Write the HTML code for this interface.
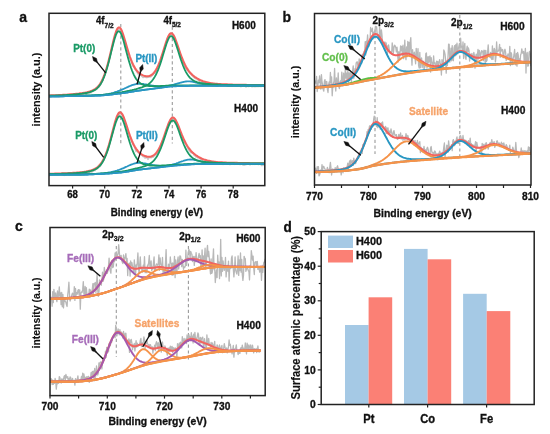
<!DOCTYPE html><html><head><meta charset="utf-8"><style>html,body{margin:0;padding:0;background:#fff;width:550px;height:434px;overflow:hidden}svg{display:block}text{white-space:pre}</style></head><body>
<svg width="550" height="434" viewBox="0 0 550 434" font-family='"Liberation Sans", sans-serif' font-weight="bold" style="will-change:transform">
<defs><clipPath id="ca"><rect x="49" y="13.3" width="215.8" height="172.29999999999998"/></clipPath><clipPath id="cb"><rect x="314.5" y="13.5" width="216.5" height="171.5"/></clipPath><clipPath id="cc"><rect x="50" y="227.5" width="215.2" height="168.10000000000002"/></clipPath></defs>
<line x1="120.8" y1="24" x2="120.8" y2="143.5" stroke="#9a9a9a" stroke-width="1.1" stroke-dasharray="3.2,2.6"/>
<line x1="172.3" y1="26.5" x2="172.3" y2="143.5" stroke="#9a9a9a" stroke-width="1.1" stroke-dasharray="3.2,2.6"/>
<g clip-path="url(#ca)"><polyline points="49.0,96.7 50.0,97.3 51.0,97.2 52.0,96.3 53.0,96.4 54.0,96.3 55.0,96.8 56.0,96.4 57.0,96.8 58.0,95.4 59.0,97.1 60.0,96.2 61.0,96.6 62.0,96.1 63.0,95.9 64.0,96.3 65.0,96.4 66.0,95.8 67.0,95.8 68.0,96.1 69.0,95.3 70.0,94.9 71.0,95.8 72.0,95.2 73.0,94.4 74.0,94.9 75.0,95.0 76.0,94.5 77.0,94.3 78.0,94.9 79.0,95.2 80.0,94.5 81.0,94.1 82.0,94.6 83.0,94.6 84.0,93.9 85.0,94.1 86.0,94.2 87.0,93.3 88.0,92.8 89.0,93.1 90.0,92.8 91.0,92.8 92.0,91.3 93.0,91.1 94.0,90.5 95.0,89.4 96.0,89.6 97.0,89.0 98.0,87.4 99.0,87.2 100.0,85.6 101.0,83.9 102.0,81.9 103.0,80.1 104.0,76.5 105.0,74.7 106.0,71.7 107.0,67.1 108.0,64.6 109.0,60.4 110.0,56.8 111.0,52.0 112.0,47.9 113.0,43.8 114.0,39.2 115.0,36.3 116.0,32.9 117.0,30.8 118.0,28.9 119.0,29.2 120.0,29.4 121.0,30.3 122.0,32.8 123.0,35.9 124.0,39.3 125.0,40.9 126.0,45.6 127.0,48.9 128.0,52.0 129.0,54.7 130.0,58.8 131.0,60.3 132.0,63.7 133.0,66.3 134.0,66.8 135.0,69.1 136.0,70.1 137.0,72.2 138.0,73.9 139.0,75.1 140.0,74.0 141.0,75.3 142.0,76.5 143.0,77.4 144.0,77.2 145.0,76.8 146.0,77.5 147.0,77.4 148.0,77.3 149.0,76.8 150.0,77.1 151.0,76.6 152.0,75.7 153.0,74.8 154.0,73.2 155.0,72.3 156.0,71.6 157.0,69.1 158.0,66.4 159.0,65.5 160.0,62.5 161.0,60.5 162.0,56.5 163.0,53.0 164.0,49.3 165.0,47.4 166.0,44.9 167.0,40.3 168.0,37.9 169.0,36.5 170.0,34.5 171.0,34.2 172.0,34.4 173.0,35.7 174.0,37.8 175.0,39.4 176.0,42.5 177.0,44.6 178.0,48.0 179.0,49.7 180.0,53.0 181.0,56.9 182.0,58.9 183.0,62.0 184.0,64.2 185.0,66.7 186.0,68.3 187.0,70.1 188.0,71.0 189.0,72.1 190.0,73.3 191.0,74.5 192.0,75.2 193.0,76.4 194.0,77.5 195.0,78.4 196.0,78.8 197.0,78.6 198.0,80.1 199.0,80.8 200.0,81.7 201.0,81.9 202.0,81.7 203.0,82.0 204.0,83.7 205.0,83.4 206.0,84.3 207.0,84.7 208.0,83.4 209.0,84.2 210.0,84.4 211.0,84.7 212.0,84.8 213.0,84.8 214.0,84.9 215.0,84.1 216.0,84.9 217.0,84.7 218.0,85.2 219.0,85.0 220.0,85.6 221.0,85.8 222.0,85.6 223.0,85.6 224.0,85.6 225.0,85.3 226.0,85.5 227.0,85.4 228.0,85.9 229.0,85.7 230.0,86.0 231.0,85.1 232.0,86.3 233.0,85.5 234.0,85.5 235.0,85.8 236.0,85.7 237.0,86.1 238.0,85.7 239.0,85.5 240.0,85.6 241.0,86.7 242.0,86.1 243.0,85.5 244.0,86.1 245.0,85.3 246.0,87.0 247.0,85.4 248.0,86.4 249.0,86.5 250.0,85.5 251.0,86.4 252.0,86.7 253.0,86.5 254.0,86.4 255.0,86.7 256.0,86.4 257.0,86.5 258.0,86.2 259.0,86.6 260.0,85.9 261.0,86.7 262.0,86.1 263.0,85.8 264.0,86.6" fill="none" stroke="#c8c8c8" stroke-width="1.5" stroke-linejoin="round" stroke-linecap="round" /><polyline points="49.0,95.5 50.0,95.5 51.0,95.4 52.0,95.4 53.0,95.4 54.0,95.3 55.0,95.3 56.0,95.2 57.0,95.2 58.0,95.2 59.0,95.1 60.0,95.1 61.0,95.0 62.0,95.0 63.0,94.9 64.0,94.8 65.0,94.8 66.0,94.7 67.0,94.7 68.0,94.6 69.0,94.5 70.0,94.4 71.0,94.4 72.0,94.3 73.0,94.2 74.0,94.1 75.0,94.0 76.0,93.9 77.0,93.8 78.0,93.7 79.0,93.6 80.0,93.4 81.0,93.3 82.0,93.2 83.0,93.0 84.0,92.8 85.0,92.7 86.0,92.5 87.0,92.3 88.0,92.0 89.0,91.7 90.0,91.4 91.0,91.1 92.0,90.7 93.0,90.3 94.0,89.7 95.0,89.1 96.0,88.4 97.0,87.5 98.0,86.5 99.0,85.4 100.0,84.0 101.0,82.4 102.0,80.5 103.0,78.4 104.0,76.0 105.0,73.2 106.0,70.2 107.0,66.8 108.0,63.2 109.0,59.3 110.0,55.2 111.0,51.0 112.0,46.7 113.0,42.5 114.0,38.5 115.0,34.8 116.0,31.7 117.0,29.4 118.0,27.9 119.0,27.4 120.0,27.9 121.0,29.2 122.0,31.3 123.0,34.0 124.0,37.2 125.0,40.5 126.0,44.0 127.0,47.5 128.0,50.8 129.0,54.0 130.0,57.0 131.0,59.7 132.0,62.2 133.0,64.4 134.0,66.4 135.0,68.1 136.0,69.6 137.0,70.9 138.0,72.0 139.0,72.9 140.0,73.7 141.0,74.4 142.0,74.9 143.0,75.4 144.0,75.8 145.0,76.0 146.0,76.2 147.0,76.2 148.0,76.2 149.0,76.0 150.0,75.7 151.0,75.2 152.0,74.6 153.0,73.7 154.0,72.7 155.0,71.4 156.0,69.8 157.0,68.0 158.0,66.0 159.0,63.6 160.0,61.1 161.0,58.2 162.0,55.2 163.0,52.1 164.0,48.8 165.0,45.6 166.0,42.4 167.0,39.5 168.0,37.0 169.0,35.1 170.0,33.7 171.0,33.2 172.0,33.4 173.0,34.4 174.0,36.0 175.0,38.2 176.0,40.8 177.0,43.6 178.0,46.6 179.0,49.6 180.0,52.5 181.0,55.3 182.0,58.0 183.0,60.5 184.0,62.7 185.0,64.8 186.0,66.7 187.0,68.4 188.0,69.9 189.0,71.3 190.0,72.5 191.0,73.6 192.0,74.6 193.0,75.5 194.0,76.3 195.0,77.1 196.0,77.7 197.0,78.4 198.0,78.9 199.0,79.5 200.0,80.0 201.0,80.4 202.0,80.8 203.0,81.2 204.0,81.5 205.0,81.9 206.0,82.1 207.0,82.4 208.0,82.6 209.0,82.8 210.0,83.0 211.0,83.2 212.0,83.3 213.0,83.5 214.0,83.6 215.0,83.7 216.0,83.8 217.0,83.9 218.0,84.0 219.0,84.0 220.0,84.1 221.0,84.2 222.0,84.2 223.0,84.3 224.0,84.3 225.0,84.4 226.0,84.4 227.0,84.4 228.0,84.5 229.0,84.5 230.0,84.6 231.0,84.6 232.0,84.6 233.0,84.7 234.0,84.7 235.0,84.7 236.0,84.7 237.0,84.8 238.0,84.8 239.0,84.8 240.0,84.8 241.0,84.8 242.0,84.9 243.0,84.9 244.0,84.9 245.0,84.9 246.0,84.9 247.0,85.0 248.0,85.0 249.0,85.0 250.0,85.0 251.0,85.0 252.0,85.0 253.0,85.0 254.0,85.1 255.0,85.1 256.0,85.1 257.0,85.1 258.0,85.1 259.0,85.1 260.0,85.1 261.0,85.1 262.0,85.2 263.0,85.2 264.0,85.2" fill="none" stroke="#f2635f" stroke-width="2.1" stroke-linejoin="round" stroke-linecap="round" /><polyline points="49.0,96.3 50.0,96.3 51.0,96.3 52.0,96.3 53.0,96.3 54.0,96.3 55.0,96.3 56.0,96.3 57.0,96.3 58.0,96.3 59.0,96.2 60.0,96.2 61.0,96.2 62.0,96.2 63.0,96.2 64.0,96.2 65.0,96.2 66.0,96.1 67.0,96.1 68.0,96.1 69.0,96.1 70.0,96.1 71.0,96.0 72.0,96.0 73.0,96.0 74.0,96.0 75.0,96.0 76.0,95.9 77.0,95.9 78.0,95.9 79.0,95.9 80.0,95.9 81.0,95.8 82.0,95.8 83.0,95.8 84.0,95.8 85.0,95.7 86.0,95.7 87.0,95.7 88.0,95.7 89.0,95.6 90.0,95.6 91.0,95.6 92.0,95.5 93.0,95.5 94.0,95.5 95.0,95.4 96.0,95.4 97.0,95.3 98.0,95.2 99.0,95.2 100.0,95.1 101.0,95.0 102.0,94.9 103.0,94.8 104.0,94.7 105.0,94.6 106.0,94.4 107.0,94.2 108.0,94.1 109.0,93.8 110.0,93.6 111.0,93.4 112.0,93.1 113.0,92.9 114.0,92.6 115.0,92.2 116.0,91.9 117.0,91.6 118.0,91.2 119.0,90.8 120.0,90.4 121.0,90.0 122.0,89.6 123.0,89.2 124.0,88.7 125.0,88.2 126.0,87.8 127.0,87.3 128.0,86.9 129.0,86.4 130.0,86.0 131.0,85.6 132.0,85.2 133.0,84.9 134.0,84.6 135.0,84.3 136.0,84.1 137.0,83.9 138.0,83.8 139.0,83.8 140.0,83.8 141.0,83.8 142.0,83.9 143.0,84.0 144.0,84.2 145.0,84.3 146.0,84.5 147.0,84.7 148.0,84.8 149.0,85.0 150.0,85.2 151.0,85.4 152.0,85.6 153.0,85.7 154.0,85.9 155.0,86.0 156.0,86.1 157.0,86.2 158.0,86.3 159.0,86.4 160.0,86.4 161.0,86.4 162.0,86.4 163.0,86.4 164.0,86.4 165.0,86.4 166.0,86.3 167.0,86.3 168.0,86.2 169.0,86.2 170.0,86.1 171.0,86.1 172.0,86.1 173.0,86.0 174.0,86.0 175.0,86.0 176.0,86.0 177.0,85.9 178.0,85.9 179.0,85.9 180.0,85.9 181.0,85.9 182.0,85.9 183.0,85.9 184.0,85.8 185.0,85.8 186.0,85.8 187.0,85.8 188.0,85.8 189.0,85.8 190.0,85.7 191.0,85.7 192.0,85.7 193.0,85.7 194.0,85.7 195.0,85.7 196.0,85.7 197.0,85.7 198.0,85.7 199.0,85.7 200.0,85.7 201.0,85.7 202.0,85.7 203.0,85.7 204.0,85.7 205.0,85.7 206.0,85.7 207.0,85.7 208.0,85.7 209.0,85.7 210.0,85.7 211.0,85.7 212.0,85.7 213.0,85.7 214.0,85.7 215.0,85.7 216.0,85.7 217.0,85.7 218.0,85.7 219.0,85.7 220.0,85.7 221.0,85.7 222.0,85.7 223.0,85.7 224.0,85.7 225.0,85.7 226.0,85.7 227.0,85.7 228.0,85.7 229.0,85.7 230.0,85.7 231.0,85.7 232.0,85.7 233.0,85.7 234.0,85.7 235.0,85.7 236.0,85.7 237.0,85.7 238.0,85.7 239.0,85.7 240.0,85.7 241.0,85.7 242.0,85.7 243.0,85.7 244.0,85.7 245.0,85.7 246.0,85.7 247.0,85.7 248.0,85.7 249.0,85.7 250.0,85.7 251.0,85.7 252.0,85.7 253.0,85.7 254.0,85.7 255.0,85.7 256.0,85.7 257.0,85.7 258.0,85.7 259.0,85.7 260.0,85.7 261.0,85.7 262.0,85.7 263.0,85.7 264.0,85.7" fill="none" stroke="#2896c2" stroke-width="1.8" stroke-linejoin="round" stroke-linecap="round" /><polyline points="49.0,96.4 50.0,96.4 51.0,96.4 52.0,96.4 53.0,96.4 54.0,96.4 55.0,96.3 56.0,96.3 57.0,96.3 58.0,96.3 59.0,96.3 60.0,96.3 61.0,96.3 62.0,96.3 63.0,96.3 64.0,96.2 65.0,96.2 66.0,96.2 67.0,96.2 68.0,96.2 69.0,96.2 70.0,96.2 71.0,96.1 72.0,96.1 73.0,96.1 74.0,96.1 75.0,96.1 76.0,96.1 77.0,96.0 78.0,96.0 79.0,96.0 80.0,96.0 81.0,96.0 82.0,95.9 83.0,95.9 84.0,95.9 85.0,95.9 86.0,95.9 87.0,95.9 88.0,95.8 89.0,95.8 90.0,95.8 91.0,95.8 92.0,95.7 93.0,95.7 94.0,95.7 95.0,95.7 96.0,95.6 97.0,95.6 98.0,95.6 99.0,95.5 100.0,95.5 101.0,95.4 102.0,95.4 103.0,95.3 104.0,95.2 105.0,95.2 106.0,95.1 107.0,95.0 108.0,94.9 109.0,94.8 110.0,94.7 111.0,94.6 112.0,94.4 113.0,94.3 114.0,94.2 115.0,94.1 116.0,94.0 117.0,93.8 118.0,93.7 119.0,93.6 120.0,93.5 121.0,93.3 122.0,93.2 123.0,93.1 124.0,92.9 125.0,92.8 126.0,92.6 127.0,92.5 128.0,92.3 129.0,92.2 130.0,92.0 131.0,91.8 132.0,91.7 133.0,91.5 134.0,91.3 135.0,91.2 136.0,91.0 137.0,90.9 138.0,90.7 139.0,90.6 140.0,90.4 141.0,90.3 142.0,90.1 143.0,90.0 144.0,89.9 145.0,89.7 146.0,89.6 147.0,89.4 148.0,89.3 149.0,89.2 150.0,89.0 151.0,88.9 152.0,88.8 153.0,88.6 154.0,88.5 155.0,88.4 156.0,88.2 157.0,88.1 158.0,87.9 159.0,87.8 160.0,87.6 161.0,87.5 162.0,87.3 163.0,87.1 164.0,86.9 165.0,86.7 166.0,86.5 167.0,86.3 168.0,86.0 169.0,85.8 170.0,85.5 171.0,85.3 172.0,85.0 173.0,84.8 174.0,84.5 175.0,84.2 176.0,84.0 177.0,83.7 178.0,83.4 179.0,83.1 180.0,82.8 181.0,82.5 182.0,82.3 183.0,82.0 184.0,81.8 185.0,81.6 186.0,81.5 187.0,81.4 188.0,81.3 189.0,81.3 190.0,81.4 191.0,81.5 192.0,81.6 193.0,81.8 194.0,82.0 195.0,82.3 196.0,82.5 197.0,82.8 198.0,83.0 199.0,83.3 200.0,83.5 201.0,83.7 202.0,84.0 203.0,84.2 204.0,84.4 205.0,84.5 206.0,84.7 207.0,84.8 208.0,84.9 209.0,85.0 210.0,85.1 211.0,85.2 212.0,85.3 213.0,85.3 214.0,85.4 215.0,85.4 216.0,85.5 217.0,85.5 218.0,85.5 219.0,85.5 220.0,85.6 221.0,85.6 222.0,85.6 223.0,85.6 224.0,85.6 225.0,85.6 226.0,85.6 227.0,85.6 228.0,85.6 229.0,85.6 230.0,85.6 231.0,85.6 232.0,85.6 233.0,85.6 234.0,85.6 235.0,85.6 236.0,85.6 237.0,85.6 238.0,85.6 239.0,85.6 240.0,85.6 241.0,85.6 242.0,85.6 243.0,85.6 244.0,85.6 245.0,85.7 246.0,85.7 247.0,85.7 248.0,85.7 249.0,85.7 250.0,85.7 251.0,85.7 252.0,85.7 253.0,85.7 254.0,85.7 255.0,85.7 256.0,85.7 257.0,85.7 258.0,85.7 259.0,85.7 260.0,85.7 261.0,85.7 262.0,85.7 263.0,85.7 264.0,85.7" fill="none" stroke="#2896c2" stroke-width="1.8" stroke-linejoin="round" stroke-linecap="round" /><polyline points="49.0,95.7 50.0,95.7 51.0,95.7 52.0,95.7 53.0,95.6 54.0,95.6 55.0,95.6 56.0,95.5 57.0,95.5 58.0,95.4 59.0,95.4 60.0,95.4 61.0,95.3 62.0,95.3 63.0,95.2 64.0,95.2 65.0,95.1 66.0,95.1 67.0,95.0 68.0,95.0 69.0,94.9 70.0,94.8 71.0,94.8 72.0,94.7 73.0,94.6 74.0,94.5 75.0,94.4 76.0,94.3 77.0,94.2 78.0,94.1 79.0,94.0 80.0,93.9 81.0,93.8 82.0,93.7 83.0,93.5 84.0,93.4 85.0,93.2 86.0,93.0 87.0,92.8 88.0,92.6 89.0,92.4 90.0,92.1 91.0,91.7 92.0,91.4 93.0,90.9 94.0,90.4 95.0,89.9 96.0,89.2 97.0,88.3 98.0,87.4 99.0,86.2 100.0,84.9 101.0,83.4 102.0,81.6 103.0,79.5 104.0,77.1 105.0,74.5 106.0,71.5 107.0,68.3 108.0,64.7 109.0,61.0 110.0,57.0 111.0,52.9 112.0,48.8 113.0,44.8 114.0,41.0 115.0,37.6 116.0,34.7 117.0,32.6 118.0,31.4 119.0,31.2 120.0,32.0 121.0,33.6 122.0,36.1 123.0,39.1 124.0,42.6 125.0,46.4 126.0,50.2 127.0,54.0 128.0,57.8 129.0,61.3 130.0,64.6 131.0,67.7 132.0,70.5 133.0,72.9 134.0,75.1 135.0,77.0 136.0,78.7 137.0,80.1 138.0,81.2 139.0,82.2 140.0,83.1 141.0,83.7 142.0,84.3 143.0,84.7 144.0,85.1 145.0,85.4 146.0,85.6 147.0,85.8 148.0,85.9 149.0,86.0 150.0,86.1 151.0,86.1 152.0,86.2 153.0,86.2 154.0,86.2 155.0,86.2 156.0,86.2 157.0,86.2 158.0,86.2 159.0,86.1 160.0,86.1 161.0,86.0 162.0,86.0 163.0,85.9 164.0,85.8 165.0,85.8 166.0,85.7 167.0,85.6 168.0,85.6 169.0,85.5 170.0,85.4 171.0,85.4 172.0,85.4 173.0,85.3 174.0,85.3 175.0,85.3 176.0,85.3 177.0,85.3 178.0,85.3 179.0,85.3 180.0,85.3 181.0,85.3 182.0,85.3 183.0,85.3 184.0,85.3 185.0,85.3 186.0,85.3 187.0,85.3 188.0,85.3 189.0,85.3 190.0,85.3 191.0,85.3 192.0,85.3 193.0,85.3 194.0,85.3 195.0,85.3 196.0,85.3 197.0,85.3 198.0,85.3 199.0,85.3 200.0,85.3 201.0,85.3 202.0,85.3 203.0,85.3 204.0,85.3 205.0,85.3 206.0,85.4 207.0,85.4 208.0,85.4 209.0,85.4 210.0,85.4 211.0,85.4 212.0,85.4 213.0,85.4 214.0,85.4 215.0,85.4 216.0,85.4 217.0,85.4 218.0,85.4 219.0,85.4 220.0,85.4 221.0,85.4 222.0,85.4 223.0,85.4 224.0,85.4 225.0,85.4 226.0,85.4 227.0,85.5 228.0,85.5 229.0,85.5 230.0,85.5 231.0,85.5 232.0,85.5 233.0,85.5 234.0,85.5 235.0,85.5 236.0,85.5 237.0,85.5 238.0,85.5 239.0,85.5 240.0,85.5 241.0,85.5 242.0,85.5 243.0,85.5 244.0,85.5 245.0,85.5 246.0,85.5 247.0,85.5 248.0,85.5 249.0,85.5 250.0,85.5 251.0,85.5 252.0,85.5 253.0,85.5 254.0,85.5 255.0,85.5 256.0,85.5 257.0,85.5 258.0,85.5 259.0,85.5 260.0,85.5 261.0,85.5 262.0,85.5 263.0,85.5 264.0,85.5" fill="none" stroke="#1a9a66" stroke-width="1.8" stroke-linejoin="round" stroke-linecap="round" /><polyline points="49.0,96.2 50.0,96.2 51.0,96.2 52.0,96.2 53.0,96.2 54.0,96.2 55.0,96.2 56.0,96.1 57.0,96.1 58.0,96.1 59.0,96.1 60.0,96.1 61.0,96.1 62.0,96.1 63.0,96.0 64.0,96.0 65.0,96.0 66.0,96.0 67.0,96.0 68.0,95.9 69.0,95.9 70.0,95.9 71.0,95.9 72.0,95.9 73.0,95.8 74.0,95.8 75.0,95.8 76.0,95.8 77.0,95.8 78.0,95.7 79.0,95.7 80.0,95.7 81.0,95.7 82.0,95.6 83.0,95.6 84.0,95.6 85.0,95.6 86.0,95.5 87.0,95.5 88.0,95.5 89.0,95.4 90.0,95.4 91.0,95.4 92.0,95.3 93.0,95.3 94.0,95.3 95.0,95.2 96.0,95.2 97.0,95.1 98.0,95.1 99.0,95.0 100.0,95.0 101.0,94.9 102.0,94.9 103.0,94.8 104.0,94.7 105.0,94.6 106.0,94.5 107.0,94.4 108.0,94.3 109.0,94.1 110.0,94.0 111.0,93.9 112.0,93.7 113.0,93.6 114.0,93.4 115.0,93.3 116.0,93.1 117.0,93.0 118.0,92.8 119.0,92.7 120.0,92.5 121.0,92.3 122.0,92.2 123.0,92.0 124.0,91.8 125.0,91.6 126.0,91.4 127.0,91.2 128.0,91.0 129.0,90.8 130.0,90.5 131.0,90.3 132.0,90.1 133.0,89.8 134.0,89.6 135.0,89.3 136.0,89.1 137.0,88.8 138.0,88.5 139.0,88.2 140.0,87.9 141.0,87.6 142.0,87.3 143.0,86.9 144.0,86.5 145.0,86.1 146.0,85.6 147.0,85.0 148.0,84.4 149.0,83.7 150.0,82.9 151.0,81.9 152.0,80.8 153.0,79.5 154.0,78.1 155.0,76.4 156.0,74.5 157.0,72.4 158.0,70.1 159.0,67.5 160.0,64.7 161.0,61.6 162.0,58.5 163.0,55.1 164.0,51.8 165.0,48.4 166.0,45.2 167.0,42.3 168.0,39.8 169.0,37.8 170.0,36.5 171.0,36.1 172.0,36.4 173.0,37.5 174.0,39.3 175.0,41.6 176.0,44.4 177.0,47.4 178.0,50.6 179.0,53.8 180.0,56.9 181.0,60.0 182.0,62.8 183.0,65.5 184.0,67.9 185.0,70.1 186.0,72.1 187.0,73.8 188.0,75.3 189.0,76.7 190.0,77.8 191.0,78.7 192.0,79.6 193.0,80.2 194.0,80.8 195.0,81.3 196.0,81.7 197.0,82.1 198.0,82.4 199.0,82.6 200.0,82.9 201.0,83.1 202.0,83.2 203.0,83.4 204.0,83.5 205.0,83.6 206.0,83.8 207.0,83.9 208.0,84.0 209.0,84.0 210.0,84.1 211.0,84.2 212.0,84.3 213.0,84.3 214.0,84.4 215.0,84.4 216.0,84.5 217.0,84.5 218.0,84.6 219.0,84.6 220.0,84.7 221.0,84.7 222.0,84.8 223.0,84.8 224.0,84.8 225.0,84.8 226.0,84.9 227.0,84.9 228.0,84.9 229.0,85.0 230.0,85.0 231.0,85.0 232.0,85.0 233.0,85.0 234.0,85.1 235.0,85.1 236.0,85.1 237.0,85.1 238.0,85.1 239.0,85.1 240.0,85.2 241.0,85.2 242.0,85.2 243.0,85.2 244.0,85.2 245.0,85.2 246.0,85.2 247.0,85.3 248.0,85.3 249.0,85.3 250.0,85.3 251.0,85.3 252.0,85.3 253.0,85.3 254.0,85.3 255.0,85.3 256.0,85.3 257.0,85.3 258.0,85.4 259.0,85.4 260.0,85.4 261.0,85.4 262.0,85.4 263.0,85.4 264.0,85.4" fill="none" stroke="#1a9a66" stroke-width="1.8" stroke-linejoin="round" stroke-linecap="round" /><polyline points="49.0,96.4 50.0,96.4 51.0,96.4 52.0,96.4 53.0,96.4 54.0,96.4 55.0,96.4 56.0,96.3 57.0,96.3 58.0,96.3 59.0,96.3 60.0,96.3 61.0,96.3 62.0,96.3 63.0,96.3 64.0,96.3 65.0,96.2 66.0,96.2 67.0,96.2 68.0,96.2 69.0,96.2 70.0,96.2 71.0,96.2 72.0,96.1 73.0,96.1 74.0,96.1 75.0,96.1 76.0,96.1 77.0,96.1 78.0,96.0 79.0,96.0 80.0,96.0 81.0,96.0 82.0,96.0 83.0,95.9 84.0,95.9 85.0,95.9 86.0,95.9 87.0,95.9 88.0,95.9 89.0,95.8 90.0,95.8 91.0,95.8 92.0,95.8 93.0,95.7 94.0,95.7 95.0,95.7 96.0,95.6 97.0,95.6 98.0,95.6 99.0,95.5 100.0,95.5 101.0,95.5 102.0,95.4 103.0,95.3 104.0,95.3 105.0,95.2 106.0,95.1 107.0,95.0 108.0,94.9 109.0,94.8 110.0,94.7 111.0,94.6 112.0,94.5 113.0,94.4 114.0,94.2 115.0,94.1 116.0,94.0 117.0,93.9 118.0,93.7 119.0,93.6 120.0,93.5 121.0,93.4 122.0,93.2 123.0,93.1 124.0,93.0 125.0,92.8 126.0,92.7 127.0,92.5 128.0,92.4 129.0,92.2 130.0,92.0 131.0,91.9 132.0,91.7 133.0,91.6 134.0,91.4 135.0,91.2 136.0,91.1 137.0,90.9 138.0,90.8 139.0,90.6 140.0,90.5 141.0,90.4 142.0,90.2 143.0,90.1 144.0,90.0 145.0,89.8 146.0,89.7 147.0,89.6 148.0,89.4 149.0,89.3 150.0,89.2 151.0,89.0 152.0,88.9 153.0,88.8 154.0,88.7 155.0,88.5 156.0,88.4 157.0,88.3 158.0,88.2 159.0,88.0 160.0,87.9 161.0,87.8 162.0,87.6 163.0,87.5 164.0,87.4 165.0,87.2 166.0,87.1 167.0,87.0 168.0,86.9 169.0,86.8 170.0,86.6 171.0,86.6 172.0,86.5 173.0,86.4 174.0,86.3 175.0,86.3 176.0,86.3 177.0,86.2 178.0,86.2 179.0,86.2 180.0,86.1 181.0,86.1 182.0,86.1 183.0,86.1 184.0,86.0 185.0,86.0 186.0,86.0 187.0,86.0 188.0,85.9 189.0,85.9 190.0,85.9 191.0,85.9 192.0,85.9 193.0,85.9 194.0,85.8 195.0,85.8 196.0,85.8 197.0,85.8 198.0,85.8 199.0,85.8 200.0,85.8 201.0,85.8 202.0,85.8 203.0,85.8 204.0,85.8 205.0,85.8 206.0,85.8 207.0,85.8 208.0,85.8 209.0,85.8 210.0,85.8 211.0,85.8 212.0,85.8 213.0,85.8 214.0,85.8 215.0,85.8 216.0,85.8 217.0,85.8 218.0,85.8 219.0,85.7 220.0,85.7 221.0,85.7 222.0,85.7 223.0,85.7 224.0,85.7 225.0,85.7 226.0,85.7 227.0,85.7 228.0,85.7 229.0,85.7 230.0,85.7 231.0,85.7 232.0,85.7 233.0,85.7 234.0,85.7 235.0,85.7 236.0,85.7 237.0,85.7 238.0,85.7 239.0,85.7 240.0,85.7 241.0,85.7 242.0,85.7 243.0,85.7 244.0,85.7 245.0,85.7 246.0,85.7 247.0,85.7 248.0,85.7 249.0,85.7 250.0,85.7 251.0,85.7 252.0,85.7 253.0,85.7 254.0,85.7 255.0,85.7 256.0,85.7 257.0,85.7 258.0,85.7 259.0,85.7 260.0,85.7 261.0,85.7 262.0,85.7 263.0,85.7 264.0,85.7" fill="none" stroke="#2896c2" stroke-width="1.8" stroke-linejoin="round" stroke-linecap="round" /><polyline points="49.0,175.8 50.0,175.4 51.0,174.7 52.0,175.3 53.0,174.7 54.0,174.8 55.0,174.9 56.0,173.7 57.0,174.9 58.0,174.2 59.0,174.4 60.0,174.0 61.0,173.9 62.0,174.2 63.0,175.0 64.0,175.4 65.0,174.5 66.0,175.0 67.0,174.3 68.0,173.4 69.0,174.4 70.0,174.5 71.0,174.0 72.0,174.3 73.0,174.4 74.0,173.6 75.0,173.2 76.0,173.8 77.0,173.7 78.0,173.6 79.0,174.2 80.0,174.4 81.0,173.3 82.0,173.7 83.0,173.7 84.0,173.4 85.0,173.5 86.0,172.6 87.0,173.0 88.0,173.4 89.0,172.5 90.0,171.6 91.0,171.9 92.0,171.9 93.0,171.1 94.0,170.2 95.0,170.7 96.0,168.8 97.0,169.0 98.0,167.9 99.0,166.4 100.0,166.5 101.0,164.8 102.0,162.6 103.0,161.8 104.0,159.4 105.0,156.4 106.0,154.6 107.0,152.3 108.0,149.5 109.0,145.9 110.0,142.4 111.0,138.9 112.0,134.7 113.0,131.5 114.0,127.2 115.0,123.6 116.0,120.5 117.0,116.9 118.0,114.9 119.0,114.7 120.0,113.6 121.0,113.7 122.0,115.2 123.0,116.6 124.0,119.4 125.0,121.7 126.0,125.2 127.0,127.3 128.0,131.9 129.0,134.0 130.0,136.3 131.0,139.6 132.0,142.0 133.0,144.5 134.0,145.8 135.0,148.4 136.0,151.6 137.0,150.5 138.0,152.5 139.0,153.2 140.0,154.4 141.0,154.2 142.0,155.2 143.0,156.6 144.0,156.8 145.0,158.1 146.0,157.2 147.0,157.9 148.0,159.4 149.0,157.6 150.0,157.4 151.0,157.7 152.0,157.3 153.0,157.3 154.0,156.3 155.0,155.0 156.0,154.4 157.0,154.4 158.0,152.2 159.0,148.5 160.0,147.8 161.0,145.2 162.0,143.5 163.0,140.5 164.0,138.8 165.0,135.4 166.0,132.4 167.0,129.1 168.0,126.2 169.0,123.9 170.0,122.2 171.0,120.3 172.0,118.8 173.0,119.4 174.0,119.2 175.0,120.2 176.0,121.4 177.0,123.6 178.0,125.9 179.0,127.3 180.0,131.8 181.0,134.1 182.0,136.3 183.0,139.3 184.0,141.2 185.0,143.2 186.0,143.7 187.0,146.5 188.0,148.5 189.0,150.4 190.0,151.8 191.0,152.8 192.0,152.5 193.0,153.0 194.0,155.2 195.0,155.8 196.0,157.0 197.0,157.1 198.0,157.9 199.0,157.6 200.0,159.1 201.0,159.2 202.0,160.0 203.0,160.5 204.0,160.6 205.0,161.2 206.0,161.3 207.0,162.0 208.0,162.1 209.0,161.9 210.0,162.0 211.0,163.4 212.0,162.6 213.0,163.3 214.0,163.2 215.0,162.8 216.0,162.8 217.0,163.3 218.0,163.5 219.0,163.8 220.0,162.9 221.0,163.3 222.0,163.6 223.0,164.5 224.0,162.6 225.0,164.0 226.0,163.5 227.0,164.1 228.0,163.6 229.0,164.1 230.0,164.7 231.0,164.2 232.0,164.2 233.0,164.2 234.0,163.7 235.0,164.4 236.0,164.0 237.0,163.7 238.0,164.1 239.0,164.1 240.0,164.6 241.0,164.2 242.0,164.0 243.0,165.0 244.0,164.8 245.0,164.9 246.0,164.6 247.0,164.3 248.0,164.1 249.0,164.2 250.0,164.8 251.0,164.4 252.0,163.6 253.0,164.4 254.0,163.7 255.0,164.5 256.0,163.8 257.0,163.8 258.0,164.5 259.0,164.4 260.0,163.6 261.0,164.9 262.0,165.6 263.0,163.8 264.0,165.4" fill="none" stroke="#c8c8c8" stroke-width="1.5" stroke-linejoin="round" stroke-linecap="round" /><polyline points="49.0,173.8 50.0,173.8 51.0,173.7 52.0,173.7 53.0,173.7 54.0,173.7 55.0,173.6 56.0,173.6 57.0,173.6 58.0,173.6 59.0,173.5 60.0,173.5 61.0,173.5 62.0,173.4 63.0,173.4 64.0,173.4 65.0,173.3 66.0,173.3 67.0,173.2 68.0,173.2 69.0,173.1 70.0,173.1 71.0,173.0 72.0,173.0 73.0,172.9 74.0,172.9 75.0,172.8 76.0,172.7 77.0,172.6 78.0,172.6 79.0,172.5 80.0,172.4 81.0,172.3 82.0,172.2 83.0,172.0 84.0,171.9 85.0,171.7 86.0,171.6 87.0,171.4 88.0,171.2 89.0,170.9 90.0,170.7 91.0,170.4 92.0,170.1 93.0,169.7 94.0,169.3 95.0,168.8 96.0,168.2 97.0,167.5 98.0,166.7 99.0,165.8 100.0,164.7 101.0,163.5 102.0,162.0 103.0,160.3 104.0,158.4 105.0,156.2 106.0,153.7 107.0,151.0 108.0,147.9 109.0,144.7 110.0,141.1 111.0,137.4 112.0,133.6 113.0,129.7 114.0,125.9 115.0,122.3 116.0,119.0 117.0,116.2 118.0,114.1 119.0,112.7 120.0,112.2 121.0,112.6 122.0,113.8 123.0,115.6 124.0,118.0 125.0,120.8 126.0,123.8 127.0,126.9 128.0,130.0 129.0,133.0 130.0,135.9 131.0,138.5 132.0,141.0 133.0,143.2 134.0,145.2 135.0,147.0 136.0,148.6 137.0,150.0 138.0,151.2 139.0,152.2 140.0,153.1 141.0,153.9 142.0,154.6 143.0,155.2 144.0,155.6 145.0,156.0 146.0,156.4 147.0,156.6 148.0,156.7 149.0,156.7 150.0,156.7 151.0,156.5 152.0,156.1 153.0,155.7 154.0,155.0 155.0,154.2 156.0,153.1 157.0,151.9 158.0,150.4 159.0,148.7 160.0,146.7 161.0,144.5 162.0,142.0 163.0,139.4 164.0,136.6 165.0,133.7 166.0,130.7 167.0,127.8 168.0,125.0 169.0,122.5 170.0,120.4 171.0,118.8 172.0,117.8 173.0,117.5 174.0,118.0 175.0,119.0 176.0,120.6 177.0,122.7 178.0,125.0 179.0,127.5 180.0,130.1 181.0,132.7 182.0,135.2 183.0,137.5 184.0,139.8 185.0,141.8 186.0,143.7 187.0,145.5 188.0,147.0 189.0,148.4 190.0,149.7 191.0,150.9 192.0,151.9 193.0,152.9 194.0,153.7 195.0,154.5 196.0,155.3 197.0,155.9 198.0,156.6 199.0,157.2 200.0,157.7 201.0,158.2 202.0,158.7 203.0,159.1 204.0,159.5 205.0,159.8 206.0,160.1 207.0,160.4 208.0,160.7 209.0,160.9 210.0,161.1 211.0,161.3 212.0,161.5 213.0,161.6 214.0,161.8 215.0,161.9 216.0,162.0 217.0,162.1 218.0,162.2 219.0,162.2 220.0,162.3 221.0,162.4 222.0,162.4 223.0,162.5 224.0,162.5 225.0,162.6 226.0,162.6 227.0,162.7 228.0,162.7 229.0,162.7 230.0,162.8 231.0,162.8 232.0,162.8 233.0,162.8 234.0,162.9 235.0,162.9 236.0,162.9 237.0,162.9 238.0,163.0 239.0,163.0 240.0,163.0 241.0,163.0 242.0,163.0 243.0,163.0 244.0,163.1 245.0,163.1 246.0,163.1 247.0,163.1 248.0,163.1 249.0,163.1 250.0,163.2 251.0,163.2 252.0,163.2 253.0,163.2 254.0,163.2 255.0,163.2 256.0,163.2 257.0,163.2 258.0,163.2 259.0,163.3 260.0,163.3 261.0,163.3 262.0,163.3 263.0,163.3 264.0,163.3" fill="none" stroke="#f2635f" stroke-width="2.1" stroke-linejoin="round" stroke-linecap="round" /><polyline points="49.0,174.5 50.0,174.5 51.0,174.5 52.0,174.5 53.0,174.5 54.0,174.5 55.0,174.5 56.0,174.5 57.0,174.5 58.0,174.5 59.0,174.5 60.0,174.5 61.0,174.5 62.0,174.5 63.0,174.5 64.0,174.5 65.0,174.5 66.0,174.5 67.0,174.5 68.0,174.5 69.0,174.5 70.0,174.5 71.0,174.5 72.0,174.5 73.0,174.5 74.0,174.5 75.0,174.5 76.0,174.5 77.0,174.5 78.0,174.5 79.0,174.5 80.0,174.5 81.0,174.5 82.0,174.4 83.0,174.4 84.0,174.4 85.0,174.4 86.0,174.4 87.0,174.3 88.0,174.3 89.0,174.2 90.0,174.2 91.0,174.2 92.0,174.1 93.0,174.1 94.0,174.0 95.0,173.9 96.0,173.9 97.0,173.8 98.0,173.8 99.0,173.7 100.0,173.6 101.0,173.5 102.0,173.5 103.0,173.4 104.0,173.2 105.0,173.1 106.0,173.0 107.0,172.9 108.0,172.7 109.0,172.5 110.0,172.4 111.0,172.2 112.0,171.9 113.0,171.7 114.0,171.5 115.0,171.2 116.0,170.9 117.0,170.6 118.0,170.2 119.0,169.9 120.0,169.5 121.0,169.1 122.0,168.7 123.0,168.3 124.0,167.9 125.0,167.4 126.0,166.9 127.0,166.5 128.0,166.0 129.0,165.5 130.0,165.1 131.0,164.7 132.0,164.3 133.0,164.0 134.0,163.7 135.0,163.4 136.0,163.2 137.0,163.0 138.0,162.9 139.0,162.9 140.0,162.9 141.0,162.9 142.0,163.0 143.0,163.2 144.0,163.3 145.0,163.5 146.0,163.7 147.0,163.9 148.0,164.1 149.0,164.3 150.0,164.5 151.0,164.7 152.0,164.9 153.0,165.1 154.0,165.2 155.0,165.4 156.0,165.5 157.0,165.6 158.0,165.7 159.0,165.8 160.0,165.9 161.0,165.9 162.0,165.9 163.0,165.9 164.0,165.9 165.0,165.9 166.0,165.9 167.0,165.8 168.0,165.8 169.0,165.7 170.0,165.7 171.0,165.6 172.0,165.6 173.0,165.5 174.0,165.4 175.0,165.4 176.0,165.3 177.0,165.2 178.0,165.2 179.0,165.1 180.0,165.0 181.0,165.0 182.0,164.9 183.0,164.8 184.0,164.7 185.0,164.7 186.0,164.6 187.0,164.5 188.0,164.5 189.0,164.4 190.0,164.3 191.0,164.3 192.0,164.2 193.0,164.2 194.0,164.1 195.0,164.1 196.0,164.1 197.0,164.0 198.0,164.0 199.0,164.0 200.0,164.0 201.0,164.0 202.0,164.0 203.0,164.0 204.0,164.0 205.0,164.0 206.0,164.0 207.0,163.9 208.0,163.9 209.0,163.9 210.0,163.9 211.0,163.9 212.0,163.9 213.0,163.9 214.0,163.9 215.0,163.9 216.0,163.9 217.0,163.9 218.0,163.9 219.0,163.9 220.0,163.9 221.0,163.9 222.0,163.9 223.0,163.9 224.0,163.9 225.0,163.8 226.0,163.8 227.0,163.8 228.0,163.8 229.0,163.8 230.0,163.8 231.0,163.8 232.0,163.8 233.0,163.8 234.0,163.8 235.0,163.8 236.0,163.8 237.0,163.8 238.0,163.8 239.0,163.8 240.0,163.8 241.0,163.8 242.0,163.8 243.0,163.8 244.0,163.8 245.0,163.8 246.0,163.8 247.0,163.8 248.0,163.8 249.0,163.8 250.0,163.8 251.0,163.8 252.0,163.8 253.0,163.8 254.0,163.8 255.0,163.8 256.0,163.8 257.0,163.8 258.0,163.8 259.0,163.8 260.0,163.8 261.0,163.8 262.0,163.8 263.0,163.8 264.0,163.8" fill="none" stroke="#2896c2" stroke-width="1.8" stroke-linejoin="round" stroke-linecap="round" /><polyline points="49.0,174.6 50.0,174.6 51.0,174.6 52.0,174.6 53.0,174.6 54.0,174.6 55.0,174.6 56.0,174.6 57.0,174.6 58.0,174.6 59.0,174.6 60.0,174.6 61.0,174.6 62.0,174.6 63.0,174.6 64.0,174.6 65.0,174.6 66.0,174.6 67.0,174.6 68.0,174.6 69.0,174.6 70.0,174.6 71.0,174.6 72.0,174.6 73.0,174.6 74.0,174.6 75.0,174.6 76.0,174.6 77.0,174.6 78.0,174.6 79.0,174.6 80.0,174.6 81.0,174.6 82.0,174.6 83.0,174.6 84.0,174.5 85.0,174.5 86.0,174.5 87.0,174.5 88.0,174.4 89.0,174.4 90.0,174.4 91.0,174.3 92.0,174.3 93.0,174.3 94.0,174.2 95.0,174.2 96.0,174.1 97.0,174.1 98.0,174.1 99.0,174.0 100.0,174.0 101.0,173.9 102.0,173.9 103.0,173.8 104.0,173.8 105.0,173.7 106.0,173.7 107.0,173.6 108.0,173.5 109.0,173.5 110.0,173.4 111.0,173.3 112.0,173.3 113.0,173.2 114.0,173.1 115.0,173.0 116.0,172.9 117.0,172.8 118.0,172.7 119.0,172.7 120.0,172.6 121.0,172.5 122.0,172.3 123.0,172.2 124.0,172.1 125.0,171.9 126.0,171.8 127.0,171.6 128.0,171.5 129.0,171.3 130.0,171.1 131.0,170.9 132.0,170.8 133.0,170.6 134.0,170.4 135.0,170.3 136.0,170.1 137.0,169.9 138.0,169.8 139.0,169.7 140.0,169.5 141.0,169.4 142.0,169.3 143.0,169.1 144.0,169.0 145.0,168.9 146.0,168.8 147.0,168.7 148.0,168.6 149.0,168.4 150.0,168.3 151.0,168.2 152.0,168.1 153.0,168.0 154.0,167.9 155.0,167.7 156.0,167.6 157.0,167.5 158.0,167.4 159.0,167.2 160.0,167.1 161.0,166.9 162.0,166.8 163.0,166.6 164.0,166.4 165.0,166.3 166.0,166.1 167.0,165.9 168.0,165.6 169.0,165.4 170.0,165.2 171.0,164.9 172.0,164.7 173.0,164.4 174.0,164.1 175.0,163.8 176.0,163.5 177.0,163.1 178.0,162.8 179.0,162.4 180.0,162.0 181.0,161.7 182.0,161.3 183.0,161.0 184.0,160.6 185.0,160.3 186.0,160.1 187.0,159.9 188.0,159.7 189.0,159.6 190.0,159.5 191.0,159.5 192.0,159.6 193.0,159.7 194.0,159.8 195.0,160.0 196.0,160.2 197.0,160.5 198.0,160.7 199.0,161.0 200.0,161.2 201.0,161.5 202.0,161.8 203.0,162.0 204.0,162.2 205.0,162.4 206.0,162.6 207.0,162.8 208.0,162.9 209.0,163.1 210.0,163.2 211.0,163.3 212.0,163.4 213.0,163.4 214.0,163.5 215.0,163.6 216.0,163.6 217.0,163.6 218.0,163.7 219.0,163.7 220.0,163.7 221.0,163.7 222.0,163.7 223.0,163.7 224.0,163.7 225.0,163.7 226.0,163.8 227.0,163.8 228.0,163.8 229.0,163.8 230.0,163.8 231.0,163.8 232.0,163.8 233.0,163.8 234.0,163.8 235.0,163.8 236.0,163.8 237.0,163.8 238.0,163.8 239.0,163.8 240.0,163.8 241.0,163.8 242.0,163.8 243.0,163.8 244.0,163.8 245.0,163.8 246.0,163.8 247.0,163.8 248.0,163.8 249.0,163.8 250.0,163.8 251.0,163.8 252.0,163.8 253.0,163.8 254.0,163.8 255.0,163.8 256.0,163.8 257.0,163.8 258.0,163.8 259.0,163.8 260.0,163.8 261.0,163.8 262.0,163.8 263.0,163.8 264.0,163.8" fill="none" stroke="#2896c2" stroke-width="1.8" stroke-linejoin="round" stroke-linecap="round" /><polyline points="49.0,174.0 50.0,174.0 51.0,174.0 52.0,174.0 53.0,173.9 54.0,173.9 55.0,173.9 56.0,173.9 57.0,173.9 58.0,173.8 59.0,173.8 60.0,173.8 61.0,173.8 62.0,173.7 63.0,173.7 64.0,173.7 65.0,173.6 66.0,173.6 67.0,173.6 68.0,173.5 69.0,173.5 70.0,173.4 71.0,173.4 72.0,173.3 73.0,173.3 74.0,173.2 75.0,173.2 76.0,173.1 77.0,173.0 78.0,173.0 79.0,172.9 80.0,172.8 81.0,172.7 82.0,172.6 83.0,172.5 84.0,172.4 85.0,172.2 86.0,172.1 87.0,171.9 88.0,171.7 89.0,171.5 90.0,171.3 91.0,171.0 92.0,170.7 93.0,170.3 94.0,169.9 95.0,169.5 96.0,168.9 97.0,168.3 98.0,167.5 99.0,166.6 100.0,165.6 101.0,164.4 102.0,163.0 103.0,161.3 104.0,159.5 105.0,157.3 106.0,155.0 107.0,152.3 108.0,149.4 109.0,146.2 110.0,142.8 111.0,139.3 112.0,135.6 113.0,131.9 114.0,128.3 115.0,124.9 116.0,121.8 117.0,119.3 118.0,117.4 119.0,116.4 120.0,116.2 121.0,116.9 122.0,118.4 123.0,120.6 124.0,123.3 125.0,126.5 126.0,129.8 127.0,133.3 128.0,136.7 129.0,140.1 130.0,143.3 131.0,146.2 132.0,149.0 133.0,151.4 134.0,153.7 135.0,155.6 136.0,157.3 137.0,158.8 138.0,160.0 139.0,161.1 140.0,162.0 141.0,162.7 142.0,163.4 143.0,163.9 144.0,164.3 145.0,164.6 146.0,164.9 147.0,165.1 148.0,165.2 149.0,165.4 150.0,165.5 151.0,165.6 152.0,165.6 153.0,165.7 154.0,165.7 155.0,165.7 156.0,165.7 157.0,165.7 158.0,165.7 159.0,165.7 160.0,165.6 161.0,165.6 162.0,165.5 163.0,165.5 164.0,165.4 165.0,165.4 166.0,165.3 167.0,165.2 168.0,165.2 169.0,165.1 170.0,165.0 171.0,165.0 172.0,164.9 173.0,164.9 174.0,164.8 175.0,164.8 176.0,164.7 177.0,164.7 178.0,164.6 179.0,164.5 180.0,164.5 181.0,164.4 182.0,164.4 183.0,164.3 184.0,164.2 185.0,164.2 186.0,164.1 187.0,164.1 188.0,164.0 189.0,164.0 190.0,163.9 191.0,163.9 192.0,163.8 193.0,163.8 194.0,163.7 195.0,163.7 196.0,163.7 197.0,163.7 198.0,163.7 199.0,163.6 200.0,163.6 201.0,163.6 202.0,163.6 203.0,163.6 204.0,163.6 205.0,163.6 206.0,163.6 207.0,163.6 208.0,163.6 209.0,163.6 210.0,163.6 211.0,163.6 212.0,163.6 213.0,163.6 214.0,163.6 215.0,163.6 216.0,163.6 217.0,163.6 218.0,163.6 219.0,163.6 220.0,163.6 221.0,163.6 222.0,163.6 223.0,163.6 224.0,163.6 225.0,163.6 226.0,163.6 227.0,163.6 228.0,163.6 229.0,163.6 230.0,163.6 231.0,163.6 232.0,163.6 233.0,163.6 234.0,163.6 235.0,163.6 236.0,163.6 237.0,163.6 238.0,163.6 239.0,163.6 240.0,163.6 241.0,163.6 242.0,163.6 243.0,163.6 244.0,163.6 245.0,163.6 246.0,163.6 247.0,163.6 248.0,163.6 249.0,163.6 250.0,163.6 251.0,163.6 252.0,163.6 253.0,163.6 254.0,163.6 255.0,163.6 256.0,163.6 257.0,163.6 258.0,163.6 259.0,163.6 260.0,163.7 261.0,163.7 262.0,163.7 263.0,163.7 264.0,163.7" fill="none" stroke="#1a9a66" stroke-width="1.8" stroke-linejoin="round" stroke-linecap="round" /><polyline points="49.0,174.4 50.0,174.4 51.0,174.4 52.0,174.4 53.0,174.4 54.0,174.4 55.0,174.4 56.0,174.4 57.0,174.4 58.0,174.4 59.0,174.4 60.0,174.4 61.0,174.4 62.0,174.4 63.0,174.4 64.0,174.4 65.0,174.4 66.0,174.4 67.0,174.4 68.0,174.4 69.0,174.4 70.0,174.4 71.0,174.4 72.0,174.4 73.0,174.4 74.0,174.4 75.0,174.3 76.0,174.3 77.0,174.3 78.0,174.3 79.0,174.3 80.0,174.3 81.0,174.3 82.0,174.3 83.0,174.3 84.0,174.3 85.0,174.2 86.0,174.2 87.0,174.2 88.0,174.1 89.0,174.1 90.0,174.1 91.0,174.0 92.0,174.0 93.0,173.9 94.0,173.9 95.0,173.8 96.0,173.8 97.0,173.7 98.0,173.7 99.0,173.6 100.0,173.6 101.0,173.5 102.0,173.4 103.0,173.4 104.0,173.3 105.0,173.2 106.0,173.2 107.0,173.1 108.0,173.0 109.0,172.9 110.0,172.8 111.0,172.7 112.0,172.6 113.0,172.6 114.0,172.4 115.0,172.3 116.0,172.2 117.0,172.1 118.0,172.0 119.0,171.9 120.0,171.8 121.0,171.6 122.0,171.5 123.0,171.3 124.0,171.1 125.0,171.0 126.0,170.8 127.0,170.6 128.0,170.4 129.0,170.1 130.0,169.9 131.0,169.7 132.0,169.5 133.0,169.2 134.0,169.0 135.0,168.7 136.0,168.5 137.0,168.3 138.0,168.0 139.0,167.8 140.0,167.5 141.0,167.3 142.0,167.0 143.0,166.7 144.0,166.4 145.0,166.1 146.0,165.7 147.0,165.3 148.0,164.8 149.0,164.3 150.0,163.7 151.0,163.1 152.0,162.3 153.0,161.4 154.0,160.3 155.0,159.1 156.0,157.7 157.0,156.2 158.0,154.4 159.0,152.4 160.0,150.2 161.0,147.8 162.0,145.1 163.0,142.4 164.0,139.4 165.0,136.4 166.0,133.4 167.0,130.4 168.0,127.6 169.0,125.1 170.0,123.0 171.0,121.5 172.0,120.6 173.0,120.4 174.0,121.0 175.0,122.2 176.0,124.0 177.0,126.2 178.0,128.8 179.0,131.5 180.0,134.4 181.0,137.2 182.0,139.9 183.0,142.5 184.0,145.0 185.0,147.2 186.0,149.3 187.0,151.1 188.0,152.8 189.0,154.2 190.0,155.5 191.0,156.5 192.0,157.4 193.0,158.2 194.0,158.9 195.0,159.4 196.0,159.9 197.0,160.3 198.0,160.6 199.0,160.9 200.0,161.1 201.0,161.3 202.0,161.5 203.0,161.7 204.0,161.8 205.0,161.9 206.0,162.1 207.0,162.2 208.0,162.2 209.0,162.3 210.0,162.4 211.0,162.5 212.0,162.5 213.0,162.6 214.0,162.7 215.0,162.7 216.0,162.8 217.0,162.8 218.0,162.8 219.0,162.9 220.0,162.9 221.0,162.9 222.0,163.0 223.0,163.0 224.0,163.0 225.0,163.1 226.0,163.1 227.0,163.1 228.0,163.1 229.0,163.2 230.0,163.2 231.0,163.2 232.0,163.2 233.0,163.2 234.0,163.2 235.0,163.3 236.0,163.3 237.0,163.3 238.0,163.3 239.0,163.3 240.0,163.3 241.0,163.3 242.0,163.3 243.0,163.4 244.0,163.4 245.0,163.4 246.0,163.4 247.0,163.4 248.0,163.4 249.0,163.4 250.0,163.4 251.0,163.4 252.0,163.4 253.0,163.4 254.0,163.4 255.0,163.5 256.0,163.5 257.0,163.5 258.0,163.5 259.0,163.5 260.0,163.5 261.0,163.5 262.0,163.5 263.0,163.5 264.0,163.5" fill="none" stroke="#1a9a66" stroke-width="1.8" stroke-linejoin="round" stroke-linecap="round" /><polyline points="49.0,174.6 50.0,174.6 51.0,174.6 52.0,174.6 53.0,174.6 54.0,174.6 55.0,174.6 56.0,174.6 57.0,174.6 58.0,174.6 59.0,174.6 60.0,174.6 61.0,174.6 62.0,174.6 63.0,174.6 64.0,174.6 65.0,174.6 66.0,174.6 67.0,174.6 68.0,174.6 69.0,174.6 70.0,174.6 71.0,174.6 72.0,174.6 73.0,174.6 74.0,174.6 75.0,174.6 76.0,174.6 77.0,174.6 78.0,174.6 79.0,174.6 80.0,174.6 81.0,174.6 82.0,174.6 83.0,174.6 84.0,174.6 85.0,174.5 86.0,174.5 87.0,174.5 88.0,174.5 89.0,174.4 90.0,174.4 91.0,174.4 92.0,174.3 93.0,174.3 94.0,174.3 95.0,174.2 96.0,174.2 97.0,174.1 98.0,174.1 99.0,174.0 100.0,174.0 101.0,174.0 102.0,173.9 103.0,173.9 104.0,173.8 105.0,173.8 106.0,173.7 107.0,173.6 108.0,173.6 109.0,173.5 110.0,173.4 111.0,173.4 112.0,173.3 113.0,173.2 114.0,173.1 115.0,173.0 116.0,173.0 117.0,172.9 118.0,172.8 119.0,172.7 120.0,172.6 121.0,172.5 122.0,172.4 123.0,172.3 124.0,172.1 125.0,172.0 126.0,171.8 127.0,171.7 128.0,171.5 129.0,171.3 130.0,171.2 131.0,171.0 132.0,170.8 133.0,170.7 134.0,170.5 135.0,170.3 136.0,170.2 137.0,170.0 138.0,169.9 139.0,169.7 140.0,169.6 141.0,169.5 142.0,169.4 143.0,169.2 144.0,169.1 145.0,169.0 146.0,168.9 147.0,168.8 148.0,168.7 149.0,168.6 150.0,168.5 151.0,168.3 152.0,168.2 153.0,168.1 154.0,168.0 155.0,167.9 156.0,167.8 157.0,167.7 158.0,167.6 159.0,167.5 160.0,167.4 161.0,167.2 162.0,167.1 163.0,167.0 164.0,166.9 165.0,166.8 166.0,166.6 167.0,166.5 168.0,166.4 169.0,166.3 170.0,166.2 171.0,166.1 172.0,166.0 173.0,165.9 174.0,165.8 175.0,165.7 176.0,165.6 177.0,165.5 178.0,165.4 179.0,165.4 180.0,165.3 181.0,165.2 182.0,165.1 183.0,165.0 184.0,164.9 185.0,164.9 186.0,164.8 187.0,164.7 188.0,164.6 189.0,164.6 190.0,164.5 191.0,164.4 192.0,164.4 193.0,164.3 194.0,164.3 195.0,164.2 196.0,164.2 197.0,164.2 198.0,164.1 199.0,164.1 200.0,164.1 201.0,164.1 202.0,164.1 203.0,164.1 204.0,164.1 205.0,164.1 206.0,164.0 207.0,164.0 208.0,164.0 209.0,164.0 210.0,164.0 211.0,164.0 212.0,164.0 213.0,164.0 214.0,164.0 215.0,164.0 216.0,164.0 217.0,164.0 218.0,164.0 219.0,163.9 220.0,163.9 221.0,163.9 222.0,163.9 223.0,163.9 224.0,163.9 225.0,163.9 226.0,163.9 227.0,163.9 228.0,163.9 229.0,163.9 230.0,163.9 231.0,163.9 232.0,163.9 233.0,163.9 234.0,163.9 235.0,163.9 236.0,163.9 237.0,163.9 238.0,163.8 239.0,163.8 240.0,163.8 241.0,163.8 242.0,163.8 243.0,163.8 244.0,163.8 245.0,163.8 246.0,163.8 247.0,163.8 248.0,163.8 249.0,163.8 250.0,163.8 251.0,163.8 252.0,163.8 253.0,163.8 254.0,163.8 255.0,163.8 256.0,163.8 257.0,163.8 258.0,163.8 259.0,163.8 260.0,163.8 261.0,163.8 262.0,163.8 263.0,163.8 264.0,163.8" fill="none" stroke="#2896c2" stroke-width="1.8" stroke-linejoin="round" stroke-linecap="round" /></g>
<rect x="49" y="13.3" width="215.8" height="172.29999999999998" fill="none" stroke="#222" stroke-width="1.5"/>
<line x1="72.6" y1="185.6" x2="72.6" y2="188.6" stroke="#222" stroke-width="1.2"/>
<text x="0" y="0" font-size="9.6" fill="#111" stroke="#111" stroke-width="0.3" text-anchor="middle" transform="translate(72.6,198.0) scale(1,1.15)" >68</text>
<line x1="104.7" y1="185.6" x2="104.7" y2="188.6" stroke="#222" stroke-width="1.2"/>
<text x="0" y="0" font-size="9.6" fill="#111" stroke="#111" stroke-width="0.3" text-anchor="middle" transform="translate(104.7,198.0) scale(1,1.15)" >70</text>
<line x1="136.8" y1="185.6" x2="136.8" y2="188.6" stroke="#222" stroke-width="1.2"/>
<text x="0" y="0" font-size="9.6" fill="#111" stroke="#111" stroke-width="0.3" text-anchor="middle" transform="translate(136.8,198.0) scale(1,1.15)" >72</text>
<line x1="169.0" y1="185.6" x2="169.0" y2="188.6" stroke="#222" stroke-width="1.2"/>
<text x="0" y="0" font-size="9.6" fill="#111" stroke="#111" stroke-width="0.3" text-anchor="middle" transform="translate(169.0,198.0) scale(1,1.15)" >74</text>
<line x1="201.1" y1="185.6" x2="201.1" y2="188.6" stroke="#222" stroke-width="1.2"/>
<text x="0" y="0" font-size="9.6" fill="#111" stroke="#111" stroke-width="0.3" text-anchor="middle" transform="translate(201.1,198.0) scale(1,1.15)" >76</text>
<line x1="233.2" y1="185.6" x2="233.2" y2="188.6" stroke="#222" stroke-width="1.2"/>
<text x="0" y="0" font-size="9.6" fill="#111" stroke="#111" stroke-width="0.3" text-anchor="middle" transform="translate(233.2,198.0) scale(1,1.15)" >78</text>
<text x="0" y="0" font-size="9.8" fill="#111" stroke="#111" stroke-width="0.3" text-anchor="middle" transform="translate(156.9,215.5) scale(1,1.15)" >Binding energy (eV)</text>
<text x="0" y="0" font-size="10.9" fill="#111" stroke="#111" stroke-width="0.12" text-anchor="middle" transform="translate(39.6,89.5) rotate(-90) scale(1,1.08)">intensity (a.u.)</text>
<text x="0" y="0" font-size="14" fill="#111" stroke="#111" stroke-width="0.3" text-anchor="start" transform="translate(19.3,21.7) scale(1,1.08)" >a</text>
<text x="0" y="0" font-size="9.6" fill="#111" stroke="#111" stroke-width="0.3" text-anchor="start" transform="translate(96.0,24.4) scale(1,1.05)" >4f<tspan font-size="6.5" dy="3.0">7/2</tspan></text>
<text x="0" y="0" font-size="9.6" fill="#111" stroke="#111" stroke-width="0.3" text-anchor="start" transform="translate(163.4,23.6) scale(1,1.05)" >4f<tspan font-size="6.5" dy="3.0">5/2</tspan></text>
<text x="0" y="0" font-size="10.0" fill="#111" stroke="#111" stroke-width="0.3" text-anchor="start" transform="translate(231.9,29.0) scale(1,1.08)" >H600</text>
<text x="0" y="0" font-size="10.0" fill="#111" stroke="#111" stroke-width="0.3" text-anchor="start" transform="translate(234.1,111.6) scale(1,1.05)" >H400</text>
<text x="0" y="0" font-size="9.9" fill="#1a9a66" stroke="#1a9a66" stroke-width="0.3" text-anchor="start" transform="translate(73.2,52.3) scale(1,1.15)" >Pt(0)</text>
<text x="0" y="0" font-size="9.9" fill="#2896c2" stroke="#2896c2" stroke-width="0.3" text-anchor="start" transform="translate(135.4,62.1) scale(1,1.15)" >Pt(II)</text>
<text x="0" y="0" font-size="9.9" fill="#1a9a66" stroke="#1a9a66" stroke-width="0.3" text-anchor="start" transform="translate(75.2,138.6) scale(1,1.15)" >Pt(0)</text>
<text x="0" y="0" font-size="9.9" fill="#2896c2" stroke="#2896c2" stroke-width="0.3" text-anchor="start" transform="translate(135.9,139.1) scale(1,1.15)" >Pt(II)</text>
<line x1="105.7" y1="72.8" x2="96.9" y2="61.9" stroke="#111" stroke-width="1.35"/><polygon points="92.5,56.5 96.5,58.4 97.5,62.7 93.5,60.8" fill="#111" stroke="#111" stroke-width="0.5" stroke-linejoin="round"/>
<line x1="137.0" y1="84.3" x2="140.7" y2="71.2" stroke="#111" stroke-width="1.35"/><polygon points="142.6,64.5 143.3,68.9 140.4,72.2 139.7,67.8" fill="#111" stroke="#111" stroke-width="0.5" stroke-linejoin="round"/>
<line x1="103.7" y1="157.4" x2="96.0" y2="147.1" stroke="#111" stroke-width="1.35"/><polygon points="91.8,141.5 95.7,143.6 96.6,147.9 92.7,145.8" fill="#111" stroke="#111" stroke-width="0.5" stroke-linejoin="round"/>
<line x1="137.0" y1="162.9" x2="141.6" y2="149.1" stroke="#111" stroke-width="1.35"/><polygon points="143.8,142.5 144.3,146.9 141.3,150.1 140.7,145.7" fill="#111" stroke="#111" stroke-width="0.5" stroke-linejoin="round"/>
<line x1="375" y1="29.5" x2="375" y2="154" stroke="#9a9a9a" stroke-width="1.1" stroke-dasharray="3.2,2.6"/>
<line x1="459.8" y1="15" x2="459.8" y2="158.5" stroke="#9a9a9a" stroke-width="1.1" stroke-dasharray="3.2,2.6"/>
<g clip-path="url(#cb)"><polyline points="314.8,80.8 315.4,81.8 316.0,83.5 316.6,76.5 317.2,91.5 317.8,87.0 318.4,80.1 319.0,82.7 319.6,75.8 320.2,82.2 320.8,89.2 321.4,74.6 322.0,81.6 322.6,84.7 323.2,89.6 323.8,91.2 324.4,81.2 325.0,79.6 325.6,86.0 326.2,81.5 326.8,81.7 327.4,89.3 328.0,92.5 328.6,84.6 329.2,82.0 329.8,86.1 330.4,72.5 331.0,82.7 331.6,76.9 332.2,95.8 332.8,86.5 333.4,83.2 334.0,81.3 334.6,68.4 335.2,86.0 335.8,91.0 336.4,77.9 337.0,85.5 337.6,85.6 338.2,73.0 338.8,86.5 339.4,88.7 340.0,82.3 340.6,80.6 341.2,85.1 341.8,72.1 342.4,80.9 343.0,85.9 343.6,73.1 344.2,85.1 344.8,77.1 345.4,67.7 346.0,78.2 346.6,73.1 347.2,79.9 347.8,71.3 348.4,83.1 349.0,72.8 349.6,78.4 350.2,72.7 350.8,73.6 351.4,81.4 352.0,75.4 352.6,71.4 353.2,65.9 353.8,78.5 354.4,75.3 355.0,68.6 355.6,70.9 356.2,62.9 356.8,62.0 357.4,61.9 358.0,67.3 358.6,65.8 359.2,58.9 359.8,65.8 360.4,64.7 361.0,60.0 361.6,63.3 362.2,54.6 362.8,54.1 363.4,55.8 364.0,51.5 364.6,54.5 365.2,41.7 365.8,54.9 366.4,41.2 367.0,43.1 367.6,34.9 368.2,44.4 368.8,46.7 369.4,44.3 370.0,41.8 370.6,27.5 371.2,30.8 371.8,31.6 372.4,28.2 373.0,38.9 373.6,33.2 374.2,31.7 374.8,34.3 375.4,26.3 376.0,26.6 376.6,26.9 377.2,34.9 377.8,34.5 378.4,36.3 379.0,39.7 379.6,27.1 380.2,32.3 380.8,37.1 381.4,29.8 382.0,35.2 382.6,44.7 383.2,46.2 383.8,47.1 384.4,42.4 385.0,42.0 385.6,50.1 386.2,43.0 386.8,47.8 387.4,54.1 388.0,45.6 388.6,45.0 389.2,49.0 389.8,52.9 390.4,52.9 391.0,51.6 391.6,54.2 392.2,42.8 392.8,47.2 393.4,53.1 394.0,47.3 394.6,45.2 395.2,46.0 395.8,47.7 396.4,51.8 397.0,47.1 397.6,54.0 398.2,61.9 398.8,51.7 399.4,59.4 400.0,53.8 400.6,45.9 401.2,50.5 401.8,46.4 402.4,55.9 403.0,45.2 403.6,58.7 404.2,54.5 404.8,40.1 405.4,55.5 406.0,59.7 406.6,46.8 407.2,56.6 407.8,41.4 408.4,52.7 409.0,42.4 409.6,54.3 410.2,42.0 410.8,37.6 411.4,54.5 412.0,65.2 412.6,49.7 413.2,57.8 413.8,54.2 414.4,52.2 415.0,57.7 415.6,63.8 416.2,48.4 416.8,58.7 417.4,57.9 418.0,48.6 418.6,65.7 419.2,68.0 419.8,52.4 420.4,67.6 421.0,58.8 421.6,58.0 422.2,67.5 422.8,60.9 423.4,61.8 424.0,68.7 424.6,67.8 425.2,65.9 425.8,53.6 426.4,52.9 427.0,68.1 427.6,57.0 428.2,63.2 428.8,56.7 429.4,61.8 430.0,55.9 430.6,72.1 431.2,57.7 431.8,62.7 432.4,62.5 433.0,70.2 433.6,55.9 434.2,63.5 434.8,62.6 435.4,66.7 436.0,66.3 436.6,61.2 437.2,65.0 437.8,61.5 438.4,66.0 439.0,62.8 439.6,59.6 440.2,62.9 440.8,64.8 441.4,75.0 442.0,59.6 442.6,63.7 443.2,69.8 443.8,50.0 444.4,51.4 445.0,54.1 445.6,59.6 446.2,73.2 446.8,61.4 447.4,65.4 448.0,57.0 448.6,44.1 449.2,44.4 449.8,62.1 450.4,56.9 451.0,48.2 451.6,60.8 452.2,45.6 452.8,59.7 453.4,60.8 454.0,48.1 454.6,45.6 455.2,55.8 455.8,44.6 456.4,54.9 457.0,43.2 457.6,53.8 458.2,49.6 458.8,46.5 459.4,43.7 460.0,49.9 460.6,38.1 461.2,47.0 461.8,46.4 462.4,52.4 463.0,42.0 463.6,58.5 464.2,47.6 464.8,43.4 465.4,57.6 466.0,59.4 466.6,49.6 467.2,46.1 467.8,51.5 468.4,47.9 469.0,50.4 469.6,61.0 470.2,55.0 470.8,54.0 471.4,55.4 472.0,53.5 472.6,58.7 473.2,59.2 473.8,52.5 474.4,55.3 475.0,68.2 475.6,57.4 476.2,54.1 476.8,66.5 477.4,55.3 478.0,49.3 478.6,59.0 479.2,50.3 479.8,52.4 480.4,56.9 481.0,54.3 481.6,50.6 482.2,51.7 482.8,51.2 483.4,60.7 484.0,50.2 484.6,50.8 485.2,64.9 485.8,50.4 486.4,61.5 487.0,60.3 487.6,52.0 488.2,44.8 488.8,54.9 489.4,55.9 490.0,57.4 490.6,52.3 491.2,58.4 491.8,59.3 492.4,45.8 493.0,59.4 493.6,52.4 494.2,48.3 494.8,49.7 495.4,61.8 496.0,57.0 496.6,41.8 497.2,52.2 497.8,51.1 498.4,51.0 499.0,49.3 499.6,44.3 500.2,57.3 500.8,47.6 501.4,51.0 502.0,49.9 502.6,49.5 503.2,57.8 503.8,56.1 504.4,50.6 505.0,49.3 505.6,52.2 506.2,60.4 506.8,56.0 507.4,56.9 508.0,54.0 508.6,54.6 509.2,57.5 509.8,46.4 510.4,65.6 511.0,52.6 511.6,54.1 512.2,64.7 512.8,58.8 513.4,58.0 514.0,54.7 514.6,49.5 515.2,59.2 515.8,64.9 516.4,53.5 517.0,66.1 517.6,52.5 518.2,54.7 518.8,61.7 519.4,59.0 520.0,62.8 520.6,55.0 521.2,53.5 521.8,48.9 522.4,52.6 523.0,53.3 523.6,51.4 524.2,61.0 524.8,55.7 525.4,48.4 526.0,73.0 526.6,54.8 527.2,52.5 527.8,66.2 528.4,65.8 529.0,53.0 529.6,51.3 530.2,53.9 530.8,65.6" fill="none" stroke="#b8b8b8" stroke-width="1.3" stroke-linejoin="round" stroke-linecap="round" /><polyline points="314.5,87.0 315.5,87.0 316.5,86.9 317.5,86.8 318.5,86.7 319.5,86.7 320.5,86.6 321.5,86.5 322.5,86.4 323.5,86.3 324.5,86.2 325.5,86.0 326.5,85.9 327.5,85.8 328.5,85.7 329.5,85.5 330.5,85.4 331.5,85.2 332.5,85.1 333.5,84.9 334.5,84.7 335.5,84.5 336.5,84.3 337.5,84.1 338.5,83.9 339.5,83.7 340.5,83.4 341.5,83.1 342.5,82.8 343.5,82.4 344.5,82.0 345.5,81.5 346.5,81.0 347.5,80.4 348.5,79.8 349.5,79.0 350.5,78.2 351.5,77.2 352.5,76.1 353.5,74.9 354.5,73.6 355.5,72.2 356.5,70.5 357.5,68.8 358.5,66.9 359.5,64.8 360.5,62.6 361.5,60.3 362.5,57.9 363.5,55.4 364.5,52.9 365.5,50.3 366.5,47.7 367.5,45.2 368.5,42.8 369.5,40.7 370.5,38.7 371.5,37.0 372.5,35.7 373.5,34.7 374.5,34.2 375.5,34.0 376.5,34.2 377.5,34.8 378.5,35.7 379.5,36.9 380.5,38.3 381.5,39.8 382.5,41.5 383.5,43.1 384.5,44.8 385.5,46.4 386.5,48.0 387.5,49.4 388.5,50.7 389.5,51.8 390.5,52.8 391.5,53.6 392.5,54.2 393.5,54.7 394.5,55.0 395.5,55.2 396.5,55.2 397.5,55.2 398.5,55.0 399.5,54.8 400.5,54.6 401.5,54.3 402.5,54.1 403.5,53.9 404.5,53.7 405.5,53.6 406.5,53.6 407.5,53.7 408.5,53.8 409.5,54.1 410.5,54.4 411.5,54.9 412.5,55.3 413.5,55.9 414.5,56.5 415.5,57.2 416.5,57.8 417.5,58.5 418.5,59.2 419.5,59.9 420.5,60.6 421.5,61.3 422.5,61.9 423.5,62.5 424.5,63.1 425.5,63.6 426.5,64.1 427.5,64.6 428.5,65.0 429.5,65.3 430.5,65.6 431.5,65.8 432.5,66.0 433.5,66.1 434.5,66.2 435.5,66.2 436.5,66.2 437.5,66.1 438.5,65.9 439.5,65.7 440.5,65.4 441.5,65.0 442.5,64.6 443.5,64.0 444.5,63.4 445.5,62.7 446.5,62.0 447.5,61.1 448.5,60.2 449.5,59.3 450.5,58.3 451.5,57.3 452.5,56.2 453.5,55.2 454.5,54.2 455.5,53.4 456.5,52.6 457.5,51.9 458.5,51.4 459.5,51.1 460.5,51.0 461.5,51.0 462.5,51.2 463.5,51.5 464.5,52.0 465.5,52.5 466.5,53.0 467.5,53.7 468.5,54.3 469.5,54.9 470.5,55.5 471.5,56.0 472.5,56.5 473.5,56.9 474.5,57.3 475.5,57.5 476.5,57.7 477.5,57.8 478.5,57.8 479.5,57.7 480.5,57.6 481.5,57.3 482.5,57.1 483.5,56.8 484.5,56.4 485.5,56.1 486.5,55.7 487.5,55.3 488.5,55.0 489.5,54.7 490.5,54.4 491.5,54.2 492.5,54.0 493.5,53.9 494.5,53.9 495.5,54.0 496.5,54.1 497.5,54.3 498.5,54.5 499.5,54.8 500.5,55.1 501.5,55.5 502.5,55.9 503.5,56.3 504.5,56.8 505.5,57.2 506.5,57.7 507.5,58.1 508.5,58.5 509.5,58.9 510.5,59.3 511.5,59.6 512.5,60.0 513.5,60.2 514.5,60.5 515.5,60.8 516.5,61.0 517.5,61.1 518.5,61.3 519.5,61.4 520.5,61.6 521.5,61.6 522.5,61.7 523.5,61.8 524.5,61.8 525.5,61.8 526.5,61.9 527.5,61.9 528.5,61.9 529.5,61.8 530.5,61.8" fill="none" stroke="#f2635f" stroke-width="2.1" stroke-linejoin="round" stroke-linecap="round" /><polyline points="314.5,87.2 315.5,87.1 316.5,87.1 317.5,87.0 318.5,86.9 319.5,86.8 320.5,86.7 321.5,86.6 322.5,86.5 323.5,86.4 324.5,86.3 325.5,86.2 326.5,86.1 327.5,86.0 328.5,85.9 329.5,85.7 330.5,85.6 331.5,85.5 332.5,85.3 333.5,85.1 334.5,85.0 335.5,84.8 336.5,84.6 337.5,84.5 338.5,84.3 339.5,84.0 340.5,83.8 341.5,83.6 342.5,83.3 343.5,82.9 344.5,82.6 345.5,82.2 346.5,81.7 347.5,81.2 348.5,80.6 349.5,79.9 350.5,79.1 351.5,78.3 352.5,77.3 353.5,76.2 354.5,75.0 355.5,73.7 356.5,72.2 357.5,70.5 358.5,68.7 359.5,66.8 360.5,64.7 361.5,62.5 362.5,60.2 363.5,57.8 364.5,55.3 365.5,52.8 366.5,50.3 367.5,47.9 368.5,45.6 369.5,43.4 370.5,41.4 371.5,39.7 372.5,38.4 373.5,37.4 374.5,36.7 375.5,36.6 376.5,36.8 377.5,37.4 378.5,38.5 379.5,39.8 380.5,41.4 381.5,43.2 382.5,45.2 383.5,47.2 384.5,49.3 385.5,51.4 386.5,53.5 387.5,55.5 388.5,57.5 389.5,59.3 390.5,61.0 391.5,62.5 392.5,63.9 393.5,65.2 394.5,66.3 395.5,67.3 396.5,68.1 397.5,68.8 398.5,69.4 399.5,69.9 400.5,70.3 401.5,70.7 402.5,70.9 403.5,71.1 404.5,71.2 405.5,71.3 406.5,71.4 407.5,71.4 408.5,71.4 409.5,71.4 410.5,71.3 411.5,71.3 412.5,71.2 413.5,71.1 414.5,71.0 415.5,71.0 416.5,70.9 417.5,70.8 418.5,70.7 419.5,70.6 420.5,70.5 421.5,70.5 422.5,70.4 423.5,70.3 424.5,70.2 425.5,70.1 426.5,70.0 427.5,69.9 428.5,69.8 429.5,69.8 430.5,69.7 431.5,69.6 432.5,69.5 433.5,69.4 434.5,69.3 435.5,69.3 436.5,69.2 437.5,69.1 438.5,69.0 439.5,68.9 440.5,68.8 441.5,68.8 442.5,68.7 443.5,68.6 444.5,68.5 445.5,68.4 446.5,68.3 447.5,68.3 448.5,68.2 449.5,68.1 450.5,68.0 451.5,67.9 452.5,67.8 453.5,67.8 454.5,67.7 455.5,67.6 456.5,67.5 457.5,67.4 458.5,67.3 459.5,67.3 460.5,67.2 461.5,67.1 462.5,67.0 463.5,66.9 464.5,66.8 465.5,66.7 466.5,66.7 467.5,66.6 468.5,66.5 469.5,66.4 470.5,66.3 471.5,66.3 472.5,66.2 473.5,66.1 474.5,66.0 475.5,65.9 476.5,65.9 477.5,65.8 478.5,65.7 479.5,65.6 480.5,65.5 481.5,65.5 482.5,65.4 483.5,65.3 484.5,65.2 485.5,65.2 486.5,65.1 487.5,65.0 488.5,65.0 489.5,64.9 490.5,64.8 491.5,64.7 492.5,64.7 493.5,64.6 494.5,64.5 495.5,64.5 496.5,64.4 497.5,64.3 498.5,64.3 499.5,64.2 500.5,64.1 501.5,64.1 502.5,64.0 503.5,63.9 504.5,63.9 505.5,63.8 506.5,63.7 507.5,63.7 508.5,63.6 509.5,63.6 510.5,63.5 511.5,63.4 512.5,63.4 513.5,63.3 514.5,63.2 515.5,63.2 516.5,63.1 517.5,63.1 518.5,63.0 519.5,62.9 520.5,62.9 521.5,62.8 522.5,62.8 523.5,62.7 524.5,62.7 525.5,62.6 526.5,62.6 527.5,62.5 528.5,62.4 529.5,62.4 530.5,62.3" fill="none" stroke="#2896c2" stroke-width="1.9" stroke-linejoin="round" stroke-linecap="round" /><polyline points="314.5,87.6 315.5,87.6 316.5,87.5 317.5,87.5 318.5,87.4 319.5,87.3 320.5,87.3 321.5,87.2 322.5,87.1 323.5,87.0 324.5,87.0 325.5,86.9 326.5,86.8 327.5,86.7 328.5,86.6 329.5,86.5 330.5,86.4 331.5,86.3 332.5,86.2 333.5,86.1 334.5,86.0 335.5,85.9 336.5,85.7 337.5,85.6 338.5,85.5 339.5,85.4 340.5,85.3 341.5,85.1 342.5,85.0 343.5,84.9 344.5,84.7 345.5,84.5 346.5,84.4 347.5,84.2 348.5,84.0 349.5,83.8 350.5,83.6 351.5,83.4 352.5,83.2 353.5,83.0 354.5,82.8 355.5,82.6 356.5,82.4 357.5,82.2 358.5,81.9 359.5,81.7 360.5,81.5 361.5,81.3 362.5,81.0 363.5,80.8 364.5,80.6 365.5,80.4 366.5,80.1 367.5,79.9 368.5,79.6 369.5,79.4 370.5,79.1 371.5,78.9 372.5,78.6 373.5,78.3 374.5,78.0 375.5,77.6 376.5,77.3 377.5,76.9 378.5,76.4 379.5,76.0 380.5,75.5 381.5,74.9 382.5,74.4 383.5,73.7 384.5,73.1 385.5,72.4 386.5,71.6 387.5,70.9 388.5,70.0 389.5,69.2 390.5,68.2 391.5,67.3 392.5,66.4 393.5,65.4 394.5,64.4 395.5,63.4 396.5,62.5 397.5,61.5 398.5,60.6 399.5,59.7 400.5,58.9 401.5,58.2 402.5,57.5 403.5,57.0 404.5,56.5 405.5,56.2 406.5,56.0 407.5,55.9 408.5,55.9 409.5,56.0 410.5,56.2 411.5,56.6 412.5,57.0 413.5,57.5 414.5,58.0 415.5,58.6 416.5,59.2 417.5,59.9 418.5,60.6 419.5,61.2 420.5,61.9 421.5,62.6 422.5,63.2 423.5,63.8 424.5,64.4 425.5,64.9 426.5,65.4 427.5,65.8 428.5,66.2 429.5,66.6 430.5,66.9 431.5,67.2 432.5,67.5 433.5,67.7 434.5,67.8 435.5,68.0 436.5,68.1 437.5,68.2 438.5,68.3 439.5,68.3 440.5,68.3 441.5,68.3 442.5,68.3 443.5,68.3 444.5,68.3 445.5,68.2 446.5,68.2 447.5,68.1 448.5,68.1 449.5,68.0 450.5,68.0 451.5,67.9 452.5,67.8 453.5,67.7 454.5,67.7 455.5,67.6 456.5,67.5 457.5,67.4 458.5,67.3 459.5,67.3 460.5,67.2 461.5,67.1 462.5,67.0 463.5,66.9 464.5,66.9 465.5,66.8 466.5,66.7 467.5,66.6 468.5,66.5 469.5,66.5 470.5,66.4 471.5,66.3 472.5,66.2 473.5,66.1 474.5,66.1 475.5,66.0 476.5,65.9 477.5,65.8 478.5,65.7 479.5,65.7 480.5,65.6 481.5,65.5 482.5,65.4 483.5,65.4 484.5,65.3 485.5,65.2 486.5,65.1 487.5,65.1 488.5,65.0 489.5,64.9 490.5,64.9 491.5,64.8 492.5,64.7 493.5,64.6 494.5,64.6 495.5,64.5 496.5,64.4 497.5,64.4 498.5,64.3 499.5,64.2 500.5,64.2 501.5,64.1 502.5,64.0 503.5,64.0 504.5,63.9 505.5,63.8 506.5,63.8 507.5,63.7 508.5,63.7 509.5,63.6 510.5,63.5 511.5,63.5 512.5,63.4 513.5,63.3 514.5,63.3 515.5,63.2 516.5,63.2 517.5,63.1 518.5,63.0 519.5,63.0 520.5,62.9 521.5,62.9 522.5,62.8 523.5,62.8 524.5,62.7 525.5,62.6 526.5,62.6 527.5,62.5 528.5,62.5 529.5,62.4 530.5,62.4" fill="none" stroke="#f5934a" stroke-width="1.9" stroke-linejoin="round" stroke-linecap="round" /><polyline points="314.5,87.7 315.5,87.6 316.5,87.6 317.5,87.5 318.5,87.5 319.5,87.4 320.5,87.3 321.5,87.3 322.5,87.2 323.5,87.1 324.5,87.0 325.5,87.0 326.5,86.9 327.5,86.8 328.5,86.7 329.5,86.6 330.5,86.5 331.5,86.4 332.5,86.3 333.5,86.2 334.5,86.1 335.5,86.0 336.5,85.9 337.5,85.7 338.5,85.6 339.5,85.5 340.5,85.4 341.5,85.3 342.5,85.1 343.5,85.0 344.5,84.8 345.5,84.7 346.5,84.5 347.5,84.4 348.5,84.2 349.5,84.0 350.5,83.8 351.5,83.6 352.5,83.4 353.5,83.2 354.5,83.0 355.5,82.8 356.5,82.6 357.5,82.4 358.5,82.2 359.5,82.0 360.5,81.8 361.5,81.6 362.5,81.4 363.5,81.2 364.5,81.0 365.5,80.8 366.5,80.6 367.5,80.4 368.5,80.2 369.5,80.0 370.5,79.8 371.5,79.7 372.5,79.5 373.5,79.3 374.5,79.1 375.5,78.9 376.5,78.7 377.5,78.6 378.5,78.4 379.5,78.2 380.5,78.0 381.5,77.8 382.5,77.6 383.5,77.4 384.5,77.3 385.5,77.1 386.5,76.9 387.5,76.7 388.5,76.5 389.5,76.3 390.5,76.1 391.5,75.9 392.5,75.8 393.5,75.6 394.5,75.4 395.5,75.2 396.5,75.0 397.5,74.8 398.5,74.7 399.5,74.5 400.5,74.3 401.5,74.1 402.5,74.0 403.5,73.8 404.5,73.6 405.5,73.4 406.5,73.3 407.5,73.1 408.5,72.9 409.5,72.8 410.5,72.6 411.5,72.5 412.5,72.3 413.5,72.1 414.5,72.0 415.5,71.8 416.5,71.7 417.5,71.5 418.5,71.4 419.5,71.2 420.5,71.1 421.5,71.0 422.5,70.8 423.5,70.7 424.5,70.5 425.5,70.4 426.5,70.3 427.5,70.1 428.5,70.0 429.5,69.8 430.5,69.6 431.5,69.5 432.5,69.3 433.5,69.1 434.5,68.9 435.5,68.7 436.5,68.4 437.5,68.1 438.5,67.8 439.5,67.4 440.5,66.9 441.5,66.5 442.5,65.9 443.5,65.3 444.5,64.6 445.5,63.9 446.5,63.1 447.5,62.2 448.5,61.2 449.5,60.2 450.5,59.2 451.5,58.2 452.5,57.1 453.5,56.1 454.5,55.1 455.5,54.2 456.5,53.5 457.5,52.8 458.5,52.3 459.5,52.0 460.5,52.0 461.5,52.0 462.5,52.3 463.5,52.6 464.5,53.2 465.5,53.8 466.5,54.5 467.5,55.2 468.5,56.0 469.5,56.8 470.5,57.5 471.5,58.3 472.5,59.0 473.5,59.7 474.5,60.4 475.5,61.0 476.5,61.5 477.5,62.0 478.5,62.4 479.5,62.8 480.5,63.1 481.5,63.4 482.5,63.6 483.5,63.8 484.5,63.9 485.5,64.0 486.5,64.1 487.5,64.2 488.5,64.2 489.5,64.2 490.5,64.2 491.5,64.2 492.5,64.2 493.5,64.2 494.5,64.1 495.5,64.1 496.5,64.1 497.5,64.0 498.5,64.0 499.5,63.9 500.5,63.9 501.5,63.8 502.5,63.8 503.5,63.7 504.5,63.7 505.5,63.6 506.5,63.6 507.5,63.5 508.5,63.5 509.5,63.4 510.5,63.3 511.5,63.3 512.5,63.2 513.5,63.2 514.5,63.1 515.5,63.1 516.5,63.0 517.5,63.0 518.5,62.9 519.5,62.9 520.5,62.8 521.5,62.8 522.5,62.7 523.5,62.7 524.5,62.6 525.5,62.5 526.5,62.5 527.5,62.4 528.5,62.4 529.5,62.3 530.5,62.3" fill="none" stroke="#2896c2" stroke-width="1.9" stroke-linejoin="round" stroke-linecap="round" /><polyline points="314.5,87.7 315.5,87.6 316.5,87.6 317.5,87.5 318.5,87.5 319.5,87.4 320.5,87.4 321.5,87.3 322.5,87.2 323.5,87.1 324.5,87.1 325.5,87.0 326.5,86.9 327.5,86.8 328.5,86.7 329.5,86.6 330.5,86.5 331.5,86.4 332.5,86.3 333.5,86.2 334.5,86.1 335.5,86.0 336.5,85.9 337.5,85.8 338.5,85.7 339.5,85.5 340.5,85.4 341.5,85.3 342.5,85.2 343.5,85.0 344.5,84.9 345.5,84.7 346.5,84.6 347.5,84.4 348.5,84.2 349.5,84.0 350.5,83.8 351.5,83.6 352.5,83.5 353.5,83.3 354.5,83.1 355.5,82.9 356.5,82.7 357.5,82.4 358.5,82.2 359.5,82.0 360.5,81.8 361.5,81.6 362.5,81.4 363.5,81.2 364.5,81.0 365.5,80.8 366.5,80.6 367.5,80.4 368.5,80.2 369.5,80.1 370.5,79.9 371.5,79.7 372.5,79.5 373.5,79.3 374.5,79.2 375.5,79.0 376.5,78.8 377.5,78.6 378.5,78.4 379.5,78.2 380.5,78.1 381.5,77.9 382.5,77.7 383.5,77.5 384.5,77.3 385.5,77.1 386.5,76.9 387.5,76.8 388.5,76.6 389.5,76.4 390.5,76.2 391.5,76.0 392.5,75.8 393.5,75.7 394.5,75.5 395.5,75.3 396.5,75.1 397.5,74.9 398.5,74.8 399.5,74.6 400.5,74.4 401.5,74.2 402.5,74.1 403.5,73.9 404.5,73.7 405.5,73.6 406.5,73.4 407.5,73.2 408.5,73.1 409.5,72.9 410.5,72.8 411.5,72.6 412.5,72.5 413.5,72.3 414.5,72.2 415.5,72.0 416.5,71.9 417.5,71.8 418.5,71.6 419.5,71.5 420.5,71.4 421.5,71.2 422.5,71.1 423.5,71.0 424.5,70.9 425.5,70.8 426.5,70.6 427.5,70.5 428.5,70.4 429.5,70.3 430.5,70.2 431.5,70.1 432.5,70.0 433.5,69.9 434.5,69.8 435.5,69.7 436.5,69.6 437.5,69.5 438.5,69.4 439.5,69.3 440.5,69.2 441.5,69.1 442.5,69.0 443.5,68.9 444.5,68.8 445.5,68.7 446.5,68.6 447.5,68.5 448.5,68.4 449.5,68.3 450.5,68.2 451.5,68.1 452.5,67.9 453.5,67.8 454.5,67.7 455.5,67.6 456.5,67.5 457.5,67.4 458.5,67.3 459.5,67.1 460.5,67.0 461.5,66.8 462.5,66.7 463.5,66.5 464.5,66.3 465.5,66.1 466.5,65.9 467.5,65.7 468.5,65.5 469.5,65.2 470.5,64.9 471.5,64.6 472.5,64.2 473.5,63.9 474.5,63.4 475.5,63.0 476.5,62.6 477.5,62.1 478.5,61.6 479.5,61.0 480.5,60.5 481.5,59.9 482.5,59.4 483.5,58.8 484.5,58.2 485.5,57.7 486.5,57.1 487.5,56.6 488.5,56.2 489.5,55.8 490.5,55.4 491.5,55.1 492.5,54.9 493.5,54.8 494.5,54.7 495.5,54.7 496.5,54.8 497.5,54.9 498.5,55.1 499.5,55.4 500.5,55.7 501.5,56.1 502.5,56.5 503.5,56.9 504.5,57.3 505.5,57.7 506.5,58.1 507.5,58.6 508.5,59.0 509.5,59.3 510.5,59.7 511.5,60.0 512.5,60.4 513.5,60.6 514.5,60.9 515.5,61.1 516.5,61.3 517.5,61.5 518.5,61.7 519.5,61.8 520.5,61.9 521.5,62.0 522.5,62.0 523.5,62.1 524.5,62.1 525.5,62.1 526.5,62.1 527.5,62.1 528.5,62.1 529.5,62.1 530.5,62.1" fill="none" stroke="#f5934a" stroke-width="1.9" stroke-linejoin="round" stroke-linecap="round" /><polyline points="345.5,84.4 346.5,84.2 347.5,83.9 348.5,83.7 349.5,83.4 350.5,83.2 351.5,82.9 352.5,82.6 353.5,82.3 354.5,82.0 355.5,81.7 356.5,81.4 357.5,81.1 358.5,80.8 359.5,80.5 360.5,80.2 361.5,79.9 362.5,79.7 363.5,79.4 364.5,79.1 365.5,78.9 366.5,78.7 367.5,78.5 368.5,78.3 369.5,78.1 370.5,78.0 371.5,78.0 372.5,78.0 373.5,77.9 374.5,77.9 375.5,77.9 376.5,77.9" fill="none" stroke="#5cbf45" stroke-width="1.9" stroke-linejoin="round" stroke-linecap="round" /><polyline points="314.5,87.7 315.5,87.7 316.5,87.6 317.5,87.6 318.5,87.5 319.5,87.4 320.5,87.4 321.5,87.3 322.5,87.2 323.5,87.2 324.5,87.1 325.5,87.0 326.5,86.9 327.5,86.8 328.5,86.7 329.5,86.6 330.5,86.5 331.5,86.4 332.5,86.3 333.5,86.2 334.5,86.1 335.5,86.0 336.5,85.9 337.5,85.8 338.5,85.7 339.5,85.6 340.5,85.4 341.5,85.3 342.5,85.2 343.5,85.0 344.5,84.9 345.5,84.7 346.5,84.6 347.5,84.4 348.5,84.2 349.5,84.0 350.5,83.9 351.5,83.7 352.5,83.5 353.5,83.3 354.5,83.1 355.5,82.9 356.5,82.7 357.5,82.5 358.5,82.3 359.5,82.1 360.5,81.9 361.5,81.6 362.5,81.4 363.5,81.2 364.5,81.0 365.5,80.8 366.5,80.6 367.5,80.5 368.5,80.3 369.5,80.1 370.5,79.9 371.5,79.7 372.5,79.6 373.5,79.4 374.5,79.2 375.5,79.0 376.5,78.8 377.5,78.6 378.5,78.5 379.5,78.3 380.5,78.1 381.5,77.9 382.5,77.7 383.5,77.5 384.5,77.4 385.5,77.2 386.5,77.0 387.5,76.8 388.5,76.6 389.5,76.4 390.5,76.2 391.5,76.1 392.5,75.9 393.5,75.7 394.5,75.5 395.5,75.3 396.5,75.2 397.5,75.0 398.5,74.8 399.5,74.6 400.5,74.5 401.5,74.3 402.5,74.1 403.5,74.0 404.5,73.8 405.5,73.6 406.5,73.5 407.5,73.3 408.5,73.1 409.5,73.0 410.5,72.8 411.5,72.7 412.5,72.5 413.5,72.4 414.5,72.2 415.5,72.1 416.5,72.0 417.5,71.8 418.5,71.7 419.5,71.6 420.5,71.4 421.5,71.3 422.5,71.2 423.5,71.1 424.5,71.0 425.5,70.8 426.5,70.7 427.5,70.6 428.5,70.5 429.5,70.4 430.5,70.3 431.5,70.2 432.5,70.1 433.5,70.0 434.5,69.9 435.5,69.8 436.5,69.7 437.5,69.6 438.5,69.5 439.5,69.4 440.5,69.3 441.5,69.2 442.5,69.1 443.5,69.0 444.5,68.9 445.5,68.8 446.5,68.7 447.5,68.6 448.5,68.5 449.5,68.4 450.5,68.4 451.5,68.3 452.5,68.2 453.5,68.1 454.5,68.0 455.5,67.9 456.5,67.8 457.5,67.7 458.5,67.6 459.5,67.5 460.5,67.4 461.5,67.3 462.5,67.3 463.5,67.2 464.5,67.1 465.5,67.0 466.5,66.9 467.5,66.8 468.5,66.7 469.5,66.6 470.5,66.6 471.5,66.5 472.5,66.4 473.5,66.3 474.5,66.2 475.5,66.1 476.5,66.0 477.5,66.0 478.5,65.9 479.5,65.8 480.5,65.7 481.5,65.6 482.5,65.6 483.5,65.5 484.5,65.4 485.5,65.3 486.5,65.3 487.5,65.2 488.5,65.1 489.5,65.0 490.5,65.0 491.5,64.9 492.5,64.8 493.5,64.7 494.5,64.7 495.5,64.6 496.5,64.5 497.5,64.5 498.5,64.4 499.5,64.3 500.5,64.3 501.5,64.2 502.5,64.1 503.5,64.1 504.5,64.0 505.5,63.9 506.5,63.9 507.5,63.8 508.5,63.7 509.5,63.7 510.5,63.6 511.5,63.5 512.5,63.5 513.5,63.4 514.5,63.3 515.5,63.3 516.5,63.2 517.5,63.2 518.5,63.1 519.5,63.0 520.5,63.0 521.5,62.9 522.5,62.9 523.5,62.8 524.5,62.8 525.5,62.7 526.5,62.6 527.5,62.6 528.5,62.5 529.5,62.5 530.5,62.4" fill="none" stroke="#f5934a" stroke-width="2.1" stroke-linejoin="round" stroke-linecap="round" /><polyline points="314.8,169.5 315.4,168.2 316.0,170.2 316.6,173.4 317.2,166.6 317.8,169.2 318.4,166.6 319.0,175.8 319.6,174.9 320.2,172.6 320.8,169.8 321.4,171.8 322.0,164.6 322.6,170.7 323.2,166.5 323.8,166.5 324.4,168.1 325.0,169.0 325.6,171.3 326.2,171.6 326.8,170.4 327.4,167.3 328.0,171.4 328.6,169.3 329.2,172.6 329.8,167.1 330.4,162.3 331.0,168.2 331.6,175.0 332.2,170.5 332.8,168.8 333.4,171.5 334.0,170.4 334.6,170.3 335.2,167.7 335.8,169.1 336.4,169.4 337.0,167.1 337.6,165.8 338.2,169.0 338.8,171.1 339.4,170.2 340.0,169.7 340.6,169.6 341.2,174.9 341.8,168.7 342.4,170.7 343.0,172.9 343.6,167.8 344.2,168.2 344.8,170.1 345.4,171.5 346.0,167.8 346.6,167.7 347.2,166.7 347.8,163.1 348.4,168.9 349.0,165.0 349.6,160.8 350.2,164.6 350.8,160.0 351.4,161.5 352.0,163.7 352.6,160.7 353.2,165.4 353.8,158.1 354.4,162.0 355.0,162.1 355.6,163.7 356.2,161.5 356.8,158.8 357.4,157.5 358.0,156.2 358.6,158.3 359.2,152.5 359.8,154.4 360.4,151.6 361.0,151.2 361.6,148.6 362.2,153.4 362.8,144.7 363.4,145.6 364.0,144.2 364.6,143.5 365.2,141.5 365.8,139.9 366.4,139.7 367.0,131.7 367.6,134.0 368.2,129.3 368.8,131.6 369.4,126.5 370.0,125.7 370.6,126.7 371.2,129.3 371.8,126.1 372.4,124.4 373.0,126.5 373.6,119.7 374.2,116.2 374.8,120.2 375.4,120.3 376.0,124.2 376.6,126.5 377.2,117.6 377.8,127.7 378.4,125.7 379.0,124.2 379.6,123.4 380.2,129.3 380.8,123.8 381.4,122.9 382.0,125.2 382.6,122.0 383.2,127.5 383.8,126.7 384.4,128.6 385.0,129.4 385.6,126.5 386.2,133.4 386.8,128.0 387.4,133.6 388.0,127.8 388.6,133.5 389.2,131.0 389.8,133.8 390.4,132.5 391.0,128.9 391.6,132.1 392.2,135.5 392.8,137.3 393.4,132.1 394.0,130.6 394.6,134.1 395.2,135.9 395.8,135.0 396.4,134.6 397.0,139.0 397.6,139.3 398.2,138.7 398.8,134.3 399.4,137.0 400.0,136.2 400.6,133.0 401.2,139.0 401.8,136.9 402.4,135.4 403.0,140.3 403.6,138.6 404.2,138.9 404.8,139.9 405.4,138.7 406.0,133.7 406.6,136.1 407.2,139.9 407.8,135.5 408.4,137.9 409.0,139.1 409.6,142.1 410.2,142.1 410.8,141.4 411.4,139.0 412.0,142.3 412.6,141.8 413.2,140.4 413.8,144.9 414.4,143.1 415.0,140.4 415.6,146.2 416.2,142.7 416.8,145.5 417.4,140.5 418.0,145.0 418.6,143.1 419.2,143.5 419.8,141.6 420.4,152.7 421.0,147.2 421.6,148.7 422.2,151.4 422.8,148.7 423.4,150.8 424.0,146.4 424.6,150.8 425.2,149.6 425.8,152.4 426.4,151.9 427.0,148.2 427.6,147.3 428.2,149.7 428.8,154.5 429.4,154.0 430.0,154.1 430.6,148.1 431.2,146.5 431.8,152.0 432.4,152.9 433.0,152.3 433.6,154.9 434.2,153.6 434.8,151.0 435.4,151.9 436.0,154.5 436.6,154.3 437.2,153.9 437.8,159.9 438.4,153.3 439.0,154.2 439.6,151.1 440.2,152.6 440.8,154.7 441.4,154.6 442.0,152.4 442.6,153.6 443.2,152.4 443.8,147.0 444.4,143.0 445.0,157.1 445.6,152.8 446.2,150.1 446.8,145.2 447.4,145.9 448.0,152.2 448.6,140.8 449.2,146.7 449.8,149.2 450.4,146.6 451.0,147.6 451.6,144.7 452.2,150.6 452.8,141.1 453.4,139.6 454.0,143.2 454.6,145.6 455.2,141.2 455.8,143.6 456.4,139.0 457.0,136.9 457.6,143.2 458.2,143.4 458.8,143.0 459.4,137.7 460.0,135.8 460.6,135.7 461.2,138.2 461.8,140.4 462.4,140.3 463.0,135.5 463.6,140.0 464.2,139.8 464.8,140.3 465.4,140.4 466.0,140.3 466.6,142.8 467.2,141.9 467.8,142.6 468.4,140.7 469.0,143.9 469.6,143.0 470.2,138.2 470.8,145.3 471.4,143.7 472.0,147.2 472.6,144.7 473.2,145.1 473.8,146.2 474.4,145.8 475.0,144.9 475.6,141.6 476.2,151.1 476.8,142.4 477.4,145.6 478.0,148.3 478.6,147.6 479.2,148.0 479.8,148.5 480.4,149.7 481.0,147.1 481.6,153.8 482.2,143.4 482.8,146.5 483.4,144.8 484.0,144.1 484.6,146.1 485.2,148.9 485.8,143.1 486.4,142.8 487.0,146.4 487.6,145.7 488.2,149.2 488.8,146.6 489.4,144.3 490.0,142.7 490.6,143.9 491.2,142.8 491.8,139.6 492.4,143.1 493.0,142.5 493.6,142.4 494.2,141.8 494.8,147.4 495.4,144.8 496.0,145.5 496.6,141.6 497.2,140.7 497.8,142.7 498.4,144.3 499.0,142.9 499.6,143.5 500.2,146.8 500.8,145.3 501.4,142.2 502.0,143.9 502.6,143.6 503.2,146.0 503.8,142.8 504.4,145.7 505.0,148.2 505.6,146.8 506.2,144.6 506.8,145.7 507.4,147.9 508.0,149.1 508.6,150.3 509.2,148.0 509.8,145.2 510.4,152.6 511.0,149.9 511.6,150.4 512.2,150.4 512.8,147.1 513.4,149.1 514.0,150.8 514.6,153.0 515.2,150.6 515.8,142.5 516.4,150.1 517.0,151.8 517.6,154.4 518.2,153.0 518.8,157.7 519.4,155.0 520.0,154.9 520.6,153.9 521.2,148.0 521.8,153.8 522.4,153.2 523.0,150.3 523.6,153.3 524.2,152.9 524.8,150.6 525.4,151.5 526.0,151.2 526.6,152.5 527.2,150.8 527.8,153.3 528.4,146.9 529.0,151.2 529.6,147.5 530.2,150.7 530.8,153.3" fill="none" stroke="#b8b8b8" stroke-width="1.3" stroke-linejoin="round" stroke-linecap="round" /><polyline points="314.5,171.5 315.5,171.5 316.5,171.4 317.5,171.4 318.5,171.4 319.5,171.3 320.5,171.3 321.5,171.2 322.5,171.2 323.5,171.1 324.5,171.1 325.5,171.0 326.5,170.9 327.5,170.9 328.5,170.8 329.5,170.7 330.5,170.6 331.5,170.5 332.5,170.5 333.5,170.4 334.5,170.3 335.5,170.1 336.5,170.0 337.5,169.9 338.5,169.8 339.5,169.6 340.5,169.5 341.5,169.3 342.5,169.1 343.5,168.9 344.5,168.6 345.5,168.3 346.5,167.9 347.5,167.5 348.5,167.1 349.5,166.5 350.5,165.9 351.5,165.2 352.5,164.4 353.5,163.4 354.5,162.4 355.5,161.2 356.5,159.8 357.5,158.3 358.5,156.6 359.5,154.8 360.5,152.8 361.5,150.6 362.5,148.3 363.5,145.9 364.5,143.3 365.5,140.7 366.5,138.0 367.5,135.4 368.5,132.8 369.5,130.4 370.5,128.2 371.5,126.2 372.5,124.6 373.5,123.4 374.5,122.5 375.5,122.2 376.5,122.1 377.5,122.3 378.5,122.8 379.5,123.5 380.5,124.4 381.5,125.4 382.5,126.6 383.5,127.8 384.5,129.0 385.5,130.2 386.5,131.4 387.5,132.6 388.5,133.6 389.5,134.5 390.5,135.4 391.5,136.1 392.5,136.7 393.5,137.1 394.5,137.5 395.5,137.7 396.5,137.8 397.5,137.9 398.5,137.9 399.5,137.9 400.5,137.8 401.5,137.8 402.5,137.8 403.5,137.8 404.5,137.8 405.5,138.0 406.5,138.2 407.5,138.5 408.5,139.0 409.5,139.5 410.5,140.0 411.5,140.7 412.5,141.4 413.5,142.2 414.5,143.1 415.5,143.9 416.5,144.8 417.5,145.7 418.5,146.6 419.5,147.5 420.5,148.3 421.5,149.2 422.5,149.9 423.5,150.7 424.5,151.4 425.5,152.0 426.5,152.6 427.5,153.2 428.5,153.6 429.5,154.1 430.5,154.4 431.5,154.7 432.5,155.0 433.5,155.2 434.5,155.3 435.5,155.3 436.5,155.3 437.5,155.2 438.5,155.1 439.5,154.9 440.5,154.6 441.5,154.2 442.5,153.8 443.5,153.3 444.5,152.6 445.5,151.9 446.5,151.1 447.5,150.3 448.5,149.4 449.5,148.4 450.5,147.3 451.5,146.3 452.5,145.2 453.5,144.2 454.5,143.2 455.5,142.3 456.5,141.5 457.5,140.8 458.5,140.3 459.5,140.0 460.5,139.9 461.5,140.0 462.5,140.2 463.5,140.6 464.5,141.1 465.5,141.7 466.5,142.3 467.5,143.0 468.5,143.7 469.5,144.4 470.5,145.0 471.5,145.6 472.5,146.2 473.5,146.7 474.5,147.1 475.5,147.4 476.5,147.6 477.5,147.7 478.5,147.8 479.5,147.7 480.5,147.6 481.5,147.4 482.5,147.2 483.5,146.9 484.5,146.5 485.5,146.2 486.5,145.8 487.5,145.5 488.5,145.1 489.5,144.8 490.5,144.6 491.5,144.4 492.5,144.2 493.5,144.1 494.5,144.1 495.5,144.2 496.5,144.3 497.5,144.6 498.5,144.8 499.5,145.2 500.5,145.5 501.5,146.0 502.5,146.4 503.5,146.9 504.5,147.3 505.5,147.8 506.5,148.3 507.5,148.8 508.5,149.2 509.5,149.7 510.5,150.1 511.5,150.5 512.5,150.8 513.5,151.2 514.5,151.5 515.5,151.7 516.5,152.0 517.5,152.2 518.5,152.4 519.5,152.5 520.5,152.6 521.5,152.8 522.5,152.8 523.5,152.9 524.5,153.0 525.5,153.0 526.5,153.0 527.5,153.1 528.5,153.1 529.5,153.1 530.5,153.1" fill="none" stroke="#f2635f" stroke-width="2.1" stroke-linejoin="round" stroke-linecap="round" /><polyline points="314.5,171.6 315.5,171.6 316.5,171.6 317.5,171.6 318.5,171.5 319.5,171.5 320.5,171.5 321.5,171.4 322.5,171.4 323.5,171.3 324.5,171.3 325.5,171.2 326.5,171.1 327.5,171.1 328.5,171.0 329.5,170.9 330.5,170.8 331.5,170.8 332.5,170.7 333.5,170.6 334.5,170.5 335.5,170.4 336.5,170.3 337.5,170.1 338.5,170.0 339.5,169.9 340.5,169.7 341.5,169.6 342.5,169.4 343.5,169.1 344.5,168.9 345.5,168.6 346.5,168.3 347.5,167.9 348.5,167.4 349.5,166.9 350.5,166.3 351.5,165.6 352.5,164.7 353.5,163.8 354.5,162.8 355.5,161.6 356.5,160.2 357.5,158.7 358.5,157.1 359.5,155.3 360.5,153.3 361.5,151.2 362.5,148.9 363.5,146.5 364.5,143.9 365.5,141.4 366.5,138.8 367.5,136.2 368.5,133.7 369.5,131.4 370.5,129.2 371.5,127.4 372.5,125.9 373.5,124.8 374.5,124.1 375.5,124.0 376.5,124.1 377.5,124.6 378.5,125.4 379.5,126.4 380.5,127.7 381.5,129.1 382.5,130.8 383.5,132.5 384.5,134.3 385.5,136.2 386.5,138.0 387.5,139.9 388.5,141.7 389.5,143.4 390.5,145.1 391.5,146.7 392.5,148.2 393.5,149.5 394.5,150.8 395.5,152.0 396.5,153.0 397.5,153.9 398.5,154.8 399.5,155.5 400.5,156.2 401.5,156.7 402.5,157.2 403.5,157.6 404.5,157.9 405.5,158.2 406.5,158.5 407.5,158.7 408.5,158.8 409.5,158.9 410.5,159.0 411.5,159.1 412.5,159.2 413.5,159.2 414.5,159.2 415.5,159.2 416.5,159.2 417.5,159.2 418.5,159.2 419.5,159.2 420.5,159.2 421.5,159.2 422.5,159.1 423.5,159.1 424.5,159.1 425.5,159.0 426.5,159.0 427.5,159.0 428.5,158.9 429.5,158.9 430.5,158.8 431.5,158.8 432.5,158.7 433.5,158.7 434.5,158.6 435.5,158.6 436.5,158.5 437.5,158.5 438.5,158.4 439.5,158.3 440.5,158.3 441.5,158.2 442.5,158.2 443.5,158.1 444.5,158.1 445.5,158.0 446.5,157.9 447.5,157.9 448.5,157.8 449.5,157.8 450.5,157.7 451.5,157.7 452.5,157.6 453.5,157.5 454.5,157.5 455.5,157.4 456.5,157.4 457.5,157.3 458.5,157.3 459.5,157.2 460.5,157.1 461.5,157.1 462.5,157.0 463.5,157.0 464.5,156.9 465.5,156.9 466.5,156.8 467.5,156.7 468.5,156.7 469.5,156.6 470.5,156.6 471.5,156.5 472.5,156.5 473.5,156.4 474.5,156.4 475.5,156.3 476.5,156.3 477.5,156.2 478.5,156.1 479.5,156.1 480.5,156.0 481.5,156.0 482.5,155.9 483.5,155.9 484.5,155.8 485.5,155.8 486.5,155.7 487.5,155.7 488.5,155.6 489.5,155.6 490.5,155.5 491.5,155.5 492.5,155.4 493.5,155.4 494.5,155.3 495.5,155.3 496.5,155.2 497.5,155.2 498.5,155.1 499.5,155.1 500.5,155.0 501.5,155.0 502.5,154.9 503.5,154.9 504.5,154.8 505.5,154.8 506.5,154.7 507.5,154.7 508.5,154.6 509.5,154.6 510.5,154.5 511.5,154.5 512.5,154.4 513.5,154.4 514.5,154.3 515.5,154.3 516.5,154.2 517.5,154.2 518.5,154.1 519.5,154.1 520.5,154.1 521.5,154.0 522.5,154.0 523.5,153.9 524.5,153.9 525.5,153.8 526.5,153.8 527.5,153.7 528.5,153.7 529.5,153.7 530.5,153.6" fill="none" stroke="#2896c2" stroke-width="1.9" stroke-linejoin="round" stroke-linecap="round" /><polyline points="314.5,172.0 315.5,172.0 316.5,172.0 317.5,172.0 318.5,172.0 319.5,171.9 320.5,171.9 321.5,171.9 322.5,171.9 323.5,171.8 324.5,171.8 325.5,171.8 326.5,171.7 327.5,171.7 328.5,171.6 329.5,171.6 330.5,171.5 331.5,171.5 332.5,171.4 333.5,171.4 334.5,171.3 335.5,171.3 336.5,171.2 337.5,171.2 338.5,171.1 339.5,171.0 340.5,171.0 341.5,170.9 342.5,170.8 343.5,170.8 344.5,170.7 345.5,170.6 346.5,170.5 347.5,170.4 348.5,170.3 349.5,170.1 350.5,170.0 351.5,169.9 352.5,169.8 353.5,169.6 354.5,169.5 355.5,169.3 356.5,169.2 357.5,169.0 358.5,168.8 359.5,168.7 360.5,168.5 361.5,168.3 362.5,168.1 363.5,167.8 364.5,167.5 365.5,167.2 366.5,166.9 367.5,166.6 368.5,166.3 369.5,165.9 370.5,165.6 371.5,165.2 372.5,164.8 373.5,164.5 374.5,164.1 375.5,163.7 376.5,163.3 377.5,162.9 378.5,162.4 379.5,161.9 380.5,161.4 381.5,160.8 382.5,160.2 383.5,159.5 384.5,158.8 385.5,158.0 386.5,157.2 387.5,156.4 388.5,155.5 389.5,154.5 390.5,153.5 391.5,152.5 392.5,151.5 393.5,150.5 394.5,149.4 395.5,148.4 396.5,147.4 397.5,146.4 398.5,145.5 399.5,144.6 400.5,143.8 401.5,143.1 402.5,142.6 403.5,142.1 404.5,141.7 405.5,141.5 406.5,141.4 407.5,141.4 408.5,141.6 409.5,141.9 410.5,142.3 411.5,142.9 412.5,143.5 413.5,144.2 414.5,144.9 415.5,145.7 416.5,146.5 417.5,147.3 418.5,148.2 419.5,149.0 420.5,149.9 421.5,150.7 422.5,151.4 423.5,152.2 424.5,152.8 425.5,153.5 426.5,154.1 427.5,154.6 428.5,155.1 429.5,155.6 430.5,156.0 431.5,156.3 432.5,156.6 433.5,156.9 434.5,157.1 435.5,157.3 436.5,157.4 437.5,157.6 438.5,157.7 439.5,157.7 440.5,157.8 441.5,157.8 442.5,157.8 443.5,157.9 444.5,157.9 445.5,157.8 446.5,157.8 447.5,157.8 448.5,157.8 449.5,157.7 450.5,157.7 451.5,157.6 452.5,157.6 453.5,157.5 454.5,157.5 455.5,157.4 456.5,157.4 457.5,157.3 458.5,157.3 459.5,157.2 460.5,157.2 461.5,157.1 462.5,157.1 463.5,157.0 464.5,157.0 465.5,156.9 466.5,156.9 467.5,156.8 468.5,156.7 469.5,156.7 470.5,156.6 471.5,156.6 472.5,156.5 473.5,156.5 474.5,156.4 475.5,156.4 476.5,156.3 477.5,156.3 478.5,156.2 479.5,156.1 480.5,156.1 481.5,156.0 482.5,156.0 483.5,155.9 484.5,155.9 485.5,155.8 486.5,155.8 487.5,155.7 488.5,155.7 489.5,155.6 490.5,155.6 491.5,155.5 492.5,155.5 493.5,155.4 494.5,155.4 495.5,155.3 496.5,155.3 497.5,155.2 498.5,155.2 499.5,155.1 500.5,155.1 501.5,155.0 502.5,155.0 503.5,154.9 504.5,154.9 505.5,154.8 506.5,154.8 507.5,154.7 508.5,154.7 509.5,154.6 510.5,154.6 511.5,154.5 512.5,154.5 513.5,154.4 514.5,154.4 515.5,154.3 516.5,154.3 517.5,154.2 518.5,154.2 519.5,154.2 520.5,154.1 521.5,154.1 522.5,154.0 523.5,154.0 524.5,153.9 525.5,153.9 526.5,153.8 527.5,153.8 528.5,153.8 529.5,153.7 530.5,153.7" fill="none" stroke="#f5934a" stroke-width="1.9" stroke-linejoin="round" stroke-linecap="round" /><polyline points="314.5,172.1 315.5,172.1 316.5,172.1 317.5,172.1 318.5,172.0 319.5,172.0 320.5,172.0 321.5,172.0 322.5,172.0 323.5,171.9 324.5,171.9 325.5,171.9 326.5,171.8 327.5,171.8 328.5,171.7 329.5,171.7 330.5,171.7 331.5,171.6 332.5,171.6 333.5,171.5 334.5,171.5 335.5,171.4 336.5,171.3 337.5,171.3 338.5,171.2 339.5,171.2 340.5,171.1 341.5,171.1 342.5,171.0 343.5,170.9 344.5,170.8 345.5,170.8 346.5,170.7 347.5,170.6 348.5,170.5 349.5,170.4 350.5,170.2 351.5,170.1 352.5,170.0 353.5,169.9 354.5,169.7 355.5,169.6 356.5,169.5 357.5,169.3 358.5,169.2 359.5,169.0 360.5,168.9 361.5,168.7 362.5,168.5 363.5,168.3 364.5,168.0 365.5,167.8 366.5,167.5 367.5,167.2 368.5,167.0 369.5,166.7 370.5,166.4 371.5,166.2 372.5,165.9 373.5,165.7 374.5,165.5 375.5,165.3 376.5,165.2 377.5,165.0 378.5,164.8 379.5,164.6 380.5,164.5 381.5,164.3 382.5,164.2 383.5,164.0 384.5,163.8 385.5,163.7 386.5,163.5 387.5,163.4 388.5,163.3 389.5,163.1 390.5,163.0 391.5,162.9 392.5,162.7 393.5,162.6 394.5,162.5 395.5,162.4 396.5,162.2 397.5,162.1 398.5,162.0 399.5,161.9 400.5,161.8 401.5,161.7 402.5,161.6 403.5,161.5 404.5,161.4 405.5,161.3 406.5,161.2 407.5,161.1 408.5,161.0 409.5,160.9 410.5,160.8 411.5,160.7 412.5,160.6 413.5,160.5 414.5,160.5 415.5,160.4 416.5,160.3 417.5,160.2 418.5,160.1 419.5,160.0 420.5,159.9 421.5,159.8 422.5,159.7 423.5,159.7 424.5,159.6 425.5,159.5 426.5,159.4 427.5,159.2 428.5,159.1 429.5,159.0 430.5,158.9 431.5,158.7 432.5,158.6 433.5,158.4 434.5,158.2 435.5,158.0 436.5,157.7 437.5,157.5 438.5,157.1 439.5,156.8 440.5,156.3 441.5,155.8 442.5,155.3 443.5,154.7 444.5,154.0 445.5,153.2 446.5,152.4 447.5,151.5 448.5,150.5 449.5,149.5 450.5,148.4 451.5,147.3 452.5,146.2 453.5,145.2 454.5,144.2 455.5,143.3 456.5,142.5 457.5,141.8 458.5,141.3 459.5,141.1 460.5,141.0 461.5,141.1 462.5,141.4 463.5,141.8 464.5,142.4 465.5,143.1 466.5,143.8 467.5,144.7 468.5,145.5 469.5,146.4 470.5,147.2 471.5,148.1 472.5,148.9 473.5,149.7 474.5,150.4 475.5,151.1 476.5,151.7 477.5,152.2 478.5,152.7 479.5,153.1 480.5,153.5 481.5,153.8 482.5,154.0 483.5,154.2 484.5,154.4 485.5,154.6 486.5,154.7 487.5,154.8 488.5,154.8 489.5,154.9 490.5,154.9 491.5,154.9 492.5,154.9 493.5,154.9 494.5,154.9 495.5,154.9 496.5,154.9 497.5,154.8 498.5,154.8 499.5,154.8 500.5,154.8 501.5,154.7 502.5,154.7 503.5,154.7 504.5,154.6 505.5,154.6 506.5,154.5 507.5,154.5 508.5,154.5 509.5,154.4 510.5,154.4 511.5,154.3 512.5,154.3 513.5,154.3 514.5,154.2 515.5,154.2 516.5,154.1 517.5,154.1 518.5,154.1 519.5,154.0 520.5,154.0 521.5,153.9 522.5,153.9 523.5,153.9 524.5,153.8 525.5,153.8 526.5,153.7 527.5,153.7 528.5,153.7 529.5,153.6 530.5,153.6" fill="none" stroke="#2896c2" stroke-width="1.9" stroke-linejoin="round" stroke-linecap="round" /><polyline points="314.5,172.1 315.5,172.1 316.5,172.1 317.5,172.1 318.5,172.1 319.5,172.0 320.5,172.0 321.5,172.0 322.5,172.0 323.5,171.9 324.5,171.9 325.5,171.9 326.5,171.8 327.5,171.8 328.5,171.8 329.5,171.7 330.5,171.7 331.5,171.6 332.5,171.6 333.5,171.5 334.5,171.5 335.5,171.4 336.5,171.4 337.5,171.3 338.5,171.3 339.5,171.2 340.5,171.2 341.5,171.1 342.5,171.0 343.5,171.0 344.5,170.9 345.5,170.8 346.5,170.7 347.5,170.6 348.5,170.5 349.5,170.4 350.5,170.3 351.5,170.1 352.5,170.0 353.5,169.9 354.5,169.8 355.5,169.6 356.5,169.5 357.5,169.3 358.5,169.2 359.5,169.1 360.5,168.9 361.5,168.7 362.5,168.5 363.5,168.3 364.5,168.1 365.5,167.8 366.5,167.5 367.5,167.3 368.5,167.0 369.5,166.7 370.5,166.5 371.5,166.2 372.5,166.0 373.5,165.8 374.5,165.6 375.5,165.4 376.5,165.2 377.5,165.0 378.5,164.9 379.5,164.7 380.5,164.5 381.5,164.4 382.5,164.2 383.5,164.1 384.5,163.9 385.5,163.8 386.5,163.6 387.5,163.5 388.5,163.3 389.5,163.2 390.5,163.1 391.5,162.9 392.5,162.8 393.5,162.7 394.5,162.6 395.5,162.4 396.5,162.3 397.5,162.2 398.5,162.1 399.5,162.0 400.5,161.9 401.5,161.8 402.5,161.7 403.5,161.6 404.5,161.5 405.5,161.4 406.5,161.3 407.5,161.2 408.5,161.2 409.5,161.1 410.5,161.0 411.5,160.9 412.5,160.8 413.5,160.7 414.5,160.7 415.5,160.6 416.5,160.5 417.5,160.4 418.5,160.4 419.5,160.3 420.5,160.2 421.5,160.1 422.5,160.1 423.5,160.0 424.5,159.9 425.5,159.8 426.5,159.8 427.5,159.7 428.5,159.6 429.5,159.5 430.5,159.5 431.5,159.4 432.5,159.3 433.5,159.2 434.5,159.2 435.5,159.1 436.5,159.0 437.5,158.9 438.5,158.8 439.5,158.8 440.5,158.7 441.5,158.6 442.5,158.5 443.5,158.5 444.5,158.4 445.5,158.3 446.5,158.2 447.5,158.2 448.5,158.1 449.5,158.0 450.5,157.9 451.5,157.8 452.5,157.8 453.5,157.7 454.5,157.6 455.5,157.5 456.5,157.4 457.5,157.3 458.5,157.2 459.5,157.1 460.5,157.0 461.5,156.9 462.5,156.7 463.5,156.6 464.5,156.4 465.5,156.3 466.5,156.1 467.5,155.9 468.5,155.6 469.5,155.4 470.5,155.1 471.5,154.8 472.5,154.5 473.5,154.1 474.5,153.7 475.5,153.3 476.5,152.8 477.5,152.3 478.5,151.8 479.5,151.3 480.5,150.8 481.5,150.2 482.5,149.6 483.5,149.0 484.5,148.5 485.5,147.9 486.5,147.4 487.5,146.9 488.5,146.4 489.5,146.0 490.5,145.7 491.5,145.4 492.5,145.2 493.5,145.0 494.5,145.0 495.5,145.0 496.5,145.1 497.5,145.3 498.5,145.5 499.5,145.8 500.5,146.2 501.5,146.6 502.5,147.0 503.5,147.5 504.5,147.9 505.5,148.4 506.5,148.8 507.5,149.3 508.5,149.7 509.5,150.2 510.5,150.6 511.5,150.9 512.5,151.3 513.5,151.6 514.5,151.9 515.5,152.1 516.5,152.4 517.5,152.6 518.5,152.7 519.5,152.9 520.5,153.0 521.5,153.1 522.5,153.2 523.5,153.3 524.5,153.3 525.5,153.3 526.5,153.4 527.5,153.4 528.5,153.4 529.5,153.4 530.5,153.4" fill="none" stroke="#f5934a" stroke-width="1.9" stroke-linejoin="round" stroke-linecap="round" /><polyline points="314.5,172.1 315.5,172.1 316.5,172.1 317.5,172.1 318.5,172.1 319.5,172.1 320.5,172.0 321.5,172.0 322.5,172.0 323.5,172.0 324.5,171.9 325.5,171.9 326.5,171.9 327.5,171.8 328.5,171.8 329.5,171.7 330.5,171.7 331.5,171.6 332.5,171.6 333.5,171.5 334.5,171.5 335.5,171.4 336.5,171.4 337.5,171.3 338.5,171.3 339.5,171.2 340.5,171.2 341.5,171.1 342.5,171.0 343.5,171.0 344.5,170.9 345.5,170.8 346.5,170.7 347.5,170.6 348.5,170.5 349.5,170.4 350.5,170.3 351.5,170.2 352.5,170.0 353.5,169.9 354.5,169.8 355.5,169.7 356.5,169.5 357.5,169.4 358.5,169.2 359.5,169.1 360.5,168.9 361.5,168.7 362.5,168.5 363.5,168.3 364.5,168.1 365.5,167.8 366.5,167.6 367.5,167.3 368.5,167.0 369.5,166.8 370.5,166.5 371.5,166.3 372.5,166.0 373.5,165.8 374.5,165.6 375.5,165.4 376.5,165.2 377.5,165.1 378.5,164.9 379.5,164.7 380.5,164.6 381.5,164.4 382.5,164.2 383.5,164.1 384.5,163.9 385.5,163.8 386.5,163.7 387.5,163.5 388.5,163.4 389.5,163.2 390.5,163.1 391.5,163.0 392.5,162.9 393.5,162.7 394.5,162.6 395.5,162.5 396.5,162.4 397.5,162.3 398.5,162.2 399.5,162.1 400.5,161.9 401.5,161.8 402.5,161.8 403.5,161.7 404.5,161.6 405.5,161.5 406.5,161.4 407.5,161.3 408.5,161.2 409.5,161.1 410.5,161.0 411.5,161.0 412.5,160.9 413.5,160.8 414.5,160.7 415.5,160.7 416.5,160.6 417.5,160.5 418.5,160.4 419.5,160.4 420.5,160.3 421.5,160.2 422.5,160.1 423.5,160.1 424.5,160.0 425.5,159.9 426.5,159.9 427.5,159.8 428.5,159.7 429.5,159.6 430.5,159.6 431.5,159.5 432.5,159.4 433.5,159.3 434.5,159.3 435.5,159.2 436.5,159.1 437.5,159.0 438.5,159.0 439.5,158.9 440.5,158.8 441.5,158.8 442.5,158.7 443.5,158.6 444.5,158.5 445.5,158.5 446.5,158.4 447.5,158.3 448.5,158.3 449.5,158.2 450.5,158.1 451.5,158.1 452.5,158.0 453.5,157.9 454.5,157.9 455.5,157.8 456.5,157.7 457.5,157.7 458.5,157.6 459.5,157.5 460.5,157.5 461.5,157.4 462.5,157.3 463.5,157.3 464.5,157.2 465.5,157.2 466.5,157.1 467.5,157.0 468.5,157.0 469.5,156.9 470.5,156.8 471.5,156.8 472.5,156.7 473.5,156.7 474.5,156.6 475.5,156.5 476.5,156.5 477.5,156.4 478.5,156.4 479.5,156.3 480.5,156.3 481.5,156.2 482.5,156.1 483.5,156.1 484.5,156.0 485.5,156.0 486.5,155.9 487.5,155.9 488.5,155.8 489.5,155.7 490.5,155.7 491.5,155.6 492.5,155.6 493.5,155.5 494.5,155.5 495.5,155.4 496.5,155.4 497.5,155.3 498.5,155.3 499.5,155.2 500.5,155.2 501.5,155.1 502.5,155.1 503.5,155.0 504.5,155.0 505.5,154.9 506.5,154.9 507.5,154.8 508.5,154.8 509.5,154.7 510.5,154.7 511.5,154.6 512.5,154.6 513.5,154.5 514.5,154.5 515.5,154.4 516.5,154.4 517.5,154.3 518.5,154.3 519.5,154.2 520.5,154.2 521.5,154.1 522.5,154.1 523.5,154.0 524.5,154.0 525.5,153.9 526.5,153.9 527.5,153.9 528.5,153.8 529.5,153.8 530.5,153.7" fill="none" stroke="#f5934a" stroke-width="2.1" stroke-linejoin="round" stroke-linecap="round" /></g>
<rect x="314.5" y="13.5" width="216.5" height="171.5" fill="none" stroke="#222" stroke-width="1.5"/>
<line x1="314.5" y1="185" x2="314.5" y2="188" stroke="#222" stroke-width="1.2"/>
<text x="0" y="0" font-size="10.2" fill="#111" stroke="#111" stroke-width="0.3" text-anchor="middle" transform="translate(314.5,199.5) scale(1,1.15)" >770</text>
<line x1="341.5" y1="185" x2="341.5" y2="188" stroke="#222" stroke-width="1.2"/>
<line x1="368.5" y1="185" x2="368.5" y2="188" stroke="#222" stroke-width="1.2"/>
<text x="0" y="0" font-size="10.2" fill="#111" stroke="#111" stroke-width="0.3" text-anchor="middle" transform="translate(368.5,199.5) scale(1,1.15)" >780</text>
<line x1="395.5" y1="185" x2="395.5" y2="188" stroke="#222" stroke-width="1.2"/>
<line x1="422.5" y1="185" x2="422.5" y2="188" stroke="#222" stroke-width="1.2"/>
<text x="0" y="0" font-size="10.2" fill="#111" stroke="#111" stroke-width="0.3" text-anchor="middle" transform="translate(422.5,199.5) scale(1,1.15)" >790</text>
<line x1="449.5" y1="185" x2="449.5" y2="188" stroke="#222" stroke-width="1.2"/>
<line x1="476.5" y1="185" x2="476.5" y2="188" stroke="#222" stroke-width="1.2"/>
<text x="0" y="0" font-size="10.2" fill="#111" stroke="#111" stroke-width="0.3" text-anchor="middle" transform="translate(476.5,199.5) scale(1,1.15)" >800</text>
<line x1="503.5" y1="185" x2="503.5" y2="188" stroke="#222" stroke-width="1.2"/>
<line x1="530.5" y1="185" x2="530.5" y2="188" stroke="#222" stroke-width="1.2"/>
<text x="0" y="0" font-size="10.2" fill="#111" stroke="#111" stroke-width="0.3" text-anchor="middle" transform="translate(530.5,199.5) scale(1,1.15)" >810</text>
<text x="0" y="0" font-size="10.4" fill="#111" stroke="#111" stroke-width="0.3" text-anchor="middle" transform="translate(422.7,216.8) scale(1,1.07)" >Binding energy (eV)</text>
<text x="0" y="0" font-size="10.7" fill="#111" stroke="#111" stroke-width="0.12" text-anchor="middle" transform="translate(299.2,102.0) rotate(-90) scale(1,1.08)">intensity (a.u.)</text>
<text x="0" y="0" font-size="14" fill="#111" stroke="#111" stroke-width="0.3" text-anchor="start" transform="translate(282.6,21.8) scale(1,1.08)" >b</text>
<text x="0" y="0" font-size="10.0" fill="#111" stroke="#111" stroke-width="0.3" text-anchor="start" transform="translate(372.4,23.9) scale(1,1.0)" >2p<tspan font-size="7.0" dy="3.5">3/2</tspan></text>
<text x="0" y="0" font-size="10.0" fill="#111" stroke="#111" stroke-width="0.3" text-anchor="start" transform="translate(451.0,25.9) scale(1,1.0)" >2p<tspan font-size="7.0" dy="3.4">1/2</tspan></text>
<text x="0" y="0" font-size="10.2" fill="#111" stroke="#111" stroke-width="0.3" text-anchor="start" transform="translate(500.2,29.9) scale(1,1.08)" >H600</text>
<text x="0" y="0" font-size="10.2" fill="#111" stroke="#111" stroke-width="0.3" text-anchor="start" transform="translate(501,113.6) scale(1,1.05)" >H400</text>
<text x="0" y="0" font-size="10.2" fill="#2896c2" stroke="#2896c2" stroke-width="0.3" text-anchor="start" transform="translate(334,43.2) scale(1,1.15)" >Co(II)</text>
<text x="0" y="0" font-size="10.2" fill="#62bf4c" stroke="#62bf4c" stroke-width="0.3" text-anchor="start" transform="translate(321.9,60.6) scale(1,1.15)" >Co(0)</text>
<text x="0" y="0" font-size="10.2" fill="#2896c2" stroke="#2896c2" stroke-width="0.3" text-anchor="start" transform="translate(330.1,135.9) scale(1,1.15)" >Co(II)</text>
<text x="0" y="0" font-size="10.2" fill="#f6a36a" stroke="#f6a36a" stroke-width="0.3" text-anchor="start" transform="translate(409,115.1) scale(1,1.15)" >Satellite</text>
<line x1="364.8" y1="59.1" x2="353.6" y2="49.7" stroke="#111" stroke-width="1.35"/><polygon points="348.2,45.2 352.5,46.3 354.3,50.3 350.0,49.2" fill="#111" stroke="#111" stroke-width="0.5" stroke-linejoin="round"/>
<line x1="360.6" y1="79.4" x2="349.2" y2="70.0" stroke="#111" stroke-width="1.35"/><polygon points="343.8,65.6 348.1,66.7 350.0,70.7 345.7,69.6" fill="#111" stroke="#111" stroke-width="0.5" stroke-linejoin="round"/>
<line x1="360.8" y1="155.2" x2="349.3" y2="145.8" stroke="#111" stroke-width="1.35"/><polygon points="343.9,141.4 348.2,142.5 350.1,146.5 345.8,145.4" fill="#111" stroke="#111" stroke-width="0.5" stroke-linejoin="round"/>
<line x1="408.5" y1="144.3" x2="421.8" y2="126.9" stroke="#111" stroke-width="1.35"/><polygon points="426.0,121.3 425.1,125.6 421.2,127.7 422.1,123.3" fill="#111" stroke="#111" stroke-width="0.5" stroke-linejoin="round"/>
<line x1="116.3" y1="246" x2="116.3" y2="357" stroke="#9a9a9a" stroke-width="1.1" stroke-dasharray="3.2,2.6"/>
<line x1="188.4" y1="246" x2="188.4" y2="361" stroke="#9a9a9a" stroke-width="1.1" stroke-dasharray="3.2,2.6"/>
<g clip-path="url(#cc)"><polyline points="50.3,297.8 50.9,297.1 51.5,298.0 52.1,306.3 52.7,291.6 53.3,302.5 53.9,289.3 54.5,295.0 55.1,298.5 55.7,292.9 56.3,298.7 56.9,301.6 57.5,291.0 58.1,297.1 58.7,295.4 59.3,286.8 59.9,296.4 60.5,293.0 61.1,304.7 61.7,292.5 62.3,306.7 62.9,294.3 63.5,307.9 64.1,300.2 64.7,299.7 65.3,301.6 65.9,302.1 66.5,304.8 67.1,306.5 67.7,295.1 68.3,290.1 68.9,282.2 69.5,294.7 70.1,301.0 70.7,298.8 71.3,297.3 71.9,294.7 72.5,293.1 73.1,295.0 73.7,298.6 74.3,286.7 74.9,300.4 75.5,288.3 76.1,295.4 76.7,292.7 77.3,294.1 77.9,290.3 78.5,289.6 79.1,294.6 79.7,289.8 80.3,309.2 80.9,293.3 81.5,291.9 82.1,292.4 82.7,289.4 83.3,281.6 83.9,293.6 84.5,296.5 85.1,286.4 85.7,294.5 86.3,287.6 86.9,293.9 87.5,295.8 88.1,296.2 88.7,295.7 89.3,289.1 89.9,297.5 90.5,289.8 91.1,293.9 91.7,295.4 92.3,289.4 92.9,283.6 93.5,293.5 94.1,283.5 94.7,284.1 95.3,282.4 95.9,292.4 96.5,286.2 97.1,274.0 97.7,289.7 98.3,296.3 98.9,293.9 99.5,280.0 100.1,282.7 100.7,284.1 101.3,285.2 101.9,279.5 102.5,272.2 103.1,281.3 103.7,279.4 104.3,267.5 104.9,271.7 105.5,274.0 106.1,271.3 106.7,273.0 107.3,273.3 107.9,270.8 108.5,266.0 109.1,258.1 109.7,267.8 110.3,271.1 110.9,273.2 111.5,261.2 112.1,260.3 112.7,267.6 113.3,266.9 113.9,260.1 114.5,261.6 115.1,253.0 115.7,260.0 116.3,252.0 116.9,255.5 117.5,255.6 118.1,253.6 118.7,244.7 119.3,251.9 119.9,258.6 120.5,256.7 121.1,255.3 121.7,260.2 122.3,262.2 122.9,263.6 123.5,255.0 124.1,260.2 124.7,258.8 125.3,256.5 125.9,253.7 126.5,262.0 127.1,258.4 127.7,275.6 128.3,263.8 128.9,263.6 129.5,263.1 130.1,276.1 130.7,261.0 131.3,265.6 131.9,262.6 132.5,266.4 133.1,267.1 133.7,273.5 134.3,259.8 134.9,267.5 135.5,276.5 136.1,264.8 136.7,266.6 137.3,262.6 137.9,253.0 138.5,266.7 139.1,273.7 139.7,264.5 140.3,256.8 140.9,268.3 141.5,267.2 142.1,272.2 142.7,271.7 143.3,265.1 143.9,268.8 144.5,256.7 145.1,272.7 145.7,267.7 146.3,272.6 146.9,272.6 147.5,265.2 148.1,266.0 148.7,262.0 149.3,255.5 149.9,266.2 150.5,267.7 151.1,260.9 151.7,270.8 152.3,267.3 152.9,269.2 153.5,262.4 154.1,256.9 154.7,270.8 155.3,269.8 155.9,265.7 156.5,263.9 157.1,264.6 157.7,265.3 158.3,263.2 158.9,254.9 159.5,270.3 160.1,257.8 160.7,264.2 161.3,264.4 161.9,267.6 162.5,257.4 163.1,273.0 163.7,270.0 164.3,270.8 164.9,273.6 165.5,262.3 166.1,249.6 166.7,268.7 167.3,274.2 167.9,273.4 168.5,264.1 169.1,266.5 169.7,268.6 170.3,257.0 170.9,263.2 171.5,263.3 172.1,275.3 172.7,262.9 173.3,274.9 173.9,266.1 174.5,256.5 175.1,277.7 175.7,259.8 176.3,268.2 176.9,273.9 177.5,261.2 178.1,257.0 178.7,269.0 179.3,263.3 179.9,255.8 180.5,256.2 181.1,259.6 181.7,266.6 182.3,259.3 182.9,264.1 183.5,269.3 184.1,266.8 184.7,267.4 185.3,266.0 185.9,250.1 186.5,265.4 187.1,260.3 187.7,257.6 188.3,252.2 188.9,249.3 189.5,251.8 190.1,257.7 190.7,251.4 191.3,253.3 191.9,254.4 192.5,261.5 193.1,256.3 193.7,257.2 194.3,265.4 194.9,256.4 195.5,261.6 196.1,252.6 196.7,260.4 197.3,259.3 197.9,259.8 198.5,256.4 199.1,253.4 199.7,257.6 200.3,255.5 200.9,268.0 201.5,267.1 202.1,249.8 202.7,265.0 203.3,256.0 203.9,263.9 204.5,256.3 205.1,248.2 205.7,268.9 206.3,264.4 206.9,250.7 207.5,245.3 208.1,256.7 208.7,251.5 209.3,258.4 209.9,266.7 210.5,273.9 211.1,259.0 211.7,273.4 212.3,271.9 212.9,258.8 213.5,248.8 214.1,269.8 214.7,268.0 215.3,282.5 215.9,275.1 216.5,269.9 217.1,277.6 217.7,255.1 218.3,265.5 218.9,261.8 219.5,278.6 220.1,269.0 220.7,239.3 221.3,275.9 221.9,257.3 222.5,271.3 223.1,261.0 223.7,267.1 224.3,270.4 224.9,266.8 225.5,257.4 226.1,276.9 226.7,268.7 227.3,265.3 227.9,271.3 228.5,261.1 229.1,281.1 229.7,267.5 230.3,268.7 230.9,268.5 231.5,258.2 232.1,256.0 232.7,267.5 233.3,268.7 233.9,276.9 234.5,269.5 235.1,256.8 235.7,270.1 236.3,272.6 236.9,274.1 237.5,268.6 238.1,255.8 238.7,275.4 239.3,259.8 239.9,270.6 240.5,252.9 241.1,272.2 241.7,259.4 242.3,274.8 242.9,280.4 243.5,275.5 244.1,256.3 244.7,258.1 245.3,258.7 245.9,271.4 246.5,268.8 247.1,267.2 247.7,268.5 248.3,270.7 248.9,271.3 249.5,279.9 250.1,265.5 250.7,267.6 251.3,250.6 251.9,255.0 252.5,260.2 253.1,256.1 253.7,267.7 254.3,274.5 254.9,262.3 255.5,261.9 256.1,261.7 256.7,267.0 257.3,261.4 257.9,269.4 258.5,268.4 259.1,268.7 259.7,272.2 260.3,266.1 260.9,267.1 261.5,280.4 262.1,265.5 262.7,272.4 263.3,266.3 263.9,262.1 264.5,262.1 265.1,259.1" fill="none" stroke="#b8b8b8" stroke-width="1.3" stroke-linejoin="round" stroke-linecap="round" /><polyline points="50.0,298.7 51.0,298.7 52.0,298.7 53.0,298.6 54.0,298.6 55.0,298.6 56.0,298.6 57.0,298.5 58.0,298.5 59.0,298.5 60.0,298.4 61.0,298.4 62.0,298.3 63.0,298.3 64.0,298.2 65.0,298.2 66.0,298.1 67.0,298.0 68.0,298.0 69.0,297.9 70.0,297.8 71.0,297.7 72.0,297.6 73.0,297.6 74.0,297.5 75.0,297.4 76.0,297.3 77.0,297.2 78.0,297.0 79.0,296.9 80.0,296.8 81.0,296.6 82.0,296.5 83.0,296.3 84.0,296.0 85.0,295.7 86.0,295.4 87.0,295.1 88.0,294.6 89.0,294.2 90.0,293.7 91.0,293.0 92.0,292.4 93.0,291.6 94.0,290.8 95.0,289.8 96.0,288.7 97.0,287.6 98.0,286.3 99.0,284.9 100.0,283.5 101.0,281.9 102.0,280.2 103.0,278.4 104.0,276.5 105.0,274.6 106.0,272.6 107.0,270.6 108.0,268.7 109.0,266.8 110.0,264.9 111.0,263.2 112.0,261.7 113.0,260.4 114.0,259.2 115.0,258.3 116.0,257.7 117.0,257.4 118.0,257.3 119.0,257.4 120.0,257.8 121.0,258.4 122.0,259.2 123.0,260.1 124.0,261.0 125.0,262.1 126.0,263.1 127.0,264.2 128.0,265.1 129.0,266.0 130.0,266.8 131.0,267.5 132.0,268.0 133.0,268.4 134.0,268.6 135.0,268.7 136.0,268.7 137.0,268.6 138.0,268.5 139.0,268.3 140.0,268.1 141.0,267.9 142.0,267.8 143.0,267.7 144.0,267.7 145.0,267.7 146.0,267.7 147.0,267.8 148.0,267.9 149.0,267.9 150.0,268.0 151.0,268.0 152.0,267.9 153.0,267.8 154.0,267.7 155.0,267.5 156.0,267.4 157.0,267.2 158.0,267.1 159.0,267.1 160.0,267.1 161.0,267.1 162.0,267.2 163.0,267.4 164.0,267.6 165.0,267.7 166.0,267.9 167.0,268.0 168.0,268.1 169.0,268.1 170.0,268.0 171.0,267.9 172.0,267.7 173.0,267.4 174.0,267.0 175.0,266.5 176.0,266.0 177.0,265.4 178.0,264.8 179.0,264.1 180.0,263.5 181.0,262.8 182.0,262.1 183.0,261.5 184.0,260.9 185.0,260.3 186.0,259.9 187.0,259.5 188.0,259.2 189.0,259.0 190.0,258.8 191.0,258.8 192.0,258.8 193.0,258.9 194.0,259.0 195.0,259.2 196.0,259.4 197.0,259.6 198.0,259.8 199.0,260.1 200.0,260.3 201.0,260.5 202.0,260.7 203.0,260.9 204.0,261.1 205.0,261.3 206.0,261.6 207.0,261.8 208.0,262.1 209.0,262.3 210.0,262.6 211.0,262.9 212.0,263.2 213.0,263.5 214.0,263.7 215.0,264.0 216.0,264.3 217.0,264.6 218.0,264.8 219.0,265.1 220.0,265.3 221.0,265.5 222.0,265.7 223.0,265.9 224.0,266.0 225.0,266.1 226.0,266.2 227.0,266.3 228.0,266.4 229.0,266.4 230.0,266.5 231.0,266.5 232.0,266.6 233.0,266.6 234.0,266.6 235.0,266.6 236.0,266.6 237.0,266.7 238.0,266.7 239.0,266.7 240.0,266.7 241.0,266.7 242.0,266.7 243.0,266.7 244.0,266.7 245.0,266.7 246.0,266.8 247.0,266.8 248.0,266.8 249.0,266.8 250.0,266.8 251.0,266.8 252.0,266.8 253.0,266.8 254.0,266.8 255.0,266.8 256.0,266.8 257.0,266.8 258.0,266.8 259.0,266.8 260.0,266.8 261.0,266.8 262.0,266.8 263.0,266.8 264.0,266.8 265.0,266.8" fill="none" stroke="#f2635f" stroke-width="2.1" stroke-linejoin="round" stroke-linecap="round" /><polyline points="50.0,298.7 51.0,298.7 52.0,298.7 53.0,298.7 54.0,298.7 55.0,298.7 56.0,298.6 57.0,298.6 58.0,298.6 59.0,298.5 60.0,298.5 61.0,298.4 62.0,298.4 63.0,298.3 64.0,298.3 65.0,298.2 66.0,298.1 67.0,298.1 68.0,298.0 69.0,297.9 70.0,297.9 71.0,297.8 72.0,297.7 73.0,297.6 74.0,297.5 75.0,297.4 76.0,297.3 77.0,297.2 78.0,297.1 79.0,297.0 80.0,296.9 81.0,296.7 82.0,296.5 83.0,296.3 84.0,296.1 85.0,295.8 86.0,295.5 87.0,295.2 88.0,294.7 89.0,294.3 90.0,293.7 91.0,293.1 92.0,292.5 93.0,291.7 94.0,290.9 95.0,289.9 96.0,288.9 97.0,287.7 98.0,286.4 99.0,285.1 100.0,283.6 101.0,282.0 102.0,280.3 103.0,278.5 104.0,276.6 105.0,274.7 106.0,272.7 107.0,270.8 108.0,268.8 109.0,266.9 110.0,265.1 111.0,263.4 112.0,261.9 113.0,260.6 114.0,259.4 115.0,258.6 116.0,258.0 117.0,257.6 118.0,257.6 119.0,257.8 120.0,258.2 121.0,258.9 122.0,259.7 123.0,260.7 124.0,261.8 125.0,263.0 126.0,264.2 127.0,265.5 128.0,266.8 129.0,268.1 130.0,269.3 131.0,270.5 132.0,271.5 133.0,272.5 134.0,273.4 135.0,274.2 136.0,274.9 137.0,275.5 138.0,276.0 139.0,276.4 140.0,276.7 141.0,276.9 142.0,277.1 143.0,277.2 144.0,277.2 145.0,277.2 146.0,277.2 147.0,277.1 148.0,277.1 149.0,276.9 150.0,276.8 151.0,276.7 152.0,276.6 153.0,276.4 154.0,276.2 155.0,276.1 156.0,275.9 157.0,275.8 158.0,275.6 159.0,275.4 160.0,275.2 161.0,275.1 162.0,274.9 163.0,274.8 164.0,274.6 165.0,274.4 166.0,274.3 167.0,274.1 168.0,274.0 169.0,273.8 170.0,273.7 171.0,273.5 172.0,273.4 173.0,273.2 174.0,273.1 175.0,272.9 176.0,272.8 177.0,272.6 178.0,272.5 179.0,272.3 180.0,272.2 181.0,272.0 182.0,271.9 183.0,271.8 184.0,271.6 185.0,271.5 186.0,271.3 187.0,271.2 188.0,271.1 189.0,270.9 190.0,270.8 191.0,270.6 192.0,270.4 193.0,270.3 194.0,270.1 195.0,269.9 196.0,269.8 197.0,269.6 198.0,269.4 199.0,269.2 200.0,269.1 201.0,268.9 202.0,268.7 203.0,268.6 204.0,268.4 205.0,268.3 206.0,268.1 207.0,268.0 208.0,267.8 209.0,267.7 210.0,267.6 211.0,267.5 212.0,267.3 213.0,267.3 214.0,267.2 215.0,267.1 216.0,267.0 217.0,267.0 218.0,267.0 219.0,266.9 220.0,266.9 221.0,266.9 222.0,266.9 223.0,266.9 224.0,266.9 225.0,266.9 226.0,266.9 227.0,266.9 228.0,266.9 229.0,266.9 230.0,266.9 231.0,266.9 232.0,266.9 233.0,266.9 234.0,266.9 235.0,266.9 236.0,266.9 237.0,266.9 238.0,266.9 239.0,266.9 240.0,266.9 241.0,266.9 242.0,267.0 243.0,267.0 244.0,267.0 245.0,267.0 246.0,267.0 247.0,267.0 248.0,267.0 249.0,267.0 250.0,267.0 251.0,267.0 252.0,267.0 253.0,267.0 254.0,267.0 255.0,267.0 256.0,267.0 257.0,267.0 258.0,267.0 259.0,267.0 260.0,267.0 261.0,267.0 262.0,267.0 263.0,267.0 264.0,267.0 265.0,267.0" fill="none" stroke="#a35aaf" stroke-width="1.9" stroke-linejoin="round" stroke-linecap="round" /><polyline points="50.0,298.9 51.0,298.9 52.0,298.9 53.0,298.9 54.0,298.9 55.0,298.8 56.0,298.8 57.0,298.8 58.0,298.8 59.0,298.7 60.0,298.7 61.0,298.7 62.0,298.6 63.0,298.6 64.0,298.5 65.0,298.5 66.0,298.4 67.0,298.4 68.0,298.3 69.0,298.3 70.0,298.2 71.0,298.1 72.0,298.1 73.0,298.0 74.0,297.9 75.0,297.9 76.0,297.8 77.0,297.7 78.0,297.6 79.0,297.6 80.0,297.5 81.0,297.4 82.0,297.3 83.0,297.2 84.0,297.1 85.0,296.9 86.0,296.8 87.0,296.6 88.0,296.5 89.0,296.3 90.0,296.1 91.0,295.9 92.0,295.7 93.0,295.5 94.0,295.3 95.0,295.1 96.0,294.9 97.0,294.6 98.0,294.4 99.0,294.2 100.0,294.0 101.0,293.7 102.0,293.5 103.0,293.2 104.0,292.9 105.0,292.6 106.0,292.3 107.0,292.0 108.0,291.6 109.0,291.3 110.0,290.9 111.0,290.6 112.0,290.2 113.0,289.9 114.0,289.5 115.0,289.2 116.0,288.8 117.0,288.5 118.0,288.1 119.0,287.8 120.0,287.4 121.0,287.0 122.0,286.6 123.0,286.1 124.0,285.6 125.0,285.1 126.0,284.5 127.0,283.9 128.0,283.3 129.0,282.5 130.0,281.7 131.0,280.9 132.0,280.0 133.0,279.0 134.0,278.1 135.0,277.1 136.0,276.1 137.0,275.1 138.0,274.2 139.0,273.3 140.0,272.6 141.0,272.0 142.0,271.5 143.0,271.2 144.0,271.0 145.0,271.0 146.0,271.2 147.0,271.4 148.0,271.7 149.0,272.1 150.0,272.5 151.0,273.0 152.0,273.4 153.0,273.7 154.0,274.1 155.0,274.3 156.0,274.6 157.0,274.7 158.0,274.8 159.0,274.9 160.0,274.9 161.0,274.9 162.0,274.8 163.0,274.8 164.0,274.6 165.0,274.5 166.0,274.4 167.0,274.3 168.0,274.1 169.0,274.0 170.0,273.8 171.0,273.7 172.0,273.5 173.0,273.4 174.0,273.2 175.0,273.1 176.0,272.9 177.0,272.8 178.0,272.6 179.0,272.5 180.0,272.3 181.0,272.2 182.0,272.0 183.0,271.9 184.0,271.8 185.0,271.6 186.0,271.5 187.0,271.3 188.0,271.2 189.0,271.0 190.0,270.9 191.0,270.7 192.0,270.5 193.0,270.4 194.0,270.2 195.0,270.0 196.0,269.9 197.0,269.7 198.0,269.5 199.0,269.3 200.0,269.2 201.0,269.0 202.0,268.8 203.0,268.7 204.0,268.5 205.0,268.3 206.0,268.2 207.0,268.0 208.0,267.9 209.0,267.8 210.0,267.6 211.0,267.5 212.0,267.4 213.0,267.3 214.0,267.2 215.0,267.2 216.0,267.1 217.0,267.1 218.0,267.0 219.0,267.0 220.0,267.0 221.0,267.0 222.0,267.0 223.0,267.0 224.0,267.0 225.0,267.0 226.0,267.0 227.0,267.0 228.0,267.0 229.0,267.0 230.0,267.0 231.0,267.0 232.0,267.0 233.0,267.0 234.0,267.0 235.0,267.0 236.0,267.0 237.0,267.0 238.0,267.0 239.0,267.0 240.0,267.0 241.0,267.0 242.0,267.0 243.0,267.0 244.0,267.0 245.0,267.0 246.0,267.0 247.0,267.0 248.0,267.0 249.0,267.0 250.0,267.0 251.0,267.0 252.0,267.0 253.0,267.0 254.0,267.0 255.0,267.0 256.0,267.0 257.0,267.0 258.0,267.0 259.0,267.0 260.0,267.0 261.0,267.0 262.0,267.0 263.0,267.0 264.0,267.0 265.0,267.0" fill="none" stroke="#f5934a" stroke-width="1.9" stroke-linejoin="round" stroke-linecap="round" /><polyline points="50.0,298.9 51.0,298.9 52.0,298.9 53.0,298.9 54.0,298.9 55.0,298.8 56.0,298.8 57.0,298.8 58.0,298.8 59.0,298.7 60.0,298.7 61.0,298.7 62.0,298.6 63.0,298.6 64.0,298.5 65.0,298.5 66.0,298.4 67.0,298.4 68.0,298.3 69.0,298.3 70.0,298.2 71.0,298.1 72.0,298.1 73.0,298.0 74.0,297.9 75.0,297.9 76.0,297.8 77.0,297.7 78.0,297.6 79.0,297.6 80.0,297.5 81.0,297.4 82.0,297.3 83.0,297.2 84.0,297.1 85.0,296.9 86.0,296.8 87.0,296.6 88.0,296.5 89.0,296.3 90.0,296.1 91.0,295.9 92.0,295.7 93.0,295.5 94.0,295.3 95.0,295.1 96.0,294.9 97.0,294.7 98.0,294.4 99.0,294.2 100.0,294.0 101.0,293.7 102.0,293.5 103.0,293.2 104.0,292.9 105.0,292.6 106.0,292.3 107.0,292.0 108.0,291.7 109.0,291.3 110.0,291.0 111.0,290.6 112.0,290.3 113.0,289.9 114.0,289.6 115.0,289.2 116.0,288.9 117.0,288.6 118.0,288.2 119.0,287.9 120.0,287.6 121.0,287.2 122.0,286.9 123.0,286.5 124.0,286.2 125.0,285.8 126.0,285.4 127.0,285.1 128.0,284.7 129.0,284.3 130.0,284.0 131.0,283.6 132.0,283.2 133.0,282.8 134.0,282.5 135.0,282.1 136.0,281.7 137.0,281.3 138.0,280.9 139.0,280.5 140.0,280.1 141.0,279.7 142.0,279.2 143.0,278.7 144.0,278.2 145.0,277.7 146.0,277.1 147.0,276.5 148.0,275.8 149.0,275.1 150.0,274.4 151.0,273.7 152.0,272.9 153.0,272.2 154.0,271.5 155.0,270.9 156.0,270.3 157.0,269.8 158.0,269.5 159.0,269.2 160.0,269.1 161.0,269.1 162.0,269.2 163.0,269.4 164.0,269.6 165.0,269.9 166.0,270.3 167.0,270.6 168.0,270.9 169.0,271.3 170.0,271.5 171.0,271.8 172.0,272.0 173.0,272.1 174.0,272.2 175.0,272.3 176.0,272.3 177.0,272.3 178.0,272.3 179.0,272.2 180.0,272.1 181.0,272.0 182.0,271.9 183.0,271.8 184.0,271.7 185.0,271.6 186.0,271.4 187.0,271.3 188.0,271.1 189.0,271.0 190.0,270.8 191.0,270.7 192.0,270.5 193.0,270.4 194.0,270.2 195.0,270.0 196.0,269.8 197.0,269.7 198.0,269.5 199.0,269.3 200.0,269.1 201.0,269.0 202.0,268.8 203.0,268.6 204.0,268.5 205.0,268.3 206.0,268.2 207.0,268.0 208.0,267.9 209.0,267.8 210.0,267.6 211.0,267.5 212.0,267.4 213.0,267.3 214.0,267.2 215.0,267.2 216.0,267.1 217.0,267.1 218.0,267.0 219.0,267.0 220.0,267.0 221.0,267.0 222.0,267.0 223.0,267.0 224.0,267.0 225.0,267.0 226.0,267.0 227.0,267.0 228.0,267.0 229.0,267.0 230.0,267.0 231.0,267.0 232.0,267.0 233.0,267.0 234.0,267.0 235.0,267.0 236.0,267.0 237.0,267.0 238.0,267.0 239.0,267.0 240.0,267.0 241.0,267.0 242.0,267.0 243.0,267.0 244.0,267.0 245.0,267.0 246.0,267.0 247.0,267.0 248.0,267.0 249.0,267.0 250.0,267.0 251.0,267.0 252.0,267.0 253.0,267.0 254.0,267.0 255.0,267.0 256.0,267.0 257.0,267.0 258.0,267.0 259.0,267.0 260.0,267.0 261.0,267.0 262.0,267.0 263.0,267.0 264.0,267.0 265.0,267.0" fill="none" stroke="#f5934a" stroke-width="1.9" stroke-linejoin="round" stroke-linecap="round" /><polyline points="50.0,298.9 51.0,298.9 52.0,298.9 53.0,298.9 54.0,298.8 55.0,298.8 56.0,298.8 57.0,298.8 58.0,298.7 59.0,298.7 60.0,298.7 61.0,298.6 62.0,298.6 63.0,298.5 64.0,298.5 65.0,298.4 66.0,298.4 67.0,298.3 68.0,298.3 69.0,298.2 70.0,298.2 71.0,298.1 72.0,298.0 73.0,298.0 74.0,297.9 75.0,297.8 76.0,297.8 77.0,297.7 78.0,297.6 79.0,297.5 80.0,297.5 81.0,297.4 82.0,297.3 83.0,297.2 84.0,297.0 85.0,296.9 86.0,296.8 87.0,296.6 88.0,296.4 89.0,296.3 90.0,296.1 91.0,295.9 92.0,295.7 93.0,295.5 94.0,295.3 95.0,295.0 96.0,294.8 97.0,294.6 98.0,294.4 99.0,294.2 100.0,293.9 101.0,293.7 102.0,293.4 103.0,293.2 104.0,292.9 105.0,292.6 106.0,292.2 107.0,291.9 108.0,291.6 109.0,291.2 110.0,290.9 111.0,290.5 112.0,290.2 113.0,289.8 114.0,289.5 115.0,289.2 116.0,288.8 117.0,288.5 118.0,288.2 119.0,287.8 120.0,287.5 121.0,287.1 122.0,286.8 123.0,286.4 124.0,286.1 125.0,285.7 126.0,285.3 127.0,285.0 128.0,284.6 129.0,284.2 130.0,283.9 131.0,283.5 132.0,283.1 133.0,282.8 134.0,282.4 135.0,282.0 136.0,281.7 137.0,281.3 138.0,281.0 139.0,280.6 140.0,280.3 141.0,280.0 142.0,279.6 143.0,279.3 144.0,279.0 145.0,278.7 146.0,278.4 147.0,278.1 148.0,277.8 149.0,277.6 150.0,277.3 151.0,277.1 152.0,276.8 153.0,276.6 154.0,276.3 155.0,276.1 156.0,275.8 157.0,275.6 158.0,275.3 159.0,275.0 160.0,274.8 161.0,274.5 162.0,274.2 163.0,273.8 164.0,273.5 165.0,273.1 166.0,272.7 167.0,272.3 168.0,271.8 169.0,271.3 170.0,270.8 171.0,270.2 172.0,269.6 173.0,269.0 174.0,268.3 175.0,267.7 176.0,266.9 177.0,266.2 178.0,265.5 179.0,264.7 180.0,264.0 181.0,263.3 182.0,262.6 183.0,261.9 184.0,261.3 185.0,260.8 186.0,260.3 187.0,260.0 188.0,259.7 189.0,259.6 190.0,259.5 191.0,259.6 192.0,259.7 193.0,259.9 194.0,260.2 195.0,260.5 196.0,260.9 197.0,261.3 198.0,261.7 199.0,262.1 200.0,262.6 201.0,263.0 202.0,263.4 203.0,263.7 204.0,264.1 205.0,264.4 206.0,264.7 207.0,264.9 208.0,265.2 209.0,265.4 210.0,265.5 211.0,265.7 212.0,265.8 213.0,265.9 214.0,266.0 215.0,266.1 216.0,266.1 217.0,266.2 218.0,266.2 219.0,266.3 220.0,266.4 221.0,266.4 222.0,266.5 223.0,266.5 224.0,266.5 225.0,266.6 226.0,266.6 227.0,266.6 228.0,266.6 229.0,266.7 230.0,266.7 231.0,266.7 232.0,266.7 233.0,266.7 234.0,266.7 235.0,266.7 236.0,266.8 237.0,266.8 238.0,266.8 239.0,266.8 240.0,266.8 241.0,266.8 242.0,266.8 243.0,266.8 244.0,266.8 245.0,266.8 246.0,266.8 247.0,266.8 248.0,266.8 249.0,266.8 250.0,266.9 251.0,266.9 252.0,266.9 253.0,266.9 254.0,266.9 255.0,266.9 256.0,266.9 257.0,266.9 258.0,266.9 259.0,266.9 260.0,266.9 261.0,266.9 262.0,266.9 263.0,266.9 264.0,266.9 265.0,266.9" fill="none" stroke="#a35aaf" stroke-width="1.9" stroke-linejoin="round" stroke-linecap="round" /><polyline points="50.0,298.9 51.0,298.9 52.0,298.9 53.0,298.9 54.0,298.9 55.0,298.8 56.0,298.8 57.0,298.8 58.0,298.8 59.0,298.7 60.0,298.7 61.0,298.7 62.0,298.6 63.0,298.6 64.0,298.5 65.0,298.5 66.0,298.4 67.0,298.4 68.0,298.3 69.0,298.3 70.0,298.2 71.0,298.1 72.0,298.1 73.0,298.0 74.0,297.9 75.0,297.9 76.0,297.8 77.0,297.7 78.0,297.6 79.0,297.6 80.0,297.5 81.0,297.4 82.0,297.3 83.0,297.2 84.0,297.1 85.0,296.9 86.0,296.8 87.0,296.6 88.0,296.5 89.0,296.3 90.0,296.1 91.0,295.9 92.0,295.7 93.0,295.5 94.0,295.3 95.0,295.1 96.0,294.9 97.0,294.7 98.0,294.5 99.0,294.2 100.0,294.0 101.0,293.8 102.0,293.5 103.0,293.2 104.0,292.9 105.0,292.6 106.0,292.3 107.0,292.0 108.0,291.7 109.0,291.3 110.0,291.0 111.0,290.6 112.0,290.3 113.0,289.9 114.0,289.6 115.0,289.3 116.0,288.9 117.0,288.6 118.0,288.3 119.0,287.9 120.0,287.6 121.0,287.3 122.0,286.9 123.0,286.6 124.0,286.2 125.0,285.8 126.0,285.5 127.0,285.1 128.0,284.7 129.0,284.4 130.0,284.0 131.0,283.7 132.0,283.3 133.0,282.9 134.0,282.6 135.0,282.2 136.0,281.9 137.0,281.5 138.0,281.2 139.0,280.8 140.0,280.5 141.0,280.2 142.0,279.9 143.0,279.6 144.0,279.3 145.0,279.0 146.0,278.7 147.0,278.4 148.0,278.2 149.0,277.9 150.0,277.7 151.0,277.5 152.0,277.2 153.0,277.0 154.0,276.8 155.0,276.6 156.0,276.4 157.0,276.2 158.0,276.0 159.0,275.8 160.0,275.6 161.0,275.4 162.0,275.3 163.0,275.1 164.0,274.9 165.0,274.7 166.0,274.6 167.0,274.4 168.0,274.2 169.0,274.1 170.0,273.9 171.0,273.7 172.0,273.6 173.0,273.4 174.0,273.3 175.0,273.1 176.0,272.9 177.0,272.8 178.0,272.6 179.0,272.5 180.0,272.3 181.0,272.2 182.0,272.0 183.0,271.8 184.0,271.7 185.0,271.5 186.0,271.3 187.0,271.1 188.0,270.9 189.0,270.7 190.0,270.5 191.0,270.2 192.0,269.9 193.0,269.6 194.0,269.3 195.0,268.9 196.0,268.6 197.0,268.2 198.0,267.8 199.0,267.4 200.0,267.1 201.0,266.7 202.0,266.3 203.0,266.0 204.0,265.7 205.0,265.4 206.0,265.2 207.0,265.1 208.0,264.9 209.0,264.9 210.0,264.8 211.0,264.9 212.0,264.9 213.0,265.0 214.0,265.1 215.0,265.3 216.0,265.4 217.0,265.6 218.0,265.7 219.0,265.9 220.0,266.1 221.0,266.2 222.0,266.3 223.0,266.5 224.0,266.6 225.0,266.6 226.0,266.7 227.0,266.8 228.0,266.8 229.0,266.9 230.0,266.9 231.0,266.9 232.0,266.9 233.0,266.9 234.0,266.9 235.0,267.0 236.0,267.0 237.0,267.0 238.0,267.0 239.0,267.0 240.0,267.0 241.0,267.0 242.0,267.0 243.0,267.0 244.0,267.0 245.0,267.0 246.0,267.0 247.0,267.0 248.0,267.0 249.0,267.0 250.0,267.0 251.0,267.0 252.0,267.0 253.0,267.0 254.0,267.0 255.0,267.0 256.0,267.0 257.0,267.0 258.0,267.0 259.0,267.0 260.0,267.0 261.0,267.0 262.0,267.0 263.0,267.0 264.0,267.0 265.0,267.0" fill="none" stroke="#f5934a" stroke-width="1.9" stroke-linejoin="round" stroke-linecap="round" /><polyline points="50.0,298.9 51.0,298.9 52.0,298.9 53.0,298.9 54.0,298.9 55.0,298.8 56.0,298.8 57.0,298.8 58.0,298.8 59.0,298.7 60.0,298.7 61.0,298.7 62.0,298.6 63.0,298.6 64.0,298.5 65.0,298.5 66.0,298.4 67.0,298.4 68.0,298.3 69.0,298.3 70.0,298.2 71.0,298.1 72.0,298.1 73.0,298.0 74.0,297.9 75.0,297.9 76.0,297.8 77.0,297.7 78.0,297.7 79.0,297.6 80.0,297.5 81.0,297.4 82.0,297.3 83.0,297.2 84.0,297.1 85.0,297.0 86.0,296.8 87.0,296.6 88.0,296.5 89.0,296.3 90.0,296.1 91.0,295.9 92.0,295.7 93.0,295.5 94.0,295.3 95.0,295.1 96.0,294.9 97.0,294.7 98.0,294.5 99.0,294.2 100.0,294.0 101.0,293.8 102.0,293.5 103.0,293.2 104.0,292.9 105.0,292.6 106.0,292.3 107.0,292.0 108.0,291.7 109.0,291.3 110.0,291.0 111.0,290.6 112.0,290.3 113.0,289.9 114.0,289.6 115.0,289.3 116.0,288.9 117.0,288.6 118.0,288.3 119.0,287.9 120.0,287.6 121.0,287.3 122.0,286.9 123.0,286.6 124.0,286.2 125.0,285.8 126.0,285.5 127.0,285.1 128.0,284.7 129.0,284.4 130.0,284.0 131.0,283.7 132.0,283.3 133.0,282.9 134.0,282.6 135.0,282.2 136.0,281.9 137.0,281.5 138.0,281.2 139.0,280.8 140.0,280.5 141.0,280.2 142.0,279.9 143.0,279.6 144.0,279.3 145.0,279.0 146.0,278.7 147.0,278.4 148.0,278.2 149.0,277.9 150.0,277.7 151.0,277.5 152.0,277.3 153.0,277.0 154.0,276.8 155.0,276.6 156.0,276.4 157.0,276.2 158.0,276.0 159.0,275.8 160.0,275.6 161.0,275.5 162.0,275.3 163.0,275.1 164.0,274.9 165.0,274.7 166.0,274.6 167.0,274.4 168.0,274.2 169.0,274.1 170.0,273.9 171.0,273.8 172.0,273.6 173.0,273.4 174.0,273.3 175.0,273.1 176.0,273.0 177.0,272.8 178.0,272.7 179.0,272.5 180.0,272.4 181.0,272.2 182.0,272.1 183.0,271.9 184.0,271.8 185.0,271.6 186.0,271.5 187.0,271.3 188.0,271.2 189.0,271.0 190.0,270.9 191.0,270.7 192.0,270.6 193.0,270.4 194.0,270.2 195.0,270.1 196.0,269.9 197.0,269.7 198.0,269.5 199.0,269.4 200.0,269.2 201.0,269.0 202.0,268.8 203.0,268.7 204.0,268.5 205.0,268.4 206.0,268.2 207.0,268.1 208.0,267.9 209.0,267.8 210.0,267.7 211.0,267.5 212.0,267.4 213.0,267.3 214.0,267.3 215.0,267.2 216.0,267.1 217.0,267.1 218.0,267.0 219.0,267.0 220.0,267.0 221.0,267.0 222.0,267.0 223.0,267.0 224.0,267.0 225.0,267.0 226.0,267.0 227.0,267.0 228.0,267.0 229.0,267.0 230.0,267.0 231.0,267.0 232.0,267.0 233.0,267.0 234.0,267.0 235.0,267.0 236.0,267.0 237.0,267.0 238.0,267.0 239.0,267.0 240.0,267.0 241.0,267.0 242.0,267.0 243.0,267.0 244.0,267.0 245.0,267.0 246.0,267.0 247.0,267.0 248.0,267.0 249.0,267.0 250.0,267.0 251.0,267.0 252.0,267.0 253.0,267.0 254.0,267.0 255.0,267.0 256.0,267.0 257.0,267.0 258.0,267.0 259.0,267.0 260.0,267.0 261.0,267.0 262.0,267.0 263.0,267.0 264.0,267.0 265.0,267.0" fill="none" stroke="#f5934a" stroke-width="2.1" stroke-linejoin="round" stroke-linecap="round" /><polyline points="50.3,380.6 50.9,378.5 51.5,379.1 52.1,384.5 52.7,380.1 53.3,384.3 53.9,381.4 54.5,383.3 55.1,378.5 55.7,381.0 56.3,389.2 56.9,383.2 57.5,383.8 58.1,381.2 58.7,383.3 59.3,376.6 59.9,377.6 60.5,381.8 61.1,383.1 61.7,379.0 62.3,379.7 62.9,379.2 63.5,379.7 64.1,376.4 64.7,375.6 65.3,380.0 65.9,374.5 66.5,377.0 67.1,378.1 67.7,376.7 68.3,381.0 68.9,378.7 69.5,379.9 70.1,376.8 70.7,377.7 71.3,381.8 71.9,381.3 72.5,378.5 73.1,381.2 73.7,380.6 74.3,380.5 74.9,385.2 75.5,378.6 76.1,381.3 76.7,381.2 77.3,379.0 77.9,375.9 78.5,382.0 79.1,380.5 79.7,379.7 80.3,379.6 80.9,379.5 81.5,376.4 82.1,380.2 82.7,373.2 83.3,379.0 83.9,374.0 84.5,377.7 85.1,381.1 85.7,377.7 86.3,376.8 86.9,379.9 87.5,377.2 88.1,376.5 88.7,376.3 89.3,382.4 89.9,379.3 90.5,378.4 91.1,372.6 91.7,378.2 92.3,371.5 92.9,377.0 93.5,371.2 94.1,380.9 94.7,368.3 95.3,377.3 95.9,375.2 96.5,366.0 97.1,370.3 97.7,375.0 98.3,373.1 98.9,363.0 99.5,365.7 100.1,362.5 100.7,361.9 101.3,361.9 101.9,368.9 102.5,361.9 103.1,359.4 103.7,357.6 104.3,359.4 104.9,358.0 105.5,351.1 106.1,357.4 106.7,347.4 107.3,348.5 107.9,349.2 108.5,351.8 109.1,343.4 109.7,344.0 110.3,345.8 110.9,342.1 111.5,342.4 112.1,340.8 112.7,337.0 113.3,337.2 113.9,337.1 114.5,333.1 115.1,337.7 115.7,325.3 116.3,328.4 116.9,335.9 117.5,332.4 118.1,328.8 118.7,332.3 119.3,334.8 119.9,329.7 120.5,334.5 121.1,332.0 121.7,332.6 122.3,333.4 122.9,338.0 123.5,331.4 124.1,334.7 124.7,338.9 125.3,333.5 125.9,333.2 126.5,341.1 127.1,340.0 127.7,340.3 128.3,342.0 128.9,339.0 129.5,352.4 130.1,340.1 130.7,342.3 131.3,339.5 131.9,343.1 132.5,349.8 133.1,345.0 133.7,347.0 134.3,343.5 134.9,351.0 135.5,345.5 136.1,340.7 136.7,347.2 137.3,343.2 137.9,346.2 138.5,344.5 139.1,344.7 139.7,344.1 140.3,340.5 140.9,338.4 141.5,346.5 142.1,342.8 142.7,344.3 143.3,341.9 143.9,336.9 144.5,339.6 145.1,348.6 145.7,341.7 146.3,343.4 146.9,340.1 147.5,343.6 148.1,344.4 148.7,345.2 149.3,346.0 149.9,344.5 150.5,344.9 151.1,347.0 151.7,348.3 152.3,346.8 152.9,353.1 153.5,348.1 154.1,347.9 154.7,345.2 155.3,350.6 155.9,343.7 156.5,341.6 157.1,343.6 157.7,348.7 158.3,342.7 158.9,350.7 159.5,346.2 160.1,341.2 160.7,345.4 161.3,352.1 161.9,343.4 162.5,342.0 163.1,348.1 163.7,350.9 164.3,350.2 164.9,346.0 165.5,347.9 166.1,348.7 166.7,351.7 167.3,355.2 167.9,348.1 168.5,352.9 169.1,347.8 169.7,351.0 170.3,346.2 170.9,346.9 171.5,350.8 172.1,346.5 172.7,352.4 173.3,347.6 173.9,349.5 174.5,348.8 175.1,347.8 175.7,349.0 176.3,351.9 176.9,358.2 177.5,343.6 178.1,348.1 178.7,346.0 179.3,343.1 179.9,346.5 180.5,342.1 181.1,344.1 181.7,347.9 182.3,336.6 182.9,343.5 183.5,343.5 184.1,338.3 184.7,342.7 185.3,341.6 185.9,338.8 186.5,343.5 187.1,334.8 187.7,340.9 188.3,337.7 188.9,334.7 189.5,337.4 190.1,336.7 190.7,340.4 191.3,332.7 191.9,337.0 192.5,336.2 193.1,343.0 193.7,334.2 194.3,341.5 194.9,332.4 195.5,339.5 196.1,338.2 196.7,340.1 197.3,336.7 197.9,332.8 198.5,334.4 199.1,344.1 199.7,340.7 200.3,337.3 200.9,343.4 201.5,338.2 202.1,338.4 202.7,337.1 203.3,345.2 203.9,348.0 204.5,338.6 205.1,342.9 205.7,345.4 206.3,349.4 206.9,334.8 207.5,343.4 208.1,345.3 208.7,338.5 209.3,345.0 209.9,344.6 210.5,346.6 211.1,342.5 211.7,346.1 212.3,343.0 212.9,347.3 213.5,346.1 214.1,344.6 214.7,341.4 215.3,351.7 215.9,350.2 216.5,349.7 217.1,344.8 217.7,346.1 218.3,352.9 218.9,350.1 219.5,345.0 220.1,348.1 220.7,348.6 221.3,347.6 221.9,345.3 222.5,352.7 223.1,350.6 223.7,348.1 224.3,343.7 224.9,347.0 225.5,349.0 226.1,351.9 226.7,347.9 227.3,352.8 227.9,349.7 228.5,346.8 229.1,340.0 229.7,345.4 230.3,344.4 230.9,348.8 231.5,350.4 232.1,353.9 232.7,349.3 233.3,345.5 233.9,357.1 234.5,350.3 235.1,348.4 235.7,348.4 236.3,344.8 236.9,351.4 237.5,350.5 238.1,354.5 238.7,352.9 239.3,352.1 239.9,353.4 240.5,348.3 241.1,347.8 241.7,349.1 242.3,345.1 242.9,348.8 243.5,348.2 244.1,351.5 244.7,349.2 245.3,343.0 245.9,349.4 246.5,353.9 247.1,343.2 247.7,346.7 248.3,349.3 248.9,344.9 249.5,347.4 250.1,349.4 250.7,344.9 251.3,350.2 251.9,350.6 252.5,345.1 253.1,349.3 253.7,352.8 254.3,348.7 254.9,350.7 255.5,351.4 256.1,348.5 256.7,352.5 257.3,350.5 257.9,346.0 258.5,351.0 259.1,352.1 259.7,351.9" fill="none" stroke="#b8b8b8" stroke-width="1.3" stroke-linejoin="round" stroke-linecap="round" /><polyline points="50.0,381.5 51.0,381.5 52.0,381.5 53.0,381.5 54.0,381.5 55.0,381.5 56.0,381.5 57.0,381.5 58.0,381.5 59.0,381.4 60.0,381.4 61.0,381.4 62.0,381.4 63.0,381.4 64.0,381.4 65.0,381.3 66.0,381.3 67.0,381.3 68.0,381.3 69.0,381.2 70.0,381.2 71.0,381.2 72.0,381.1 73.0,381.1 74.0,381.1 75.0,381.0 76.0,381.0 77.0,380.9 78.0,380.8 79.0,380.8 80.0,380.6 81.0,380.5 82.0,380.4 83.0,380.2 84.0,380.1 85.0,379.9 86.0,379.6 87.0,379.4 88.0,379.0 89.0,378.7 90.0,378.3 91.0,377.8 92.0,377.2 93.0,376.5 94.0,375.7 95.0,374.8 96.0,373.7 97.0,372.4 98.0,371.0 99.0,369.5 100.0,367.8 101.0,365.9 102.0,363.8 103.0,361.6 104.0,359.2 105.0,356.7 106.0,354.1 107.0,351.4 108.0,348.7 109.0,346.0 110.0,343.5 111.0,341.0 112.0,338.8 113.0,336.8 114.0,335.1 115.0,333.8 116.0,332.8 117.0,332.3 118.0,332.1 119.0,332.3 120.0,332.8 121.0,333.5 122.0,334.5 123.0,335.7 124.0,337.0 125.0,338.4 126.0,339.8 127.0,341.1 128.0,342.4 129.0,343.5 130.0,344.5 131.0,345.2 132.0,345.8 133.0,346.1 134.0,346.3 135.0,346.2 136.0,346.0 137.0,345.7 138.0,345.4 139.0,345.0 140.0,344.7 141.0,344.5 142.0,344.5 143.0,344.6 144.0,344.8 145.0,345.2 146.0,345.7 147.0,346.2 148.0,346.8 149.0,347.3 150.0,347.8 151.0,348.2 152.0,348.5 153.0,348.6 154.0,348.6 155.0,348.5 156.0,348.3 157.0,348.1 158.0,347.8 159.0,347.6 160.0,347.5 161.0,347.4 162.0,347.5 163.0,347.7 164.0,348.0 165.0,348.3 166.0,348.8 167.0,349.2 168.0,349.7 169.0,350.1 170.0,350.4 171.0,350.6 172.0,350.7 173.0,350.7 174.0,350.5 175.0,350.2 176.0,349.7 177.0,349.1 178.0,348.4 179.0,347.6 180.0,346.7 181.0,345.7 182.0,344.8 183.0,343.8 184.0,342.8 185.0,341.9 186.0,341.1 187.0,340.4 188.0,339.8 189.0,339.4 190.0,339.1 191.0,338.9 192.0,338.9 193.0,339.0 194.0,339.2 195.0,339.5 196.0,339.8 197.0,340.2 198.0,340.6 199.0,341.0 200.0,341.3 201.0,341.7 202.0,342.1 203.0,342.5 204.0,342.9 205.0,343.2 206.0,343.6 207.0,344.0 208.0,344.4 209.0,344.8 210.0,345.3 211.0,345.7 212.0,346.2 213.0,346.6 214.0,347.1 215.0,347.5 216.0,347.9 217.0,348.3 218.0,348.6 219.0,349.0 220.0,349.3 221.0,349.5 222.0,349.8 223.0,350.0 224.0,350.1 225.0,350.2 226.0,350.3 227.0,350.4 228.0,350.5 229.0,350.5 230.0,350.5 231.0,350.6 232.0,350.6 233.0,350.6 234.0,350.6 235.0,350.6 236.0,350.5 237.0,350.5 238.0,350.5 239.0,350.5 240.0,350.5 241.0,350.5 242.0,350.5 243.0,350.5 244.0,350.5 245.0,350.5 246.0,350.5 247.0,350.4 248.0,350.4 249.0,350.4 250.0,350.4 251.0,350.4 252.0,350.4 253.0,350.4 254.0,350.4 255.0,350.4 256.0,350.4 257.0,350.4 258.0,350.4 259.0,350.4 260.0,350.4" fill="none" stroke="#f2635f" stroke-width="2.1" stroke-linejoin="round" stroke-linecap="round" /><polyline points="50.0,381.6 51.0,381.6 52.0,381.6 53.0,381.6 54.0,381.6 55.0,381.6 56.0,381.6 57.0,381.5 58.0,381.5 59.0,381.5 60.0,381.5 61.0,381.5 62.0,381.5 63.0,381.5 64.0,381.4 65.0,381.4 66.0,381.4 67.0,381.4 68.0,381.3 69.0,381.3 70.0,381.3 71.0,381.3 72.0,381.2 73.0,381.2 74.0,381.2 75.0,381.1 76.0,381.1 77.0,381.0 78.0,380.9 79.0,380.9 80.0,380.8 81.0,380.6 82.0,380.5 83.0,380.4 84.0,380.2 85.0,380.0 86.0,379.8 87.0,379.5 88.0,379.2 89.0,378.8 90.0,378.4 91.0,377.9 92.0,377.3 93.0,376.7 94.0,375.9 95.0,374.9 96.0,373.8 97.0,372.6 98.0,371.2 99.0,369.7 100.0,368.0 101.0,366.1 102.0,364.0 103.0,361.8 104.0,359.4 105.0,356.9 106.0,354.3 107.0,351.6 108.0,348.9 109.0,346.3 110.0,343.7 111.0,341.3 112.0,339.1 113.0,337.1 114.0,335.4 115.0,334.1 116.0,333.2 117.0,332.7 118.0,332.6 119.0,332.8 120.0,333.4 121.0,334.3 122.0,335.4 123.0,336.8 124.0,338.3 125.0,340.0 126.0,341.8 127.0,343.7 128.0,345.6 129.0,347.4 130.0,349.2 131.0,350.9 132.0,352.6 133.0,354.1 134.0,355.5 135.0,356.8 136.0,357.9 137.0,358.9 138.0,359.7 139.0,360.5 140.0,361.1 141.0,361.5 142.0,361.9 143.0,362.2 144.0,362.4 145.0,362.6 146.0,362.6 147.0,362.7 148.0,362.7 149.0,362.6 150.0,362.6 151.0,362.5 152.0,362.4 153.0,362.2 154.0,362.1 155.0,362.0 156.0,361.8 157.0,361.7 158.0,361.5 159.0,361.3 160.0,361.2 161.0,361.0 162.0,360.9 163.0,360.7 164.0,360.5 165.0,360.4 166.0,360.2 167.0,360.1 168.0,359.9 169.0,359.7 170.0,359.6 171.0,359.4 172.0,359.3 173.0,359.1 174.0,359.0 175.0,358.8 176.0,358.7 177.0,358.5 178.0,358.4 179.0,358.2 180.0,358.1 181.0,357.9 182.0,357.8 183.0,357.6 184.0,357.4 185.0,357.3 186.0,357.1 187.0,357.0 188.0,356.8 189.0,356.6 190.0,356.5 191.0,356.3 192.0,356.1 193.0,355.9 194.0,355.7 195.0,355.5 196.0,355.4 197.0,355.2 198.0,355.0 199.0,354.8 200.0,354.6 201.0,354.4 202.0,354.2 203.0,354.0 204.0,353.8 205.0,353.7 206.0,353.5 207.0,353.3 208.0,353.1 209.0,353.0 210.0,352.8 211.0,352.7 212.0,352.5 213.0,352.4 214.0,352.3 215.0,352.1 216.0,352.0 217.0,351.9 218.0,351.8 219.0,351.8 220.0,351.7 221.0,351.6 222.0,351.6 223.0,351.5 224.0,351.5 225.0,351.4 226.0,351.4 227.0,351.3 228.0,351.3 229.0,351.2 230.0,351.2 231.0,351.1 232.0,351.1 233.0,351.1 234.0,351.0 235.0,351.0 236.0,350.9 237.0,350.9 238.0,350.9 239.0,350.9 240.0,350.8 241.0,350.8 242.0,350.8 243.0,350.8 244.0,350.8 245.0,350.7 246.0,350.7 247.0,350.7 248.0,350.7 249.0,350.7 250.0,350.7 251.0,350.7 252.0,350.6 253.0,350.6 254.0,350.6 255.0,350.6 256.0,350.6 257.0,350.6 258.0,350.6 259.0,350.6 260.0,350.6" fill="none" stroke="#a35aaf" stroke-width="1.9" stroke-linejoin="round" stroke-linecap="round" /><polyline points="50.0,381.8 51.0,381.8 52.0,381.8 53.0,381.8 54.0,381.8 55.0,381.8 56.0,381.8 57.0,381.8 58.0,381.8 59.0,381.8 60.0,381.7 61.0,381.7 62.0,381.7 63.0,381.7 64.0,381.7 65.0,381.7 66.0,381.7 67.0,381.7 68.0,381.7 69.0,381.7 70.0,381.6 71.0,381.6 72.0,381.6 73.0,381.6 74.0,381.6 75.0,381.6 76.0,381.5 77.0,381.5 78.0,381.5 79.0,381.4 80.0,381.4 81.0,381.3 82.0,381.2 83.0,381.1 84.0,381.1 85.0,381.0 86.0,380.9 87.0,380.8 88.0,380.7 89.0,380.6 90.0,380.5 91.0,380.3 92.0,380.2 93.0,380.1 94.0,379.9 95.0,379.7 96.0,379.5 97.0,379.3 98.0,379.1 99.0,378.9 100.0,378.7 101.0,378.5 102.0,378.3 103.0,378.0 104.0,377.8 105.0,377.5 106.0,377.3 107.0,377.0 108.0,376.7 109.0,376.4 110.0,376.1 111.0,375.8 112.0,375.5 113.0,375.2 114.0,374.9 115.0,374.6 116.0,374.3 117.0,374.0 118.0,373.6 119.0,373.3 120.0,372.9 121.0,372.5 122.0,372.0 123.0,371.5 124.0,370.9 125.0,370.2 126.0,369.5 127.0,368.7 128.0,367.7 129.0,366.7 130.0,365.5 131.0,364.2 132.0,362.8 133.0,361.3 134.0,359.7 135.0,358.1 136.0,356.5 137.0,354.9 138.0,353.4 139.0,352.1 140.0,351.0 141.0,350.1 142.0,349.5 143.0,349.2 144.0,349.2 145.0,349.5 146.0,350.0 147.0,350.7 148.0,351.6 149.0,352.6 150.0,353.6 151.0,354.7 152.0,355.7 153.0,356.7 154.0,357.5 155.0,358.2 156.0,358.9 157.0,359.4 158.0,359.8 159.0,360.1 160.0,360.3 161.0,360.4 162.0,360.5 163.0,360.5 164.0,360.5 165.0,360.4 166.0,360.3 167.0,360.2 168.0,360.0 169.0,359.9 170.0,359.8 171.0,359.6 172.0,359.5 173.0,359.3 174.0,359.2 175.0,359.0 176.0,358.9 177.0,358.7 178.0,358.5 179.0,358.4 180.0,358.2 181.0,358.1 182.0,357.9 183.0,357.8 184.0,357.6 185.0,357.4 186.0,357.3 187.0,357.1 188.0,356.9 189.0,356.8 190.0,356.6 191.0,356.4 192.0,356.2 193.0,356.0 194.0,355.9 195.0,355.7 196.0,355.5 197.0,355.3 198.0,355.1 199.0,354.9 200.0,354.7 201.0,354.5 202.0,354.3 203.0,354.1 204.0,353.9 205.0,353.8 206.0,353.6 207.0,353.4 208.0,353.2 209.0,353.1 210.0,352.9 211.0,352.8 212.0,352.6 213.0,352.5 214.0,352.3 215.0,352.2 216.0,352.1 217.0,352.0 218.0,351.9 219.0,351.8 220.0,351.8 221.0,351.7 222.0,351.7 223.0,351.6 224.0,351.5 225.0,351.5 226.0,351.4 227.0,351.4 228.0,351.3 229.0,351.3 230.0,351.2 231.0,351.2 232.0,351.2 233.0,351.1 234.0,351.1 235.0,351.0 236.0,351.0 237.0,351.0 238.0,350.9 239.0,350.9 240.0,350.9 241.0,350.9 242.0,350.8 243.0,350.8 244.0,350.8 245.0,350.8 246.0,350.8 247.0,350.8 248.0,350.7 249.0,350.7 250.0,350.7 251.0,350.7 252.0,350.7 253.0,350.7 254.0,350.7 255.0,350.7 256.0,350.6 257.0,350.6 258.0,350.6 259.0,350.6 260.0,350.6" fill="none" stroke="#f5934a" stroke-width="1.9" stroke-linejoin="round" stroke-linecap="round" /><polyline points="50.0,381.8 51.0,381.8 52.0,381.8 53.0,381.8 54.0,381.8 55.0,381.8 56.0,381.8 57.0,381.8 58.0,381.8 59.0,381.8 60.0,381.8 61.0,381.8 62.0,381.7 63.0,381.7 64.0,381.7 65.0,381.7 66.0,381.7 67.0,381.7 68.0,381.7 69.0,381.7 70.0,381.7 71.0,381.6 72.0,381.6 73.0,381.6 74.0,381.6 75.0,381.6 76.0,381.6 77.0,381.5 78.0,381.5 79.0,381.4 80.0,381.4 81.0,381.3 82.0,381.2 83.0,381.2 84.0,381.1 85.0,381.0 86.0,380.9 87.0,380.8 88.0,380.7 89.0,380.6 90.0,380.5 91.0,380.4 92.0,380.2 93.0,380.1 94.0,379.9 95.0,379.8 96.0,379.6 97.0,379.4 98.0,379.2 99.0,379.0 100.0,378.8 101.0,378.6 102.0,378.3 103.0,378.1 104.0,377.9 105.0,377.6 106.0,377.3 107.0,377.1 108.0,376.8 109.0,376.5 110.0,376.2 111.0,375.9 112.0,375.6 113.0,375.3 114.0,375.0 115.0,374.7 116.0,374.4 117.0,374.2 118.0,373.9 119.0,373.6 120.0,373.2 121.0,372.9 122.0,372.6 123.0,372.3 124.0,371.9 125.0,371.6 126.0,371.3 127.0,370.9 128.0,370.6 129.0,370.2 130.0,369.9 131.0,369.5 132.0,369.2 133.0,368.8 134.0,368.4 135.0,368.1 136.0,367.7 137.0,367.4 138.0,367.0 139.0,366.6 140.0,366.2 141.0,365.7 142.0,365.3 143.0,364.8 144.0,364.2 145.0,363.7 146.0,363.0 147.0,362.3 148.0,361.5 149.0,360.6 150.0,359.7 151.0,358.7 152.0,357.6 153.0,356.5 154.0,355.4 155.0,354.3 156.0,353.3 157.0,352.3 158.0,351.5 159.0,350.8 160.0,350.3 161.0,350.0 162.0,349.9 163.0,350.1 164.0,350.4 165.0,350.8 166.0,351.4 167.0,352.1 168.0,352.8 169.0,353.5 170.0,354.2 171.0,354.9 172.0,355.5 173.0,356.0 174.0,356.5 175.0,356.9 176.0,357.2 177.0,357.4 178.0,357.5 179.0,357.6 180.0,357.6 181.0,357.6 182.0,357.6 183.0,357.5 184.0,357.4 185.0,357.3 186.0,357.2 187.0,357.0 188.0,356.9 189.0,356.7 190.0,356.5 191.0,356.4 192.0,356.2 193.0,356.0 194.0,355.8 195.0,355.6 196.0,355.4 197.0,355.3 198.0,355.1 199.0,354.9 200.0,354.7 201.0,354.5 202.0,354.3 203.0,354.1 204.0,353.9 205.0,353.7 206.0,353.6 207.0,353.4 208.0,353.2 209.0,353.1 210.0,352.9 211.0,352.7 212.0,352.6 213.0,352.5 214.0,352.3 215.0,352.2 216.0,352.1 217.0,352.0 218.0,351.9 219.0,351.8 220.0,351.8 221.0,351.7 222.0,351.7 223.0,351.6 224.0,351.5 225.0,351.5 226.0,351.4 227.0,351.4 228.0,351.3 229.0,351.3 230.0,351.2 231.0,351.2 232.0,351.2 233.0,351.1 234.0,351.1 235.0,351.0 236.0,351.0 237.0,351.0 238.0,350.9 239.0,350.9 240.0,350.9 241.0,350.9 242.0,350.8 243.0,350.8 244.0,350.8 245.0,350.8 246.0,350.8 247.0,350.8 248.0,350.7 249.0,350.7 250.0,350.7 251.0,350.7 252.0,350.7 253.0,350.7 254.0,350.7 255.0,350.7 256.0,350.6 257.0,350.6 258.0,350.6 259.0,350.6 260.0,350.6" fill="none" stroke="#f5934a" stroke-width="1.9" stroke-linejoin="round" stroke-linecap="round" /><polyline points="50.0,381.8 51.0,381.8 52.0,381.8 53.0,381.8 54.0,381.8 55.0,381.8 56.0,381.7 57.0,381.7 58.0,381.7 59.0,381.7 60.0,381.7 61.0,381.7 62.0,381.7 63.0,381.7 64.0,381.7 65.0,381.7 66.0,381.7 67.0,381.7 68.0,381.6 69.0,381.6 70.0,381.6 71.0,381.6 72.0,381.6 73.0,381.6 74.0,381.6 75.0,381.5 76.0,381.5 77.0,381.5 78.0,381.4 79.0,381.4 80.0,381.3 81.0,381.3 82.0,381.2 83.0,381.1 84.0,381.0 85.0,380.9 86.0,380.8 87.0,380.7 88.0,380.6 89.0,380.5 90.0,380.4 91.0,380.3 92.0,380.2 93.0,380.0 94.0,379.9 95.0,379.7 96.0,379.5 97.0,379.3 98.0,379.1 99.0,378.9 100.0,378.7 101.0,378.5 102.0,378.3 103.0,378.0 104.0,377.8 105.0,377.5 106.0,377.3 107.0,377.0 108.0,376.7 109.0,376.4 110.0,376.1 111.0,375.8 112.0,375.6 113.0,375.3 114.0,375.0 115.0,374.7 116.0,374.4 117.0,374.1 118.0,373.8 119.0,373.5 120.0,373.2 121.0,372.8 122.0,372.5 123.0,372.2 124.0,371.8 125.0,371.5 126.0,371.2 127.0,370.8 128.0,370.5 129.0,370.1 130.0,369.8 131.0,369.4 132.0,369.1 133.0,368.7 134.0,368.4 135.0,368.0 136.0,367.7 137.0,367.3 138.0,367.0 139.0,366.6 140.0,366.3 141.0,366.0 142.0,365.7 143.0,365.4 144.0,365.0 145.0,364.7 146.0,364.5 147.0,364.2 148.0,363.9 149.0,363.6 150.0,363.4 151.0,363.1 152.0,362.9 153.0,362.6 154.0,362.4 155.0,362.1 156.0,361.9 157.0,361.6 158.0,361.4 159.0,361.1 160.0,360.8 161.0,360.6 162.0,360.2 163.0,359.9 164.0,359.6 165.0,359.2 166.0,358.8 167.0,358.4 168.0,357.9 169.0,357.3 170.0,356.7 171.0,356.1 172.0,355.4 173.0,354.6 174.0,353.8 175.0,352.9 176.0,352.0 177.0,351.0 178.0,350.0 179.0,348.9 180.0,347.8 181.0,346.7 182.0,345.6 183.0,344.6 184.0,343.6 185.0,342.7 186.0,341.9 187.0,341.2 188.0,340.7 189.0,340.3 190.0,340.2 191.0,340.2 192.0,340.3 193.0,340.6 194.0,341.1 195.0,341.6 196.0,342.3 197.0,343.0 198.0,343.7 199.0,344.4 200.0,345.1 201.0,345.8 202.0,346.5 203.0,347.2 204.0,347.8 205.0,348.3 206.0,348.8 207.0,349.2 208.0,349.6 209.0,349.9 210.0,350.1 211.0,350.4 212.0,350.5 213.0,350.7 214.0,350.8 215.0,350.8 216.0,350.9 217.0,350.9 218.0,351.0 219.0,351.0 220.0,351.0 221.0,351.0 222.0,351.0 223.0,351.0 224.0,351.0 225.0,351.0 226.0,351.0 227.0,350.9 228.0,350.9 229.0,350.9 230.0,350.9 231.0,350.8 232.0,350.8 233.0,350.8 234.0,350.8 235.0,350.7 236.0,350.7 237.0,350.7 238.0,350.7 239.0,350.7 240.0,350.6 241.0,350.6 242.0,350.6 243.0,350.6 244.0,350.6 245.0,350.6 246.0,350.6 247.0,350.6 248.0,350.6 249.0,350.5 250.0,350.5 251.0,350.5 252.0,350.5 253.0,350.5 254.0,350.5 255.0,350.5 256.0,350.5 257.0,350.5 258.0,350.5 259.0,350.5 260.0,350.5" fill="none" stroke="#a35aaf" stroke-width="1.9" stroke-linejoin="round" stroke-linecap="round" /><polyline points="50.0,381.8 51.0,381.8 52.0,381.8 53.0,381.8 54.0,381.8 55.0,381.8 56.0,381.8 57.0,381.8 58.0,381.8 59.0,381.8 60.0,381.8 61.0,381.8 62.0,381.7 63.0,381.7 64.0,381.7 65.0,381.7 66.0,381.7 67.0,381.7 68.0,381.7 69.0,381.7 70.0,381.7 71.0,381.7 72.0,381.6 73.0,381.6 74.0,381.6 75.0,381.6 76.0,381.6 77.0,381.5 78.0,381.5 79.0,381.5 80.0,381.4 81.0,381.3 82.0,381.3 83.0,381.2 84.0,381.1 85.0,381.0 86.0,380.9 87.0,380.8 88.0,380.7 89.0,380.6 90.0,380.5 91.0,380.4 92.0,380.3 93.0,380.1 94.0,379.9 95.0,379.8 96.0,379.6 97.0,379.4 98.0,379.2 99.0,379.0 100.0,378.8 101.0,378.6 102.0,378.4 103.0,378.1 104.0,377.9 105.0,377.6 106.0,377.4 107.0,377.1 108.0,376.8 109.0,376.5 110.0,376.2 111.0,376.0 112.0,375.7 113.0,375.4 114.0,375.1 115.0,374.8 116.0,374.5 117.0,374.2 118.0,373.9 119.0,373.6 120.0,373.3 121.0,373.0 122.0,372.7 123.0,372.3 124.0,372.0 125.0,371.7 126.0,371.3 127.0,371.0 128.0,370.6 129.0,370.3 130.0,370.0 131.0,369.6 132.0,369.3 133.0,368.9 134.0,368.6 135.0,368.2 136.0,367.9 137.0,367.6 138.0,367.2 139.0,366.9 140.0,366.6 141.0,366.3 142.0,366.0 143.0,365.7 144.0,365.4 145.0,365.1 146.0,364.8 147.0,364.5 148.0,364.3 149.0,364.0 150.0,363.8 151.0,363.6 152.0,363.3 153.0,363.1 154.0,362.9 155.0,362.7 156.0,362.5 157.0,362.3 158.0,362.1 159.0,361.9 160.0,361.7 161.0,361.5 162.0,361.3 163.0,361.1 164.0,361.0 165.0,360.8 166.0,360.6 167.0,360.4 168.0,360.3 169.0,360.1 170.0,359.9 171.0,359.7 172.0,359.6 173.0,359.4 174.0,359.2 175.0,359.1 176.0,358.9 177.0,358.7 178.0,358.6 179.0,358.4 180.0,358.2 181.0,358.1 182.0,357.9 183.0,357.7 184.0,357.5 185.0,357.3 186.0,357.0 187.0,356.8 188.0,356.5 189.0,356.2 190.0,355.9 191.0,355.6 192.0,355.2 193.0,354.8 194.0,354.3 195.0,353.8 196.0,353.3 197.0,352.8 198.0,352.3 199.0,351.7 200.0,351.2 201.0,350.7 202.0,350.2 203.0,349.7 204.0,349.3 205.0,348.9 206.0,348.6 207.0,348.4 208.0,348.3 209.0,348.2 210.0,348.3 211.0,348.3 212.0,348.5 213.0,348.6 214.0,348.8 215.0,349.1 216.0,349.3 217.0,349.5 218.0,349.8 219.0,350.0 220.0,350.2 221.0,350.4 222.0,350.6 223.0,350.7 224.0,350.8 225.0,350.9 226.0,351.0 227.0,351.0 228.0,351.0 229.0,351.1 230.0,351.1 231.0,351.1 232.0,351.0 233.0,351.0 234.0,351.0 235.0,351.0 236.0,351.0 237.0,350.9 238.0,350.9 239.0,350.9 240.0,350.9 241.0,350.8 242.0,350.8 243.0,350.8 244.0,350.8 245.0,350.8 246.0,350.8 247.0,350.7 248.0,350.7 249.0,350.7 250.0,350.7 251.0,350.7 252.0,350.7 253.0,350.7 254.0,350.7 255.0,350.6 256.0,350.6 257.0,350.6 258.0,350.6 259.0,350.6 260.0,350.6" fill="none" stroke="#f5934a" stroke-width="1.9" stroke-linejoin="round" stroke-linecap="round" /><polyline points="50.0,381.8 51.0,381.8 52.0,381.8 53.0,381.8 54.0,381.8 55.0,381.8 56.0,381.8 57.0,381.8 58.0,381.8 59.0,381.8 60.0,381.8 61.0,381.8 62.0,381.8 63.0,381.7 64.0,381.7 65.0,381.7 66.0,381.7 67.0,381.7 68.0,381.7 69.0,381.7 70.0,381.7 71.0,381.7 72.0,381.6 73.0,381.6 74.0,381.6 75.0,381.6 76.0,381.6 77.0,381.5 78.0,381.5 79.0,381.5 80.0,381.4 81.0,381.3 82.0,381.3 83.0,381.2 84.0,381.1 85.0,381.0 86.0,380.9 87.0,380.8 88.0,380.7 89.0,380.6 90.0,380.5 91.0,380.4 92.0,380.3 93.0,380.1 94.0,379.9 95.0,379.8 96.0,379.6 97.0,379.4 98.0,379.2 99.0,379.0 100.0,378.8 101.0,378.6 102.0,378.4 103.0,378.1 104.0,377.9 105.0,377.6 106.0,377.4 107.0,377.1 108.0,376.8 109.0,376.5 110.0,376.2 111.0,376.0 112.0,375.7 113.0,375.4 114.0,375.1 115.0,374.8 116.0,374.5 117.0,374.2 118.0,373.9 119.0,373.6 120.0,373.3 121.0,373.0 122.0,372.7 123.0,372.3 124.0,372.0 125.0,371.7 126.0,371.3 127.0,371.0 128.0,370.7 129.0,370.3 130.0,370.0 131.0,369.6 132.0,369.3 133.0,368.9 134.0,368.6 135.0,368.2 136.0,367.9 137.0,367.6 138.0,367.2 139.0,366.9 140.0,366.6 141.0,366.3 142.0,366.0 143.0,365.7 144.0,365.4 145.0,365.1 146.0,364.8 147.0,364.5 148.0,364.3 149.0,364.0 150.0,363.8 151.0,363.6 152.0,363.4 153.0,363.1 154.0,362.9 155.0,362.7 156.0,362.5 157.0,362.3 158.0,362.1 159.0,361.9 160.0,361.7 161.0,361.5 162.0,361.3 163.0,361.2 164.0,361.0 165.0,360.8 166.0,360.6 167.0,360.5 168.0,360.3 169.0,360.1 170.0,359.9 171.0,359.8 172.0,359.6 173.0,359.5 174.0,359.3 175.0,359.1 176.0,359.0 177.0,358.8 178.0,358.6 179.0,358.5 180.0,358.3 181.0,358.2 182.0,358.0 183.0,357.8 184.0,357.7 185.0,357.5 186.0,357.3 187.0,357.2 188.0,357.0 189.0,356.8 190.0,356.6 191.0,356.5 192.0,356.3 193.0,356.1 194.0,355.9 195.0,355.7 196.0,355.5 197.0,355.3 198.0,355.1 199.0,354.9 200.0,354.7 201.0,354.5 202.0,354.3 203.0,354.2 204.0,354.0 205.0,353.8 206.0,353.6 207.0,353.4 208.0,353.3 209.0,353.1 210.0,352.9 211.0,352.8 212.0,352.6 213.0,352.5 214.0,352.4 215.0,352.3 216.0,352.1 217.0,352.0 218.0,351.9 219.0,351.9 220.0,351.8 221.0,351.7 222.0,351.7 223.0,351.6 224.0,351.6 225.0,351.5 226.0,351.5 227.0,351.4 228.0,351.4 229.0,351.3 230.0,351.3 231.0,351.2 232.0,351.2 233.0,351.1 234.0,351.1 235.0,351.1 236.0,351.0 237.0,351.0 238.0,351.0 239.0,350.9 240.0,350.9 241.0,350.9 242.0,350.9 243.0,350.8 244.0,350.8 245.0,350.8 246.0,350.8 247.0,350.8 248.0,350.8 249.0,350.7 250.0,350.7 251.0,350.7 252.0,350.7 253.0,350.7 254.0,350.7 255.0,350.7 256.0,350.7 257.0,350.6 258.0,350.6 259.0,350.6 260.0,350.6" fill="none" stroke="#f5934a" stroke-width="2.1" stroke-linejoin="round" stroke-linecap="round" /></g>
<rect x="50" y="227.5" width="215.2" height="168.10000000000002" fill="none" stroke="#222" stroke-width="1.5"/>
<line x1="50.0" y1="395.6" x2="50.0" y2="398.6" stroke="#222" stroke-width="1.2"/>
<text x="0" y="0" font-size="10.2" fill="#111" stroke="#111" stroke-width="0.3" text-anchor="middle" transform="translate(50.0,409.8) scale(1,1.15)" >700</text>
<line x1="78.6" y1="395.6" x2="78.6" y2="398.6" stroke="#222" stroke-width="1.2"/>
<line x1="107.3" y1="395.6" x2="107.3" y2="398.6" stroke="#222" stroke-width="1.2"/>
<text x="0" y="0" font-size="10.2" fill="#111" stroke="#111" stroke-width="0.3" text-anchor="middle" transform="translate(107.3,409.8) scale(1,1.15)" >710</text>
<line x1="135.9" y1="395.6" x2="135.9" y2="398.6" stroke="#222" stroke-width="1.2"/>
<line x1="164.5" y1="395.6" x2="164.5" y2="398.6" stroke="#222" stroke-width="1.2"/>
<text x="0" y="0" font-size="10.2" fill="#111" stroke="#111" stroke-width="0.3" text-anchor="middle" transform="translate(164.5,409.8) scale(1,1.15)" >720</text>
<line x1="193.2" y1="395.6" x2="193.2" y2="398.6" stroke="#222" stroke-width="1.2"/>
<line x1="221.8" y1="395.6" x2="221.8" y2="398.6" stroke="#222" stroke-width="1.2"/>
<text x="0" y="0" font-size="10.2" fill="#111" stroke="#111" stroke-width="0.3" text-anchor="middle" transform="translate(221.8,409.8) scale(1,1.15)" >730</text>
<line x1="250.4" y1="395.6" x2="250.4" y2="398.6" stroke="#222" stroke-width="1.2"/>
<text x="0" y="0" font-size="10.4" fill="#111" stroke="#111" stroke-width="0.3" text-anchor="middle" transform="translate(157.6,424.7) scale(1,1.07)" >Binding energy (eV)</text>
<text x="0" y="0" font-size="10.5" fill="#111" stroke="#111" stroke-width="0.12" text-anchor="middle" transform="translate(39.8,313) rotate(-90) scale(1,1.08)">intensity (a.u.)</text>
<text x="0" y="0" font-size="14" fill="#111" stroke="#111" stroke-width="0.3" text-anchor="start" transform="translate(15.0,230.7) scale(1,1.08)" >c</text>
<text x="0" y="0" font-size="10.0" fill="#111" stroke="#111" stroke-width="0.3" text-anchor="start" transform="translate(102.2,238.0) scale(1,1.0)" >2p<tspan font-size="7.0" dy="3.1">3/2</tspan></text>
<text x="0" y="0" font-size="10.0" fill="#111" stroke="#111" stroke-width="0.3" text-anchor="start" transform="translate(179.2,239.5) scale(1,1.1)" >2p<tspan font-size="7.0" dy="2.6">1/2</tspan></text>
<text x="0" y="0" font-size="10.2" fill="#111" stroke="#111" stroke-width="0.3" text-anchor="start" transform="translate(236.2,242.2) scale(1,1.05)" >H600</text>
<text x="0" y="0" font-size="10.2" fill="#111" stroke="#111" stroke-width="0.3" text-anchor="start" transform="translate(236.5,328.7) scale(1,1.03)" >H400</text>
<text x="0" y="0" font-size="10.2" fill="#a66cb9" stroke="#a66cb9" stroke-width="0.3" text-anchor="start" transform="translate(67,262.2) scale(1,1.15)" >Fe(III)</text>
<text x="0" y="0" font-size="10.2" fill="#a66cb9" stroke="#a66cb9" stroke-width="0.3" text-anchor="start" transform="translate(71.8,343) scale(1,1.15)" >Fe(III)</text>
<text x="0" y="0" font-size="10.2" fill="#f6a36a" stroke="#f6a36a" stroke-width="0.3" text-anchor="start" transform="translate(134.6,326.5) scale(1,1.15)" >Satellites</text>
<line x1="100.4" y1="276.2" x2="93.3" y2="270.3" stroke="#111" stroke-width="1.35"/><polygon points="87.9,265.8 92.2,266.9 94.0,270.9 89.8,269.8" fill="#111" stroke="#111" stroke-width="0.5" stroke-linejoin="round"/>
<line x1="103.1" y1="359.1" x2="95.5" y2="351.5" stroke="#111" stroke-width="1.35"/><polygon points="90.6,346.6 94.8,348.1 96.3,352.3 92.1,350.8" fill="#111" stroke="#111" stroke-width="0.5" stroke-linejoin="round"/>
<line x1="142.7" y1="347.0" x2="148.9" y2="336.5" stroke="#111" stroke-width="1.35"/><polygon points="152.4,330.5 152.0,334.9 148.3,337.4 148.7,333.0" fill="#111" stroke="#111" stroke-width="0.5" stroke-linejoin="round"/>
<line x1="161.8" y1="347.0" x2="159.3" y2="337.3" stroke="#111" stroke-width="1.35"/><polygon points="157.5,330.5 160.3,333.9 159.5,338.2 156.7,334.8" fill="#111" stroke="#111" stroke-width="0.5" stroke-linejoin="round"/>
<rect x="345.0" y="325.0" width="23.6" height="79.5" fill="#a5c9e5"/>
<rect x="368.6" y="297.3" width="23.6" height="107.2" fill="#fb8075"/>
<rect x="404.0" y="248.9" width="23.6" height="155.6" fill="#a5c9e5"/>
<rect x="427.6" y="259.3" width="23.6" height="145.2" fill="#fb8075"/>
<rect x="463.1" y="293.8" width="23.6" height="110.7" fill="#a5c9e5"/>
<rect x="486.7" y="311.1" width="23.6" height="93.4" fill="#fb8075"/>
<rect x="321.2" y="231.6" width="213.00000000000006" height="172.9" fill="none" stroke="#222" stroke-width="1.5"/>
<line x1="317.7" y1="404.5" x2="321.2" y2="404.5" stroke="#222" stroke-width="1.2"/>
<text x="0" y="0" font-size="10.3" fill="#111" stroke="#111" stroke-width="0.3" text-anchor="end" transform="translate(315.8,408.1) scale(1,1.15)" >0</text>
<line x1="318.7" y1="387.2" x2="321.2" y2="387.2" stroke="#222" stroke-width="1.2"/>
<line x1="317.7" y1="369.9" x2="321.2" y2="369.9" stroke="#222" stroke-width="1.2"/>
<text x="0" y="0" font-size="10.3" fill="#111" stroke="#111" stroke-width="0.3" text-anchor="end" transform="translate(315.8,373.5) scale(1,1.15)" >10</text>
<line x1="318.7" y1="352.6" x2="321.2" y2="352.6" stroke="#222" stroke-width="1.2"/>
<line x1="317.7" y1="335.3" x2="321.2" y2="335.3" stroke="#222" stroke-width="1.2"/>
<text x="0" y="0" font-size="10.3" fill="#111" stroke="#111" stroke-width="0.3" text-anchor="end" transform="translate(315.8,338.9) scale(1,1.15)" >20</text>
<line x1="318.7" y1="318.1" x2="321.2" y2="318.1" stroke="#222" stroke-width="1.2"/>
<line x1="317.7" y1="300.8" x2="321.2" y2="300.8" stroke="#222" stroke-width="1.2"/>
<text x="0" y="0" font-size="10.3" fill="#111" stroke="#111" stroke-width="0.3" text-anchor="end" transform="translate(315.8,304.4) scale(1,1.15)" >30</text>
<line x1="318.7" y1="283.5" x2="321.2" y2="283.5" stroke="#222" stroke-width="1.2"/>
<line x1="317.7" y1="266.2" x2="321.2" y2="266.2" stroke="#222" stroke-width="1.2"/>
<text x="0" y="0" font-size="10.3" fill="#111" stroke="#111" stroke-width="0.3" text-anchor="end" transform="translate(315.8,269.8) scale(1,1.15)" >40</text>
<line x1="318.7" y1="248.9" x2="321.2" y2="248.9" stroke="#222" stroke-width="1.2"/>
<line x1="317.7" y1="231.6" x2="321.2" y2="231.6" stroke="#222" stroke-width="1.2"/>
<text x="0" y="0" font-size="10.3" fill="#111" stroke="#111" stroke-width="0.3" text-anchor="end" transform="translate(315.8,235.2) scale(1,1.15)" >50</text>
<line x1="368.8" y1="404.5" x2="368.8" y2="407.5" stroke="#222" stroke-width="1.2"/>
<text x="0" y="0" font-size="11.2" fill="#111" stroke="#111" stroke-width="0.3" text-anchor="middle" transform="translate(368.8,422.6) scale(1,1.15)" >Pt</text>
<line x1="427.6" y1="404.5" x2="427.6" y2="407.5" stroke="#222" stroke-width="1.2"/>
<text x="0" y="0" font-size="11.2" fill="#111" stroke="#111" stroke-width="0.3" text-anchor="middle" transform="translate(427.6,422.6) scale(1,1.15)" >Co</text>
<line x1="486.6" y1="404.5" x2="486.6" y2="407.5" stroke="#222" stroke-width="1.2"/>
<text x="0" y="0" font-size="11.2" fill="#111" stroke="#111" stroke-width="0.3" text-anchor="middle" transform="translate(486.6,422.6) scale(1,1.15)" >Fe</text>
<text x="0" y="0" font-size="11.2" fill="#111" stroke="#111" stroke-width="0.15" text-anchor="middle" transform="translate(299.5,317.7) rotate(-90) scale(1,1.06)">Surface atomic percentage (%)</text>
<text x="0" y="0" font-size="13.6" fill="#111" stroke="#111" stroke-width="0.3" text-anchor="start" transform="translate(283.4,232.3) scale(1,1.05)" >d</text>
<rect x="328" y="235.6" width="25" height="12.4" fill="#a5c9e5"/>
<rect x="328" y="250" width="25" height="12.5" fill="#fb8075"/>
<text x="0" y="0" font-size="10.9" fill="#111" stroke="#111" stroke-width="0.3" text-anchor="start" transform="translate(356.0,245.2) scale(1,1.0)" >H400</text>
<text x="0" y="0" font-size="10.9" fill="#111" stroke="#111" stroke-width="0.3" text-anchor="start" transform="translate(356.0,259.2) scale(1,1.0)" >H600</text>
</svg></body></html>
